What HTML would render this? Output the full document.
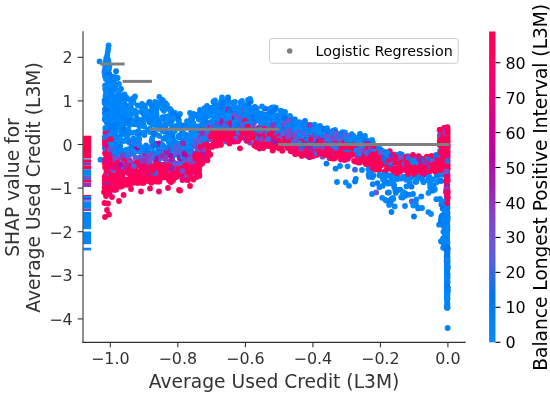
<!DOCTYPE html>
<html><head><meta charset="utf-8"><title>SHAP dependence plot</title>
<style>html,body{margin:0;padding:0;background:#fff;overflow:hidden}svg{display:block}</style></head>
<body>
<svg width="550" height="396" viewBox="0 0 550 396">
<defs><linearGradient id="cb" x1="0" y1="1" x2="0" y2="0">
<stop offset="0.00" stop-color="#008bfb"/>
<stop offset="0.05" stop-color="#0084f9"/>
<stop offset="0.10" stop-color="#007cf5"/>
<stop offset="0.15" stop-color="#0075f0"/>
<stop offset="0.20" stop-color="#246cea"/>
<stop offset="0.25" stop-color="#4b63e3"/>
<stop offset="0.30" stop-color="#635adb"/>
<stop offset="0.35" stop-color="#754fd1"/>
<stop offset="0.40" stop-color="#8443c6"/>
<stop offset="0.45" stop-color="#9135ba"/>
<stop offset="0.50" stop-color="#9b23ad"/>
<stop offset="0.55" stop-color="#ac16a7"/>
<stop offset="0.60" stop-color="#bb00a0"/>
<stop offset="0.65" stop-color="#c90098"/>
<stop offset="0.70" stop-color="#d5008f"/>
<stop offset="0.75" stop-color="#e00086"/>
<stop offset="0.80" stop-color="#e9007c"/>
<stop offset="0.85" stop-color="#f20072"/>
<stop offset="0.90" stop-color="#f90067"/>
<stop offset="0.95" stop-color="#fe005c"/>
<stop offset="1.00" stop-color="#ff0051"/>
</linearGradient></defs>
<rect width="550" height="396" fill="#fff"/>
<g id="pts">
<circle cx="139.7" cy="145.9" r="2.9" fill="#9234b9"/>
<circle cx="286.7" cy="125.7" r="2.9" fill="#595edf"/>
<circle cx="446.3" cy="146.4" r="2.9" fill="#ff0057"/>
<circle cx="214.4" cy="142.1" r="2.9" fill="#ff0059"/>
<circle cx="164.7" cy="131.7" r="2.9" fill="#1d6deb"/>
<circle cx="365.7" cy="144.2" r="2.9" fill="#008afb"/>
<circle cx="371.7" cy="159.5" r="2.9" fill="#ef0075"/>
<circle cx="220.8" cy="144.2" r="2.9" fill="#fd005e"/>
<circle cx="271.0" cy="108.2" r="2.9" fill="#0087fa"/>
<circle cx="108.7" cy="144.1" r="2.9" fill="#0085f9"/>
<circle cx="202.7" cy="120.6" r="2.9" fill="#0088fa"/>
<circle cx="447.1" cy="158.3" r="2.9" fill="#ff0056"/>
<circle cx="134.0" cy="98.0" r="2.9" fill="#0086f9"/>
<circle cx="394.8" cy="156.1" r="2.9" fill="#0084f9"/>
<circle cx="445.7" cy="164.6" r="2.9" fill="#ff0059"/>
<circle cx="399.2" cy="170.0" r="2.9" fill="#ff005c"/>
<circle cx="326.5" cy="130.5" r="2.9" fill="#0086f9"/>
<circle cx="144.5" cy="164.7" r="2.9" fill="#fc0060"/>
<circle cx="435.1" cy="170.3" r="2.9" fill="#fc0060"/>
<circle cx="442.8" cy="160.6" r="2.9" fill="#ff005a"/>
<circle cx="446.8" cy="283.3" r="2.9" fill="#0079f4"/>
<circle cx="153.1" cy="177.3" r="2.9" fill="#fe005e"/>
<circle cx="446.5" cy="229.4" r="2.9" fill="#0089fa"/>
<circle cx="314.3" cy="142.6" r="2.9" fill="#fc0060"/>
<circle cx="267.9" cy="143.4" r="2.9" fill="#fe005e"/>
<circle cx="343.7" cy="133.0" r="2.9" fill="#0084f9"/>
<circle cx="370.6" cy="164.3" r="2.9" fill="#ff0053"/>
<circle cx="388.8" cy="155.5" r="2.9" fill="#585edf"/>
<circle cx="159.5" cy="180.6" r="2.9" fill="#ff005a"/>
<circle cx="143.5" cy="182.9" r="2.9" fill="#eb007a"/>
<circle cx="446.9" cy="212.2" r="2.9" fill="#794ccf"/>
<circle cx="446.8" cy="185.7" r="2.9" fill="#fa0064"/>
<circle cx="445.0" cy="207.0" r="2.9" fill="#007af4"/>
<circle cx="205.1" cy="123.0" r="2.9" fill="#0085f9"/>
<circle cx="445.0" cy="169.5" r="2.9" fill="#fd005f"/>
<circle cx="125.1" cy="179.4" r="2.9" fill="#ff005b"/>
<circle cx="208.5" cy="115.8" r="2.9" fill="#0083f8"/>
<circle cx="200.8" cy="119.2" r="2.9" fill="#007ef6"/>
<circle cx="146.5" cy="117.8" r="2.9" fill="#0088fa"/>
<circle cx="319.7" cy="132.8" r="2.9" fill="#0083f8"/>
<circle cx="169.0" cy="142.0" r="2.9" fill="#0088fa"/>
<circle cx="126.8" cy="166.7" r="2.9" fill="#fe005c"/>
<circle cx="222.9" cy="111.9" r="2.9" fill="#585edf"/>
<circle cx="143.1" cy="180.8" r="2.9" fill="#ff005b"/>
<circle cx="204.4" cy="137.5" r="2.9" fill="#6b55d7"/>
<circle cx="229.8" cy="121.7" r="2.9" fill="#007ff7"/>
<circle cx="109.6" cy="113.6" r="2.9" fill="#0078f3"/>
<circle cx="404.5" cy="160.7" r="2.9" fill="#605bdc"/>
<circle cx="419.3" cy="159.3" r="2.9" fill="#f4006f"/>
<circle cx="220.2" cy="129.7" r="2.9" fill="#ff0059"/>
<circle cx="229.4" cy="135.3" r="2.9" fill="#b20ea4"/>
<circle cx="250.1" cy="132.0" r="2.9" fill="#bb00a0"/>
<circle cx="175.6" cy="170.1" r="2.9" fill="#f10073"/>
<circle cx="218.0" cy="108.9" r="2.9" fill="#0089fa"/>
<circle cx="106.0" cy="60.5" r="2.9" fill="#0088fa"/>
<circle cx="303.2" cy="145.7" r="2.9" fill="#ff0054"/>
<circle cx="131.0" cy="189.0" r="2.9" fill="#fd005f"/>
<circle cx="100.5" cy="159.7" r="2.9" fill="#0086fa"/>
<circle cx="279.8" cy="138.0" r="2.9" fill="#ff0052"/>
<circle cx="367.4" cy="152.8" r="2.9" fill="#ff0055"/>
<circle cx="161.9" cy="119.2" r="2.9" fill="#008afb"/>
<circle cx="446.8" cy="132.6" r="2.9" fill="#ff005a"/>
<circle cx="131.7" cy="166.9" r="2.9" fill="#007af4"/>
<circle cx="105.1" cy="109.0" r="2.9" fill="#007ef6"/>
<circle cx="249.6" cy="110.3" r="2.9" fill="#0076f1"/>
<circle cx="190.9" cy="170.9" r="2.9" fill="#ff0053"/>
<circle cx="275.6" cy="144.6" r="2.9" fill="#ee0077"/>
<circle cx="133.1" cy="111.0" r="2.9" fill="#007df6"/>
<circle cx="277.9" cy="147.0" r="2.9" fill="#ff0055"/>
<circle cx="307.5" cy="155.6" r="2.9" fill="#fd005e"/>
<circle cx="223.3" cy="108.0" r="2.9" fill="#3769e8"/>
<circle cx="446.1" cy="156.1" r="2.9" fill="#8b3cc0"/>
<circle cx="131.0" cy="169.8" r="2.9" fill="#8c3bbf"/>
<circle cx="302.0" cy="149.9" r="2.9" fill="#ff005b"/>
<circle cx="196.4" cy="155.9" r="2.9" fill="#fe005c"/>
<circle cx="164.3" cy="105.0" r="2.9" fill="#008afb"/>
<circle cx="151.3" cy="130.3" r="2.9" fill="#3569e8"/>
<circle cx="445.7" cy="133.2" r="2.9" fill="#fd0060"/>
<circle cx="149.2" cy="180.8" r="2.9" fill="#ff005b"/>
<circle cx="446.6" cy="158.9" r="2.9" fill="#ff0057"/>
<circle cx="440.7" cy="145.5" r="2.9" fill="#ff005b"/>
<circle cx="127.3" cy="121.6" r="2.9" fill="#0086f9"/>
<circle cx="446.9" cy="233.5" r="2.9" fill="#0080f7"/>
<circle cx="108.3" cy="48.5" r="2.9" fill="#0088fa"/>
<circle cx="108.4" cy="106.1" r="2.9" fill="#0085f9"/>
<circle cx="261.4" cy="145.9" r="2.9" fill="#ff0054"/>
<circle cx="370.9" cy="170.2" r="2.9" fill="#0077f2"/>
<circle cx="314.6" cy="139.4" r="2.9" fill="#0084f9"/>
<circle cx="155.5" cy="171.4" r="2.9" fill="#ff0057"/>
<circle cx="242.7" cy="129.0" r="2.9" fill="#5161e1"/>
<circle cx="339.9" cy="155.7" r="2.9" fill="#ff005c"/>
<circle cx="243.0" cy="121.2" r="2.9" fill="#3b68e7"/>
<circle cx="218.6" cy="119.6" r="2.9" fill="#0084f9"/>
<circle cx="446.2" cy="242.8" r="2.9" fill="#0083f9"/>
<circle cx="430.9" cy="162.2" r="2.9" fill="#4266e5"/>
<circle cx="447.2" cy="283.7" r="2.9" fill="#008bfb"/>
<circle cx="154.2" cy="124.4" r="2.9" fill="#0086fa"/>
<circle cx="273.7" cy="115.3" r="2.9" fill="#7350d2"/>
<circle cx="131.0" cy="183.8" r="2.9" fill="#ff0054"/>
<circle cx="149.7" cy="163.4" r="2.9" fill="#ab17a7"/>
<circle cx="162.6" cy="176.3" r="2.9" fill="#ff0057"/>
<circle cx="186.5" cy="158.2" r="2.9" fill="#9f21ac"/>
<circle cx="173.2" cy="145.3" r="2.9" fill="#4466e5"/>
<circle cx="443.1" cy="247.8" r="2.9" fill="#0089fa"/>
<circle cx="447.3" cy="179.2" r="2.9" fill="#f00074"/>
<circle cx="447.0" cy="208.3" r="2.9" fill="#0086f9"/>
<circle cx="443.7" cy="225.0" r="2.9" fill="#007ef6"/>
<circle cx="426.2" cy="162.2" r="2.9" fill="#635adb"/>
<circle cx="143.4" cy="164.4" r="2.9" fill="#ff0056"/>
<circle cx="139.2" cy="139.5" r="2.9" fill="#0085f9"/>
<circle cx="130.8" cy="140.4" r="2.9" fill="#0086f9"/>
<circle cx="447.3" cy="174.9" r="2.9" fill="#ea007b"/>
<circle cx="302.0" cy="124.7" r="2.9" fill="#0084f9"/>
<circle cx="220.9" cy="106.5" r="2.9" fill="#0075f1"/>
<circle cx="179.4" cy="123.7" r="2.9" fill="#0085f9"/>
<circle cx="293.7" cy="146.4" r="2.9" fill="#6b56d7"/>
<circle cx="203.5" cy="150.1" r="2.9" fill="#ff0054"/>
<circle cx="107.5" cy="130.1" r="2.9" fill="#0086fa"/>
<circle cx="447.3" cy="162.6" r="2.9" fill="#982ab1"/>
<circle cx="227.5" cy="116.1" r="2.9" fill="#0085f9"/>
<circle cx="120.6" cy="182.8" r="2.9" fill="#ff0059"/>
<circle cx="105.5" cy="132.6" r="2.9" fill="#0082f8"/>
<circle cx="447.2" cy="254.1" r="2.9" fill="#0085f9"/>
<circle cx="417.2" cy="158.5" r="2.9" fill="#0082f8"/>
<circle cx="144.4" cy="115.7" r="2.9" fill="#0084f9"/>
<circle cx="418.2" cy="208.4" r="2.9" fill="#0088fa"/>
<circle cx="191.9" cy="171.7" r="2.9" fill="#ff0059"/>
<circle cx="155.0" cy="102.0" r="2.9" fill="#0087fa"/>
<circle cx="414.3" cy="160.9" r="2.9" fill="#8e39bd"/>
<circle cx="447.2" cy="283.1" r="2.9" fill="#0078f3"/>
<circle cx="289.8" cy="144.0" r="2.9" fill="#ff005a"/>
<circle cx="433.6" cy="185.4" r="2.9" fill="#0077f2"/>
<circle cx="425.9" cy="162.2" r="2.9" fill="#326ae9"/>
<circle cx="198.9" cy="119.6" r="2.9" fill="#0088fa"/>
<circle cx="352.0" cy="142.9" r="2.9" fill="#ff005b"/>
<circle cx="365.9" cy="164.0" r="2.9" fill="#fc0061"/>
<circle cx="424.4" cy="174.7" r="2.9" fill="#ff005b"/>
<circle cx="244.8" cy="118.9" r="2.9" fill="#007cf5"/>
<circle cx="106.5" cy="112.3" r="2.9" fill="#0086fa"/>
<circle cx="203.3" cy="146.0" r="2.9" fill="#ef0075"/>
<circle cx="264.0" cy="128.2" r="2.9" fill="#fe005d"/>
<circle cx="145.5" cy="112.5" r="2.9" fill="#0084f9"/>
<circle cx="176.2" cy="166.0" r="2.9" fill="#ff0057"/>
<circle cx="446.9" cy="168.4" r="2.9" fill="#fd0060"/>
<circle cx="390.9" cy="162.3" r="2.9" fill="#fd0060"/>
<circle cx="274.7" cy="123.4" r="2.9" fill="#0083f8"/>
<circle cx="375.8" cy="155.0" r="2.9" fill="#6658d9"/>
<circle cx="443.2" cy="165.5" r="2.9" fill="#ff0057"/>
<circle cx="424.9" cy="161.5" r="2.9" fill="#ff0053"/>
<circle cx="443.9" cy="152.8" r="2.9" fill="#4665e5"/>
<circle cx="367.4" cy="149.4" r="2.9" fill="#007ef6"/>
<circle cx="148.1" cy="147.4" r="2.9" fill="#0087fa"/>
<circle cx="198.8" cy="166.9" r="2.9" fill="#ff0053"/>
<circle cx="249.7" cy="118.2" r="2.9" fill="#008bfb"/>
<circle cx="134.6" cy="177.6" r="2.9" fill="#f7006a"/>
<circle cx="399.4" cy="171.8" r="2.9" fill="#ff005b"/>
<circle cx="401.7" cy="164.1" r="2.9" fill="#fe005d"/>
<circle cx="437.7" cy="156.3" r="2.9" fill="#8d3abe"/>
<circle cx="109.4" cy="141.6" r="2.9" fill="#0085f9"/>
<circle cx="307.4" cy="133.8" r="2.9" fill="#8b3cc0"/>
<circle cx="352.5" cy="137.4" r="2.9" fill="#007df5"/>
<circle cx="241.4" cy="123.3" r="2.9" fill="#0087fa"/>
<circle cx="164.9" cy="152.9" r="2.9" fill="#276cea"/>
<circle cx="224.6" cy="135.1" r="2.9" fill="#6e54d5"/>
<circle cx="440.0" cy="161.9" r="2.9" fill="#fd005f"/>
<circle cx="150.0" cy="188.5" r="2.9" fill="#fc0061"/>
<circle cx="113.2" cy="108.9" r="2.9" fill="#008afb"/>
<circle cx="128.7" cy="142.0" r="2.9" fill="#2f6ae9"/>
<circle cx="364.8" cy="139.2" r="2.9" fill="#0082f8"/>
<circle cx="227.9" cy="129.3" r="2.9" fill="#883fc2"/>
<circle cx="345.5" cy="145.8" r="2.9" fill="#fe005c"/>
<circle cx="309.0" cy="139.7" r="2.9" fill="#0083f8"/>
<circle cx="447.3" cy="130.4" r="2.9" fill="#fe005d"/>
<circle cx="296.2" cy="143.0" r="2.9" fill="#7151d3"/>
<circle cx="447.0" cy="288.5" r="2.9" fill="#0086f9"/>
<circle cx="112.0" cy="197.0" r="2.9" fill="#ff005a"/>
<circle cx="436.0" cy="155.0" r="2.9" fill="#0088fa"/>
<circle cx="339.7" cy="134.1" r="2.9" fill="#0083f8"/>
<circle cx="410.5" cy="161.1" r="2.9" fill="#2f6ae9"/>
<circle cx="398.0" cy="190.0" r="2.9" fill="#6559da"/>
<circle cx="115.0" cy="99.9" r="2.9" fill="#0088fa"/>
<circle cx="430.0" cy="160.0" r="2.9" fill="#0089fa"/>
<circle cx="156.6" cy="174.0" r="2.9" fill="#ff005a"/>
<circle cx="120.3" cy="124.6" r="2.9" fill="#0082f8"/>
<circle cx="350.0" cy="138.2" r="2.9" fill="#008afb"/>
<circle cx="114.7" cy="119.7" r="2.9" fill="#0075f1"/>
<circle cx="447.0" cy="148.6" r="2.9" fill="#ff0054"/>
<circle cx="105.6" cy="163.8" r="2.9" fill="#fe005d"/>
<circle cx="135.4" cy="164.4" r="2.9" fill="#fd0060"/>
<circle cx="190.0" cy="186.0" r="2.9" fill="#ff0052"/>
<circle cx="323.9" cy="145.2" r="2.9" fill="#ff0055"/>
<circle cx="234.6" cy="136.5" r="2.9" fill="#ff0056"/>
<circle cx="156.1" cy="155.4" r="2.9" fill="#008bfb"/>
<circle cx="112.1" cy="149.3" r="2.9" fill="#0087fa"/>
<circle cx="184.4" cy="134.6" r="2.9" fill="#0084f9"/>
<circle cx="432.9" cy="164.0" r="2.9" fill="#ff0055"/>
<circle cx="123.0" cy="111.6" r="2.9" fill="#0089fa"/>
<circle cx="374.9" cy="152.8" r="2.9" fill="#0083f8"/>
<circle cx="204.9" cy="140.1" r="2.9" fill="#ff0053"/>
<circle cx="324.2" cy="139.3" r="2.9" fill="#ff005a"/>
<circle cx="264.4" cy="138.3" r="2.9" fill="#ff005a"/>
<circle cx="195.6" cy="154.9" r="2.9" fill="#893ec2"/>
<circle cx="360.0" cy="134.0" r="2.9" fill="#0082f8"/>
<circle cx="271.9" cy="107.9" r="2.9" fill="#0085f9"/>
<circle cx="384.8" cy="181.4" r="2.9" fill="#0085f9"/>
<circle cx="229.4" cy="141.0" r="2.9" fill="#eb007b"/>
<circle cx="216.3" cy="127.2" r="2.9" fill="#0079f4"/>
<circle cx="164.3" cy="169.1" r="2.9" fill="#ff0054"/>
<circle cx="212.5" cy="133.1" r="2.9" fill="#8f37bc"/>
<circle cx="177.0" cy="175.7" r="2.9" fill="#fd005f"/>
<circle cx="286.5" cy="143.7" r="2.9" fill="#ff0057"/>
<circle cx="324.0" cy="140.1" r="2.9" fill="#8245c8"/>
<circle cx="130.4" cy="111.6" r="2.9" fill="#0077f2"/>
<circle cx="447.4" cy="297.9" r="2.9" fill="#336ae8"/>
<circle cx="182.3" cy="169.9" r="2.9" fill="#ff0052"/>
<circle cx="389.5" cy="155.6" r="2.9" fill="#794cce"/>
<circle cx="182.3" cy="128.1" r="2.9" fill="#0087fa"/>
<circle cx="257.0" cy="146.9" r="2.9" fill="#ff005a"/>
<circle cx="208.7" cy="136.8" r="2.9" fill="#7b4bcd"/>
<circle cx="340.6" cy="137.6" r="2.9" fill="#008afb"/>
<circle cx="333.3" cy="158.7" r="2.9" fill="#ff0058"/>
<circle cx="226.3" cy="128.0" r="2.9" fill="#0087fa"/>
<circle cx="147.4" cy="170.4" r="2.9" fill="#6f53d4"/>
<circle cx="221.0" cy="101.5" r="2.9" fill="#008afb"/>
<circle cx="292.1" cy="119.5" r="2.9" fill="#0076f2"/>
<circle cx="220.6" cy="123.6" r="2.9" fill="#0072ee"/>
<circle cx="447.4" cy="159.2" r="2.9" fill="#f80068"/>
<circle cx="361.1" cy="143.0" r="2.9" fill="#0084f9"/>
<circle cx="446.1" cy="248.8" r="2.9" fill="#0085f9"/>
<circle cx="293.5" cy="149.4" r="2.9" fill="#ff005a"/>
<circle cx="447.4" cy="152.2" r="2.9" fill="#7450d2"/>
<circle cx="391.6" cy="180.4" r="2.9" fill="#0087fa"/>
<circle cx="201.4" cy="150.1" r="2.9" fill="#6d54d6"/>
<circle cx="415.3" cy="165.6" r="2.9" fill="#784dcf"/>
<circle cx="416.1" cy="170.3" r="2.9" fill="#ff0058"/>
<circle cx="446.7" cy="201.8" r="2.9" fill="#007af4"/>
<circle cx="363.1" cy="157.7" r="2.9" fill="#fe005c"/>
<circle cx="447.2" cy="132.8" r="2.9" fill="#fe005e"/>
<circle cx="162.6" cy="117.2" r="2.9" fill="#0083f8"/>
<circle cx="283.1" cy="130.3" r="2.9" fill="#0088fa"/>
<circle cx="111.0" cy="128.4" r="2.9" fill="#0089fa"/>
<circle cx="191.0" cy="176.8" r="2.9" fill="#ff0057"/>
<circle cx="228.7" cy="123.0" r="2.9" fill="#8047ca"/>
<circle cx="335.3" cy="155.3" r="2.9" fill="#fe005e"/>
<circle cx="292.7" cy="148.5" r="2.9" fill="#ff005a"/>
<circle cx="446.9" cy="196.0" r="2.9" fill="#6e54d5"/>
<circle cx="272.1" cy="117.9" r="2.9" fill="#007af4"/>
<circle cx="176.2" cy="125.8" r="2.9" fill="#0087fa"/>
<circle cx="163.2" cy="165.0" r="2.9" fill="#6757d9"/>
<circle cx="111.1" cy="114.4" r="2.9" fill="#0083f8"/>
<circle cx="341.5" cy="142.3" r="2.9" fill="#625adb"/>
<circle cx="222.8" cy="133.1" r="2.9" fill="#ff0055"/>
<circle cx="283.2" cy="134.5" r="2.9" fill="#ff0058"/>
<circle cx="403.4" cy="165.1" r="2.9" fill="#fb0062"/>
<circle cx="447.3" cy="172.3" r="2.9" fill="#764ed0"/>
<circle cx="333.3" cy="154.1" r="2.9" fill="#6359da"/>
<circle cx="445.7" cy="226.1" r="2.9" fill="#0087fa"/>
<circle cx="169.3" cy="173.3" r="2.9" fill="#fd005f"/>
<circle cx="111.7" cy="104.0" r="2.9" fill="#0083f8"/>
<circle cx="446.3" cy="146.1" r="2.9" fill="#ff0052"/>
<circle cx="358.3" cy="153.4" r="2.9" fill="#ff005b"/>
<circle cx="246.9" cy="120.5" r="2.9" fill="#0087fa"/>
<circle cx="442.4" cy="149.4" r="2.9" fill="#ff005c"/>
<circle cx="444.6" cy="231.8" r="2.9" fill="#0077f2"/>
<circle cx="99.6" cy="61.4" r="2.9" fill="#0086fa"/>
<circle cx="250.4" cy="118.9" r="2.9" fill="#007ff7"/>
<circle cx="352.6" cy="142.7" r="2.9" fill="#ff0055"/>
<circle cx="429.8" cy="163.2" r="2.9" fill="#fe005d"/>
<circle cx="445.7" cy="132.3" r="2.9" fill="#ff0056"/>
<circle cx="211.4" cy="127.0" r="2.9" fill="#0089fa"/>
<circle cx="186.0" cy="134.7" r="2.9" fill="#0086f9"/>
<circle cx="439.6" cy="144.7" r="2.9" fill="#ff0051"/>
<circle cx="230.2" cy="141.5" r="2.9" fill="#ff005a"/>
<circle cx="317.8" cy="126.9" r="2.9" fill="#0083f8"/>
<circle cx="253.2" cy="110.7" r="2.9" fill="#0088fa"/>
<circle cx="384.2" cy="155.0" r="2.9" fill="#fe005e"/>
<circle cx="446.0" cy="213.1" r="2.9" fill="#007af4"/>
<circle cx="309.4" cy="141.9" r="2.9" fill="#ff0051"/>
<circle cx="307.2" cy="148.4" r="2.9" fill="#ff005a"/>
<circle cx="419.2" cy="177.5" r="2.9" fill="#008afb"/>
<circle cx="447.5" cy="154.5" r="2.9" fill="#ff0059"/>
<circle cx="211.6" cy="112.3" r="2.9" fill="#0085f9"/>
<circle cx="244.0" cy="113.6" r="2.9" fill="#0089fa"/>
<circle cx="208.4" cy="136.4" r="2.9" fill="#aa18a8"/>
<circle cx="368.8" cy="147.3" r="2.9" fill="#007cf5"/>
<circle cx="382.2" cy="197.8" r="2.9" fill="#008afb"/>
<circle cx="112.6" cy="95.8" r="2.9" fill="#0084f9"/>
<circle cx="327.7" cy="144.4" r="2.9" fill="#ff0058"/>
<circle cx="301.5" cy="142.9" r="2.9" fill="#ff0055"/>
<circle cx="144.8" cy="154.1" r="2.9" fill="#9d23ad"/>
<circle cx="309.9" cy="128.9" r="2.9" fill="#0088fa"/>
<circle cx="447.3" cy="145.9" r="2.9" fill="#ff0051"/>
<circle cx="447.3" cy="142.9" r="2.9" fill="#ff0054"/>
<circle cx="110.0" cy="99.6" r="2.9" fill="#0087fa"/>
<circle cx="410.7" cy="162.8" r="2.9" fill="#fe005e"/>
<circle cx="322.8" cy="149.8" r="2.9" fill="#ff005a"/>
<circle cx="129.3" cy="160.0" r="2.9" fill="#fd005e"/>
<circle cx="274.5" cy="135.9" r="2.9" fill="#ff0057"/>
<circle cx="375.2" cy="157.6" r="2.9" fill="#ff005b"/>
<circle cx="433.6" cy="157.7" r="2.9" fill="#ff0052"/>
<circle cx="165.4" cy="103.2" r="2.9" fill="#0072ee"/>
<circle cx="372.0" cy="140.0" r="2.9" fill="#008bfb"/>
<circle cx="382.3" cy="159.3" r="2.9" fill="#ff0054"/>
<circle cx="113.2" cy="138.9" r="2.9" fill="#0079f3"/>
<circle cx="172.2" cy="119.9" r="2.9" fill="#0089fa"/>
<circle cx="105.4" cy="114.7" r="2.9" fill="#0088fa"/>
<circle cx="440.0" cy="151.0" r="2.9" fill="#0088fa"/>
<circle cx="387.0" cy="166.0" r="2.9" fill="#ff0052"/>
<circle cx="182.3" cy="148.8" r="2.9" fill="#0085f9"/>
<circle cx="190.4" cy="156.8" r="2.9" fill="#a51daa"/>
<circle cx="363.5" cy="139.4" r="2.9" fill="#0086f9"/>
<circle cx="447.3" cy="248.5" r="2.9" fill="#0085f9"/>
<circle cx="226.1" cy="141.5" r="2.9" fill="#5161e2"/>
<circle cx="309.4" cy="147.4" r="2.9" fill="#ff0056"/>
<circle cx="169.4" cy="131.8" r="2.9" fill="#0083f8"/>
<circle cx="263.8" cy="125.8" r="2.9" fill="#008afb"/>
<circle cx="167.0" cy="154.2" r="2.9" fill="#0087fa"/>
<circle cx="446.8" cy="179.0" r="2.9" fill="#fe005d"/>
<circle cx="229.9" cy="131.1" r="2.9" fill="#ff0052"/>
<circle cx="431.4" cy="155.9" r="2.9" fill="#ff0054"/>
<circle cx="446.3" cy="169.0" r="2.9" fill="#fc0061"/>
<circle cx="127.9" cy="162.5" r="2.9" fill="#ff0052"/>
<circle cx="275.0" cy="107.5" r="2.9" fill="#0085f9"/>
<circle cx="238.4" cy="135.7" r="2.9" fill="#ff0058"/>
<circle cx="379.2" cy="169.5" r="2.9" fill="#ff0055"/>
<circle cx="217.3" cy="126.4" r="2.9" fill="#0089fa"/>
<circle cx="138.6" cy="137.9" r="2.9" fill="#0083f8"/>
<circle cx="445.7" cy="163.9" r="2.9" fill="#fe005d"/>
<circle cx="247.4" cy="120.7" r="2.9" fill="#5560e0"/>
<circle cx="335.2" cy="144.0" r="2.9" fill="#008afb"/>
<circle cx="417.7" cy="158.7" r="2.9" fill="#1c6deb"/>
<circle cx="108.2" cy="87.0" r="2.9" fill="#007bf4"/>
<circle cx="447.3" cy="288.3" r="2.9" fill="#0088fa"/>
<circle cx="322.2" cy="143.3" r="2.9" fill="#007df6"/>
<circle cx="116.1" cy="189.7" r="2.9" fill="#ff0053"/>
<circle cx="125.7" cy="153.2" r="2.9" fill="#0085f9"/>
<circle cx="447.3" cy="172.9" r="2.9" fill="#ff0056"/>
<circle cx="414.1" cy="159.8" r="2.9" fill="#6957d8"/>
<circle cx="447.0" cy="258.2" r="2.9" fill="#0085f9"/>
<circle cx="314.6" cy="150.3" r="2.9" fill="#fe005d"/>
<circle cx="290.0" cy="116.0" r="2.9" fill="#008afb"/>
<circle cx="334.4" cy="144.1" r="2.9" fill="#0089fa"/>
<circle cx="108.5" cy="132.8" r="2.9" fill="#007af4"/>
<circle cx="106.8" cy="88.2" r="2.9" fill="#007ef6"/>
<circle cx="312.2" cy="145.5" r="2.9" fill="#b606a2"/>
<circle cx="433.5" cy="160.1" r="2.9" fill="#4b63e3"/>
<circle cx="446.3" cy="210.4" r="2.9" fill="#0087fa"/>
<circle cx="191.0" cy="137.7" r="2.9" fill="#0087fa"/>
<circle cx="110.5" cy="76.0" r="2.9" fill="#0085f9"/>
<circle cx="429.6" cy="169.8" r="2.9" fill="#fe005e"/>
<circle cx="163.6" cy="177.3" r="2.9" fill="#fe005d"/>
<circle cx="278.9" cy="132.6" r="2.9" fill="#a120ab"/>
<circle cx="259.7" cy="142.8" r="2.9" fill="#f4006f"/>
<circle cx="200.2" cy="152.5" r="2.9" fill="#972cb3"/>
<circle cx="283.5" cy="144.7" r="2.9" fill="#ff0058"/>
<circle cx="116.7" cy="130.2" r="2.9" fill="#0081f7"/>
<circle cx="111.2" cy="148.2" r="2.9" fill="#007ef6"/>
<circle cx="355.9" cy="154.4" r="2.9" fill="#8c3bbf"/>
<circle cx="105.5" cy="159.5" r="2.9" fill="#fe005d"/>
<circle cx="422.7" cy="161.7" r="2.9" fill="#0086f9"/>
<circle cx="349.4" cy="139.6" r="2.9" fill="#0082f8"/>
<circle cx="441.1" cy="131.1" r="2.9" fill="#fd0060"/>
<circle cx="234.8" cy="107.8" r="2.9" fill="#0087fa"/>
<circle cx="192.6" cy="117.8" r="2.9" fill="#0085f9"/>
<circle cx="232.1" cy="129.9" r="2.9" fill="#fe005e"/>
<circle cx="416.8" cy="179.2" r="2.9" fill="#0086fa"/>
<circle cx="327.5" cy="140.5" r="2.9" fill="#0085f9"/>
<circle cx="445.7" cy="151.3" r="2.9" fill="#fd0060"/>
<circle cx="107.4" cy="140.0" r="2.9" fill="#008bfb"/>
<circle cx="403.2" cy="176.7" r="2.9" fill="#0088fa"/>
<circle cx="447.4" cy="216.8" r="2.9" fill="#007cf5"/>
<circle cx="134.8" cy="173.3" r="2.9" fill="#fd005e"/>
<circle cx="207.0" cy="106.0" r="2.9" fill="#0085f9"/>
<circle cx="111.9" cy="96.5" r="2.9" fill="#0086fa"/>
<circle cx="447.3" cy="133.6" r="2.9" fill="#f5006d"/>
<circle cx="380.4" cy="157.3" r="2.9" fill="#f5006e"/>
<circle cx="447.3" cy="251.1" r="2.9" fill="#0089fa"/>
<circle cx="430.0" cy="160.2" r="2.9" fill="#0087fa"/>
<circle cx="366.1" cy="141.4" r="2.9" fill="#0087fa"/>
<circle cx="147.5" cy="173.6" r="2.9" fill="#fc0060"/>
<circle cx="446.5" cy="169.5" r="2.9" fill="#ff0054"/>
<circle cx="288.1" cy="143.1" r="2.9" fill="#ff0052"/>
<circle cx="150.5" cy="171.6" r="2.9" fill="#ff0052"/>
<circle cx="403.2" cy="165.1" r="2.9" fill="#4166e6"/>
<circle cx="446.7" cy="190.9" r="2.9" fill="#ff0053"/>
<circle cx="110.4" cy="182.0" r="2.9" fill="#fd005f"/>
<circle cx="246.5" cy="140.8" r="2.9" fill="#ff0055"/>
<circle cx="305.2" cy="131.1" r="2.9" fill="#0087fa"/>
<circle cx="444.9" cy="150.0" r="2.9" fill="#fd005f"/>
<circle cx="420.6" cy="161.7" r="2.9" fill="#fe005e"/>
<circle cx="197.2" cy="144.7" r="2.9" fill="#008afb"/>
<circle cx="357.4" cy="158.6" r="2.9" fill="#ee0076"/>
<circle cx="446.3" cy="128.0" r="2.9" fill="#ff0058"/>
<circle cx="301.8" cy="143.7" r="2.9" fill="#ff005b"/>
<circle cx="338.8" cy="139.8" r="2.9" fill="#7c4acd"/>
<circle cx="317.7" cy="139.5" r="2.9" fill="#774dd0"/>
<circle cx="141.5" cy="168.9" r="2.9" fill="#8d3abe"/>
<circle cx="188.6" cy="159.9" r="2.9" fill="#8c3cc0"/>
<circle cx="108.0" cy="83.0" r="2.9" fill="#0086f9"/>
<circle cx="379.5" cy="187.2" r="2.9" fill="#0087fa"/>
<circle cx="267.2" cy="125.4" r="2.9" fill="#0083f8"/>
<circle cx="125.1" cy="169.5" r="2.9" fill="#f7006a"/>
<circle cx="343.3" cy="135.1" r="2.9" fill="#8b3dc0"/>
<circle cx="446.0" cy="133.7" r="2.9" fill="#ff0059"/>
<circle cx="173.4" cy="149.5" r="2.9" fill="#0085f9"/>
<circle cx="178.7" cy="119.9" r="2.9" fill="#0087fa"/>
<circle cx="188.2" cy="124.5" r="2.9" fill="#0083f8"/>
<circle cx="172.5" cy="135.7" r="2.9" fill="#008afb"/>
<circle cx="218.4" cy="138.5" r="2.9" fill="#fe005d"/>
<circle cx="106.2" cy="120.2" r="2.9" fill="#0088fa"/>
<circle cx="372.7" cy="161.3" r="2.9" fill="#8f37bc"/>
<circle cx="442.8" cy="174.8" r="2.9" fill="#008afb"/>
<circle cx="235.9" cy="128.7" r="2.9" fill="#ff0053"/>
<circle cx="105.4" cy="143.8" r="2.9" fill="#0083f8"/>
<circle cx="445.8" cy="160.4" r="2.9" fill="#fd005f"/>
<circle cx="285.0" cy="112.0" r="2.9" fill="#0084f9"/>
<circle cx="367.6" cy="154.8" r="2.9" fill="#ff0055"/>
<circle cx="439.1" cy="224.7" r="2.9" fill="#0086f9"/>
<circle cx="128.0" cy="134.5" r="2.9" fill="#008afb"/>
<circle cx="439.7" cy="155.0" r="2.9" fill="#4f62e2"/>
<circle cx="187.6" cy="162.0" r="2.9" fill="#6a56d7"/>
<circle cx="239.1" cy="139.3" r="2.9" fill="#ff005b"/>
<circle cx="355.0" cy="169.7" r="2.9" fill="#3868e7"/>
<circle cx="349.0" cy="135.8" r="2.9" fill="#008afb"/>
<circle cx="446.4" cy="167.4" r="2.9" fill="#ea007c"/>
<circle cx="394.3" cy="172.4" r="2.9" fill="#ff0054"/>
<circle cx="188.2" cy="151.0" r="2.9" fill="#5a5dde"/>
<circle cx="370.5" cy="150.0" r="2.9" fill="#ff0059"/>
<circle cx="200.0" cy="136.7" r="2.9" fill="#3968e7"/>
<circle cx="165.3" cy="104.8" r="2.9" fill="#0087fa"/>
<circle cx="178.5" cy="145.7" r="2.9" fill="#008afb"/>
<circle cx="105.8" cy="114.4" r="2.9" fill="#0088fa"/>
<circle cx="334.4" cy="141.2" r="2.9" fill="#0088fa"/>
<circle cx="276.0" cy="141.5" r="2.9" fill="#ff005a"/>
<circle cx="111.8" cy="137.2" r="2.9" fill="#0084f9"/>
<circle cx="262.5" cy="122.5" r="2.9" fill="#3769e8"/>
<circle cx="372.7" cy="143.2" r="2.9" fill="#0088fa"/>
<circle cx="306.5" cy="147.5" r="2.9" fill="#ff0058"/>
<circle cx="362.1" cy="149.6" r="2.9" fill="#0077f2"/>
<circle cx="331.0" cy="142.7" r="2.9" fill="#0083f8"/>
<circle cx="210.4" cy="134.9" r="2.9" fill="#fe005d"/>
<circle cx="399.4" cy="155.2" r="2.9" fill="#008afb"/>
<circle cx="446.9" cy="148.2" r="2.9" fill="#ff0058"/>
<circle cx="352.7" cy="154.6" r="2.9" fill="#b704a2"/>
<circle cx="234.4" cy="125.5" r="2.9" fill="#ff0052"/>
<circle cx="106.7" cy="163.5" r="2.9" fill="#ff0053"/>
<circle cx="202.0" cy="149.3" r="2.9" fill="#635adb"/>
<circle cx="295.1" cy="151.7" r="2.9" fill="#ff0055"/>
<circle cx="445.1" cy="232.1" r="2.9" fill="#0080f7"/>
<circle cx="304.9" cy="150.3" r="2.9" fill="#ab16a7"/>
<circle cx="322.0" cy="148.2" r="2.9" fill="#ff005a"/>
<circle cx="446.1" cy="238.7" r="2.9" fill="#0089fa"/>
<circle cx="446.2" cy="133.9" r="2.9" fill="#fe005d"/>
<circle cx="112.0" cy="79.0" r="2.9" fill="#0076f2"/>
<circle cx="357.6" cy="143.1" r="2.9" fill="#0085f9"/>
<circle cx="240.8" cy="102.2" r="2.9" fill="#0083f8"/>
<circle cx="178.4" cy="173.8" r="2.9" fill="#5261e1"/>
<circle cx="266.6" cy="119.5" r="2.9" fill="#7251d3"/>
<circle cx="406.7" cy="170.6" r="2.9" fill="#ff0056"/>
<circle cx="272.8" cy="138.5" r="2.9" fill="#4166e6"/>
<circle cx="351.1" cy="145.1" r="2.9" fill="#ec0079"/>
<circle cx="124.8" cy="132.5" r="2.9" fill="#0084f9"/>
<circle cx="183.6" cy="141.7" r="2.9" fill="#0080f7"/>
<circle cx="186.3" cy="169.7" r="2.9" fill="#fd0060"/>
<circle cx="395.9" cy="160.9" r="2.9" fill="#fe005d"/>
<circle cx="155.5" cy="169.3" r="2.9" fill="#fd005f"/>
<circle cx="162.0" cy="175.5" r="2.9" fill="#fd0060"/>
<circle cx="441.5" cy="140.7" r="2.9" fill="#ff0057"/>
<circle cx="115.2" cy="158.1" r="2.9" fill="#ff005a"/>
<circle cx="365.7" cy="145.0" r="2.9" fill="#0079f3"/>
<circle cx="244.9" cy="105.5" r="2.9" fill="#0087fa"/>
<circle cx="106.0" cy="135.1" r="2.9" fill="#0089fa"/>
<circle cx="432.5" cy="162.5" r="2.9" fill="#fd005f"/>
<circle cx="109.6" cy="175.7" r="2.9" fill="#ff0053"/>
<circle cx="421.2" cy="158.6" r="2.9" fill="#007df6"/>
<circle cx="389.0" cy="192.5" r="2.9" fill="#008afa"/>
<circle cx="345.3" cy="145.7" r="2.9" fill="#ff0058"/>
<circle cx="108.4" cy="87.7" r="2.9" fill="#0085f9"/>
<circle cx="176.1" cy="142.9" r="2.9" fill="#008afb"/>
<circle cx="106.9" cy="153.9" r="2.9" fill="#0086f9"/>
<circle cx="206.7" cy="140.2" r="2.9" fill="#8146c9"/>
<circle cx="128.3" cy="173.0" r="2.9" fill="#fc0061"/>
<circle cx="113.6" cy="188.9" r="2.9" fill="#fd005f"/>
<circle cx="110.8" cy="150.0" r="2.9" fill="#0086f9"/>
<circle cx="447.3" cy="181.2" r="2.9" fill="#ae14a6"/>
<circle cx="447.2" cy="232.8" r="2.9" fill="#0089fa"/>
<circle cx="110.8" cy="95.6" r="2.9" fill="#008afb"/>
<circle cx="402.8" cy="166.4" r="2.9" fill="#3869e8"/>
<circle cx="439.2" cy="157.9" r="2.9" fill="#5a5ede"/>
<circle cx="286.0" cy="138.1" r="2.9" fill="#fd0060"/>
<circle cx="447.4" cy="289.8" r="2.9" fill="#0089fa"/>
<circle cx="423.5" cy="166.2" r="2.9" fill="#ff0059"/>
<circle cx="237.0" cy="113.8" r="2.9" fill="#008afb"/>
<circle cx="447.2" cy="265.1" r="2.9" fill="#0088fa"/>
<circle cx="108.9" cy="128.4" r="2.9" fill="#0084f9"/>
<circle cx="106.7" cy="148.3" r="2.9" fill="#0085f9"/>
<circle cx="447.0" cy="282.3" r="2.9" fill="#008afb"/>
<circle cx="219.9" cy="131.7" r="2.9" fill="#ff0053"/>
<circle cx="439.6" cy="129.9" r="2.9" fill="#ff0057"/>
<circle cx="286.5" cy="124.5" r="2.9" fill="#0086f9"/>
<circle cx="215.0" cy="141.3" r="2.9" fill="#972bb3"/>
<circle cx="331.3" cy="151.3" r="2.9" fill="#ff005b"/>
<circle cx="190.6" cy="159.7" r="2.9" fill="#a020ac"/>
<circle cx="161.5" cy="174.7" r="2.9" fill="#8f37bc"/>
<circle cx="231.0" cy="113.0" r="2.9" fill="#8047ca"/>
<circle cx="111.2" cy="174.6" r="2.9" fill="#0077f2"/>
<circle cx="415.7" cy="161.4" r="2.9" fill="#9829b1"/>
<circle cx="447.6" cy="328.0" r="2.9" fill="#0086fa"/>
<circle cx="358.5" cy="151.2" r="2.9" fill="#ff0053"/>
<circle cx="406.8" cy="158.4" r="2.9" fill="#5a5ede"/>
<circle cx="447.4" cy="193.4" r="2.9" fill="#ff0051"/>
<circle cx="372.4" cy="158.7" r="2.9" fill="#ff0056"/>
<circle cx="398.5" cy="177.3" r="2.9" fill="#0087fa"/>
<circle cx="306.9" cy="129.9" r="2.9" fill="#0086fa"/>
<circle cx="281.6" cy="142.8" r="2.9" fill="#fa0065"/>
<circle cx="202.4" cy="142.6" r="2.9" fill="#9f21ac"/>
<circle cx="125.4" cy="181.1" r="2.9" fill="#f30071"/>
<circle cx="322.6" cy="156.7" r="2.9" fill="#6d54d6"/>
<circle cx="162.2" cy="156.9" r="2.9" fill="#5261e1"/>
<circle cx="447.4" cy="158.1" r="2.9" fill="#f5006e"/>
<circle cx="200.4" cy="165.0" r="2.9" fill="#ff005c"/>
<circle cx="108.1" cy="70.7" r="2.9" fill="#0085f9"/>
<circle cx="109.8" cy="146.9" r="2.9" fill="#7251d3"/>
<circle cx="385.6" cy="157.8" r="2.9" fill="#0088fa"/>
<circle cx="445.5" cy="158.7" r="2.9" fill="#fd005e"/>
<circle cx="321.1" cy="146.0" r="2.9" fill="#008afb"/>
<circle cx="341.6" cy="137.9" r="2.9" fill="#1f6deb"/>
<circle cx="318.1" cy="127.5" r="2.9" fill="#0077f2"/>
<circle cx="316.1" cy="152.8" r="2.9" fill="#ff0053"/>
<circle cx="172.5" cy="169.2" r="2.9" fill="#f10072"/>
<circle cx="445.1" cy="141.8" r="2.9" fill="#ff0055"/>
<circle cx="171.3" cy="171.2" r="2.9" fill="#7c4acc"/>
<circle cx="388.6" cy="158.8" r="2.9" fill="#0087fa"/>
<circle cx="395.5" cy="155.5" r="2.9" fill="#008afb"/>
<circle cx="104.6" cy="101.6" r="2.9" fill="#0086f9"/>
<circle cx="445.1" cy="160.0" r="2.9" fill="#ff005b"/>
<circle cx="232.3" cy="129.6" r="2.9" fill="#ff0058"/>
<circle cx="113.8" cy="138.3" r="2.9" fill="#0085f9"/>
<circle cx="201.5" cy="154.9" r="2.9" fill="#ff0054"/>
<circle cx="111.0" cy="78.9" r="2.9" fill="#0080f7"/>
<circle cx="188.5" cy="161.3" r="2.9" fill="#6658d9"/>
<circle cx="242.1" cy="128.8" r="2.9" fill="#0085f9"/>
<circle cx="332.4" cy="140.1" r="2.9" fill="#0088fa"/>
<circle cx="445.7" cy="130.1" r="2.9" fill="#ff005a"/>
<circle cx="206.1" cy="147.6" r="2.9" fill="#ff0053"/>
<circle cx="266.6" cy="132.0" r="2.9" fill="#6359da"/>
<circle cx="296.0" cy="142.0" r="2.9" fill="#0075f1"/>
<circle cx="351.1" cy="154.0" r="2.9" fill="#ff0052"/>
<circle cx="369.8" cy="142.7" r="2.9" fill="#7351d2"/>
<circle cx="308.8" cy="141.7" r="2.9" fill="#ef0075"/>
<circle cx="108.4" cy="114.8" r="2.9" fill="#0086fa"/>
<circle cx="195.2" cy="140.0" r="2.9" fill="#0086fa"/>
<circle cx="218.6" cy="106.9" r="2.9" fill="#0077f2"/>
<circle cx="305.1" cy="153.7" r="2.9" fill="#a021ac"/>
<circle cx="298.3" cy="142.1" r="2.9" fill="#fd005e"/>
<circle cx="316.7" cy="145.3" r="2.9" fill="#fd0060"/>
<circle cx="226.4" cy="105.9" r="2.9" fill="#0089fa"/>
<circle cx="122.6" cy="166.8" r="2.9" fill="#ff0053"/>
<circle cx="427.6" cy="164.6" r="2.9" fill="#f30070"/>
<circle cx="206.9" cy="134.5" r="2.9" fill="#0087fa"/>
<circle cx="268.7" cy="119.3" r="2.9" fill="#0086f9"/>
<circle cx="163.7" cy="164.9" r="2.9" fill="#9a25ae"/>
<circle cx="440.8" cy="170.0" r="2.9" fill="#ff0056"/>
<circle cx="414.6" cy="158.3" r="2.9" fill="#0081f7"/>
<circle cx="447.0" cy="159.8" r="2.9" fill="#ff0059"/>
<circle cx="389.1" cy="152.6" r="2.9" fill="#ff0053"/>
<circle cx="188.6" cy="164.2" r="2.9" fill="#ff005a"/>
<circle cx="250.0" cy="99.0" r="2.9" fill="#0089fa"/>
<circle cx="177.6" cy="152.0" r="2.9" fill="#4166e6"/>
<circle cx="169.8" cy="174.9" r="2.9" fill="#fe005c"/>
<circle cx="427.2" cy="172.8" r="2.9" fill="#ff005a"/>
<circle cx="129.8" cy="112.4" r="2.9" fill="#0083f8"/>
<circle cx="376.3" cy="152.9" r="2.9" fill="#ec0079"/>
<circle cx="158.4" cy="165.1" r="2.9" fill="#fd005f"/>
<circle cx="293.6" cy="142.1" r="2.9" fill="#0087fa"/>
<circle cx="379.2" cy="152.4" r="2.9" fill="#0089fa"/>
<circle cx="447.0" cy="266.7" r="2.9" fill="#007ff7"/>
<circle cx="345.2" cy="138.1" r="2.9" fill="#0081f8"/>
<circle cx="192.8" cy="139.7" r="2.9" fill="#0087fa"/>
<circle cx="130.8" cy="108.0" r="2.9" fill="#0086f9"/>
<circle cx="130.6" cy="105.7" r="2.9" fill="#0079f3"/>
<circle cx="326.8" cy="144.4" r="2.9" fill="#9135ba"/>
<circle cx="407.8" cy="156.2" r="2.9" fill="#0082f8"/>
<circle cx="306.1" cy="129.6" r="2.9" fill="#008afb"/>
<circle cx="355.0" cy="181.5" r="2.9" fill="#007af4"/>
<circle cx="157.8" cy="174.0" r="2.9" fill="#ea007b"/>
<circle cx="214.4" cy="121.7" r="2.9" fill="#0086fa"/>
<circle cx="361.9" cy="151.8" r="2.9" fill="#fd0060"/>
<circle cx="370.2" cy="153.2" r="2.9" fill="#ff0052"/>
<circle cx="444.6" cy="142.1" r="2.9" fill="#fc0060"/>
<circle cx="357.4" cy="141.8" r="2.9" fill="#ff0051"/>
<circle cx="447.1" cy="140.8" r="2.9" fill="#fe005e"/>
<circle cx="165.4" cy="176.7" r="2.9" fill="#8344c7"/>
<circle cx="255.5" cy="118.9" r="2.9" fill="#0084f9"/>
<circle cx="123.0" cy="171.3" r="2.9" fill="#fc0060"/>
<circle cx="439.2" cy="154.5" r="2.9" fill="#0083f8"/>
<circle cx="169.0" cy="153.6" r="2.9" fill="#7a4bce"/>
<circle cx="435.7" cy="169.4" r="2.9" fill="#ff0052"/>
<circle cx="414.2" cy="159.8" r="2.9" fill="#a21fab"/>
<circle cx="306.7" cy="153.4" r="2.9" fill="#fe005d"/>
<circle cx="205.8" cy="117.9" r="2.9" fill="#0080f7"/>
<circle cx="447.1" cy="287.6" r="2.9" fill="#0087fa"/>
<circle cx="176.2" cy="154.8" r="2.9" fill="#0088fa"/>
<circle cx="447.4" cy="267.2" r="2.9" fill="#0084f9"/>
<circle cx="288.2" cy="136.9" r="2.9" fill="#ac15a7"/>
<circle cx="296.0" cy="125.8" r="2.9" fill="#0088fa"/>
<circle cx="282.3" cy="150.8" r="2.9" fill="#ff0059"/>
<circle cx="171.7" cy="135.2" r="2.9" fill="#0083f8"/>
<circle cx="442.8" cy="202.1" r="2.9" fill="#0076f2"/>
<circle cx="443.0" cy="158.3" r="2.9" fill="#565fe0"/>
<circle cx="350.6" cy="151.0" r="2.9" fill="#fd0060"/>
<circle cx="430.3" cy="184.2" r="2.9" fill="#0085f9"/>
<circle cx="109.9" cy="177.2" r="2.9" fill="#fc0061"/>
<circle cx="164.2" cy="109.6" r="2.9" fill="#0084f9"/>
<circle cx="224.6" cy="119.9" r="2.9" fill="#595edf"/>
<circle cx="165.6" cy="126.6" r="2.9" fill="#0076f2"/>
<circle cx="182.6" cy="153.0" r="2.9" fill="#0089fa"/>
<circle cx="155.4" cy="161.3" r="2.9" fill="#9431b7"/>
<circle cx="447.4" cy="298.0" r="2.9" fill="#0076f2"/>
<circle cx="185.3" cy="178.5" r="2.9" fill="#ff0057"/>
<circle cx="295.7" cy="136.4" r="2.9" fill="#0087fa"/>
<circle cx="133.3" cy="138.6" r="2.9" fill="#0086f9"/>
<circle cx="328.4" cy="147.7" r="2.9" fill="#ff005a"/>
<circle cx="447.3" cy="307.8" r="2.9" fill="#0085f9"/>
<circle cx="229.3" cy="131.3" r="2.9" fill="#fe005c"/>
<circle cx="296.9" cy="142.1" r="2.9" fill="#575fdf"/>
<circle cx="122.9" cy="134.3" r="2.9" fill="#0085f9"/>
<circle cx="331.6" cy="135.9" r="2.9" fill="#0082f8"/>
<circle cx="445.9" cy="148.7" r="2.9" fill="#ff0051"/>
<circle cx="264.2" cy="120.3" r="2.9" fill="#0079f3"/>
<circle cx="373.3" cy="150.1" r="2.9" fill="#9d22ac"/>
<circle cx="390.9" cy="165.0" r="2.9" fill="#0070ed"/>
<circle cx="122.2" cy="116.3" r="2.9" fill="#0086fa"/>
<circle cx="413.9" cy="160.4" r="2.9" fill="#ff0054"/>
<circle cx="447.1" cy="179.2" r="2.9" fill="#ff0053"/>
<circle cx="372.3" cy="177.3" r="2.9" fill="#0086f9"/>
<circle cx="233.5" cy="102.7" r="2.9" fill="#007df5"/>
<circle cx="383.3" cy="157.9" r="2.9" fill="#fd005e"/>
<circle cx="345.6" cy="146.3" r="2.9" fill="#0076f2"/>
<circle cx="279.3" cy="115.1" r="2.9" fill="#276cea"/>
<circle cx="108.4" cy="138.4" r="2.9" fill="#0084f9"/>
<circle cx="447.4" cy="139.5" r="2.9" fill="#ff0058"/>
<circle cx="439.3" cy="166.4" r="2.9" fill="#fd005f"/>
<circle cx="134.7" cy="163.9" r="2.9" fill="#b110a5"/>
<circle cx="121.5" cy="99.1" r="2.9" fill="#007bf4"/>
<circle cx="447.2" cy="167.3" r="2.9" fill="#ff0054"/>
<circle cx="187.0" cy="121.1" r="2.9" fill="#0083f8"/>
<circle cx="158.5" cy="144.0" r="2.9" fill="#0086fa"/>
<circle cx="384.5" cy="172.0" r="2.9" fill="#ff0055"/>
<circle cx="179.3" cy="169.3" r="2.9" fill="#ff0052"/>
<circle cx="346.0" cy="146.3" r="2.9" fill="#fe005e"/>
<circle cx="165.6" cy="116.7" r="2.9" fill="#0089fa"/>
<circle cx="125.0" cy="132.9" r="2.9" fill="#0084f9"/>
<circle cx="445.4" cy="141.6" r="2.9" fill="#ff0056"/>
<circle cx="304.0" cy="154.8" r="2.9" fill="#ff005b"/>
<circle cx="267.4" cy="127.7" r="2.9" fill="#008afb"/>
<circle cx="445.3" cy="128.4" r="2.9" fill="#ff0052"/>
<circle cx="110.7" cy="96.0" r="2.9" fill="#007ef6"/>
<circle cx="169.7" cy="147.4" r="2.9" fill="#0085f9"/>
<circle cx="443.4" cy="218.9" r="2.9" fill="#0086fa"/>
<circle cx="280.3" cy="111.0" r="2.9" fill="#0088fa"/>
<circle cx="368.9" cy="153.2" r="2.9" fill="#ff005a"/>
<circle cx="355.1" cy="146.0" r="2.9" fill="#fc0060"/>
<circle cx="142.1" cy="112.1" r="2.9" fill="#008afa"/>
<circle cx="430.8" cy="167.9" r="2.9" fill="#8c3bbf"/>
<circle cx="134.4" cy="124.2" r="2.9" fill="#0076f1"/>
<circle cx="446.6" cy="188.2" r="2.9" fill="#fd005f"/>
<circle cx="127.0" cy="184.1" r="2.9" fill="#ff005a"/>
<circle cx="306.8" cy="151.9" r="2.9" fill="#fd005f"/>
<circle cx="161.1" cy="164.7" r="2.9" fill="#fd005e"/>
<circle cx="178.6" cy="165.7" r="2.9" fill="#ff0057"/>
<circle cx="359.3" cy="142.8" r="2.9" fill="#007cf5"/>
<circle cx="190.0" cy="113.0" r="2.9" fill="#0089fa"/>
<circle cx="362.3" cy="157.2" r="2.9" fill="#6f53d5"/>
<circle cx="133.4" cy="102.4" r="2.9" fill="#0089fa"/>
<circle cx="445.6" cy="133.3" r="2.9" fill="#ff0058"/>
<circle cx="216.9" cy="134.7" r="2.9" fill="#fe005d"/>
<circle cx="139.4" cy="159.2" r="2.9" fill="#0077f2"/>
<circle cx="216.9" cy="115.4" r="2.9" fill="#0085f9"/>
<circle cx="374.8" cy="161.8" r="2.9" fill="#007bf4"/>
<circle cx="237.1" cy="114.5" r="2.9" fill="#0087fa"/>
<circle cx="447.0" cy="291.2" r="2.9" fill="#0089fa"/>
<circle cx="286.8" cy="132.9" r="2.9" fill="#ff0053"/>
<circle cx="115.1" cy="107.8" r="2.9" fill="#0086f9"/>
<circle cx="447.2" cy="192.8" r="2.9" fill="#fe005d"/>
<circle cx="122.4" cy="186.0" r="2.9" fill="#ff0054"/>
<circle cx="336.3" cy="133.3" r="2.9" fill="#4e62e2"/>
<circle cx="447.2" cy="145.1" r="2.9" fill="#ff005b"/>
<circle cx="159.2" cy="135.8" r="2.9" fill="#0086f9"/>
<circle cx="110.4" cy="155.6" r="2.9" fill="#fd005e"/>
<circle cx="447.1" cy="164.2" r="2.9" fill="#fe005c"/>
<circle cx="159.7" cy="166.1" r="2.9" fill="#ff0055"/>
<circle cx="126.8" cy="110.2" r="2.9" fill="#007ff7"/>
<circle cx="208.2" cy="122.9" r="2.9" fill="#0076f1"/>
<circle cx="439.1" cy="174.9" r="2.9" fill="#0089fa"/>
<circle cx="268.1" cy="122.1" r="2.9" fill="#007ff6"/>
<circle cx="289.1" cy="125.8" r="2.9" fill="#0086f9"/>
<circle cx="150.1" cy="128.7" r="2.9" fill="#0083f8"/>
<circle cx="307.2" cy="151.6" r="2.9" fill="#ff0059"/>
<circle cx="447.1" cy="137.8" r="2.9" fill="#fe005c"/>
<circle cx="374.0" cy="149.6" r="2.9" fill="#0084f9"/>
<circle cx="134.8" cy="132.3" r="2.9" fill="#008afb"/>
<circle cx="268.6" cy="123.4" r="2.9" fill="#0077f2"/>
<circle cx="111.9" cy="171.7" r="2.9" fill="#fd0060"/>
<circle cx="105.1" cy="76.5" r="2.9" fill="#0089fa"/>
<circle cx="193.6" cy="133.5" r="2.9" fill="#0089fa"/>
<circle cx="356.2" cy="149.8" r="2.9" fill="#ff0054"/>
<circle cx="291.9" cy="136.8" r="2.9" fill="#0085f9"/>
<circle cx="136.0" cy="114.1" r="2.9" fill="#0084f9"/>
<circle cx="109.4" cy="182.0" r="2.9" fill="#ff005a"/>
<circle cx="446.9" cy="154.3" r="2.9" fill="#fe005d"/>
<circle cx="374.9" cy="146.3" r="2.9" fill="#bc00a0"/>
<circle cx="105.6" cy="130.2" r="2.9" fill="#0088fa"/>
<circle cx="165.8" cy="138.4" r="2.9" fill="#0083f8"/>
<circle cx="225.9" cy="139.9" r="2.9" fill="#9036bb"/>
<circle cx="446.3" cy="153.1" r="2.9" fill="#7251d3"/>
<circle cx="288.5" cy="139.9" r="2.9" fill="#fb0062"/>
<circle cx="191.6" cy="147.0" r="2.9" fill="#0089fa"/>
<circle cx="241.2" cy="137.8" r="2.9" fill="#fc0060"/>
<circle cx="306.4" cy="155.5" r="2.9" fill="#893fc2"/>
<circle cx="162.4" cy="175.5" r="2.9" fill="#ff0056"/>
<circle cx="241.8" cy="121.2" r="2.9" fill="#0089fa"/>
<circle cx="401.6" cy="154.6" r="2.9" fill="#0089fa"/>
<circle cx="154.2" cy="165.7" r="2.9" fill="#ff0055"/>
<circle cx="410.8" cy="161.3" r="2.9" fill="#0077f2"/>
<circle cx="376.5" cy="153.1" r="2.9" fill="#0086f9"/>
<circle cx="446.3" cy="242.1" r="2.9" fill="#008afb"/>
<circle cx="110.8" cy="162.3" r="2.9" fill="#ff005b"/>
<circle cx="313.7" cy="145.7" r="2.9" fill="#754fd1"/>
<circle cx="336.7" cy="142.8" r="2.9" fill="#008afb"/>
<circle cx="440.9" cy="219.5" r="2.9" fill="#0087fa"/>
<circle cx="266.2" cy="125.7" r="2.9" fill="#6b55d7"/>
<circle cx="348.5" cy="144.7" r="2.9" fill="#0084f9"/>
<circle cx="447.0" cy="269.1" r="2.9" fill="#0085f9"/>
<circle cx="319.7" cy="141.4" r="2.9" fill="#0087fa"/>
<circle cx="345.6" cy="155.1" r="2.9" fill="#fd0060"/>
<circle cx="154.2" cy="171.3" r="2.9" fill="#ff0052"/>
<circle cx="157.9" cy="167.6" r="2.9" fill="#fd005f"/>
<circle cx="441.8" cy="157.1" r="2.9" fill="#ff0054"/>
<circle cx="117.5" cy="177.7" r="2.9" fill="#ff0051"/>
<circle cx="268.9" cy="124.3" r="2.9" fill="#0075f0"/>
<circle cx="169.0" cy="180.2" r="2.9" fill="#ec0079"/>
<circle cx="173.7" cy="163.0" r="2.9" fill="#3968e7"/>
<circle cx="105.7" cy="104.3" r="2.9" fill="#0086f9"/>
<circle cx="447.2" cy="130.6" r="2.9" fill="#ff005a"/>
<circle cx="117.5" cy="171.3" r="2.9" fill="#5c5ddd"/>
<circle cx="291.0" cy="144.6" r="2.9" fill="#9a26af"/>
<circle cx="122.4" cy="183.1" r="2.9" fill="#ff0053"/>
<circle cx="445.2" cy="147.0" r="2.9" fill="#ff0054"/>
<circle cx="108.8" cy="109.1" r="2.9" fill="#0086f9"/>
<circle cx="446.3" cy="168.2" r="2.9" fill="#fa0064"/>
<circle cx="378.4" cy="150.9" r="2.9" fill="#0074f0"/>
<circle cx="300.9" cy="133.3" r="2.9" fill="#9a27b0"/>
<circle cx="315.1" cy="130.1" r="2.9" fill="#008afb"/>
<circle cx="105.2" cy="186.9" r="2.9" fill="#ec0079"/>
<circle cx="276.8" cy="126.0" r="2.9" fill="#6f53d5"/>
<circle cx="107.9" cy="59.2" r="2.9" fill="#0088fa"/>
<circle cx="329.8" cy="132.2" r="2.9" fill="#0085f9"/>
<circle cx="443.7" cy="222.6" r="2.9" fill="#007ef6"/>
<circle cx="246.3" cy="117.6" r="2.9" fill="#0087fa"/>
<circle cx="225.2" cy="138.6" r="2.9" fill="#ff0058"/>
<circle cx="212.2" cy="146.9" r="2.9" fill="#fe005e"/>
<circle cx="300.9" cy="145.4" r="2.9" fill="#a41daa"/>
<circle cx="232.6" cy="131.7" r="2.9" fill="#ff0052"/>
<circle cx="430.3" cy="163.3" r="2.9" fill="#fe005c"/>
<circle cx="353.5" cy="148.5" r="2.9" fill="#ff0056"/>
<circle cx="445.5" cy="135.8" r="2.9" fill="#ff0052"/>
<circle cx="132.4" cy="181.4" r="2.9" fill="#ff0057"/>
<circle cx="418.5" cy="156.2" r="2.9" fill="#ff0059"/>
<circle cx="111.5" cy="117.7" r="2.9" fill="#0086f9"/>
<circle cx="182.7" cy="170.0" r="2.9" fill="#ff0052"/>
<circle cx="174.6" cy="153.0" r="2.9" fill="#0084f9"/>
<circle cx="115.4" cy="121.7" r="2.9" fill="#0089fa"/>
<circle cx="120.1" cy="103.1" r="2.9" fill="#0083f8"/>
<circle cx="125.3" cy="166.8" r="2.9" fill="#ee0077"/>
<circle cx="106.0" cy="110.0" r="2.9" fill="#008afb"/>
<circle cx="446.8" cy="152.1" r="2.9" fill="#ff0057"/>
<circle cx="430.2" cy="187.4" r="2.9" fill="#0088fa"/>
<circle cx="296.3" cy="124.1" r="2.9" fill="#0083f8"/>
<circle cx="128.0" cy="132.1" r="2.9" fill="#0088fa"/>
<circle cx="370.5" cy="172.8" r="2.9" fill="#0087fa"/>
<circle cx="257.7" cy="112.7" r="2.9" fill="#007ef6"/>
<circle cx="176.0" cy="145.8" r="2.9" fill="#5161e1"/>
<circle cx="294.9" cy="133.4" r="2.9" fill="#0084f9"/>
<circle cx="445.4" cy="231.7" r="2.9" fill="#0089fa"/>
<circle cx="131.0" cy="180.4" r="2.9" fill="#ff0057"/>
<circle cx="252.9" cy="129.4" r="2.9" fill="#972bb2"/>
<circle cx="447.0" cy="262.8" r="2.9" fill="#236ceb"/>
<circle cx="400.6" cy="160.5" r="2.9" fill="#ff005c"/>
<circle cx="427.8" cy="180.2" r="2.9" fill="#0087fa"/>
<circle cx="159.2" cy="128.9" r="2.9" fill="#0085f9"/>
<circle cx="447.5" cy="181.1" r="2.9" fill="#ff0056"/>
<circle cx="446.0" cy="214.0" r="2.9" fill="#0086f9"/>
<circle cx="345.9" cy="152.5" r="2.9" fill="#fd005f"/>
<circle cx="165.9" cy="169.7" r="2.9" fill="#0077f2"/>
<circle cx="256.8" cy="108.3" r="2.9" fill="#3869e8"/>
<circle cx="115.2" cy="85.0" r="2.9" fill="#0089fa"/>
<circle cx="296.5" cy="150.8" r="2.9" fill="#ff0059"/>
<circle cx="170.4" cy="135.6" r="2.9" fill="#008afb"/>
<circle cx="293.2" cy="120.2" r="2.9" fill="#0078f2"/>
<circle cx="288.4" cy="121.3" r="2.9" fill="#0088fa"/>
<circle cx="387.8" cy="183.6" r="2.9" fill="#0077f2"/>
<circle cx="413.4" cy="157.9" r="2.9" fill="#fd005f"/>
<circle cx="406.1" cy="179.7" r="2.9" fill="#0087fa"/>
<circle cx="430.3" cy="184.0" r="2.9" fill="#008afb"/>
<circle cx="365.2" cy="141.1" r="2.9" fill="#9f21ac"/>
<circle cx="104.6" cy="187.5" r="2.9" fill="#ff0059"/>
<circle cx="305.4" cy="153.9" r="2.9" fill="#fd005f"/>
<circle cx="444.7" cy="151.7" r="2.9" fill="#ff0051"/>
<circle cx="208.5" cy="146.8" r="2.9" fill="#784dcf"/>
<circle cx="357.6" cy="160.3" r="2.9" fill="#ff005a"/>
<circle cx="105.9" cy="132.2" r="2.9" fill="#0084f9"/>
<circle cx="232.8" cy="108.8" r="2.9" fill="#0087fa"/>
<circle cx="128.2" cy="116.0" r="2.9" fill="#0088fa"/>
<circle cx="444.8" cy="205.6" r="2.9" fill="#0086f9"/>
<circle cx="234.9" cy="122.0" r="2.9" fill="#0087fa"/>
<circle cx="336.7" cy="151.6" r="2.9" fill="#ff005b"/>
<circle cx="377.5" cy="160.0" r="2.9" fill="#ff005b"/>
<circle cx="415.8" cy="173.0" r="2.9" fill="#ff0052"/>
<circle cx="165.8" cy="173.6" r="2.9" fill="#a71ba9"/>
<circle cx="443.8" cy="144.8" r="2.9" fill="#ff0056"/>
<circle cx="106.0" cy="132.3" r="2.9" fill="#0085f9"/>
<circle cx="345.0" cy="132.5" r="2.9" fill="#008afb"/>
<circle cx="445.2" cy="167.9" r="2.9" fill="#fd005f"/>
<circle cx="447.1" cy="177.0" r="2.9" fill="#ff0058"/>
<circle cx="183.4" cy="167.1" r="2.9" fill="#ff0059"/>
<circle cx="154.2" cy="154.2" r="2.9" fill="#0082f8"/>
<circle cx="347.6" cy="166.3" r="2.9" fill="#0086fa"/>
<circle cx="444.6" cy="129.6" r="2.9" fill="#f80068"/>
<circle cx="109.6" cy="120.5" r="2.9" fill="#008afb"/>
<circle cx="177.0" cy="173.2" r="2.9" fill="#ff005a"/>
<circle cx="341.8" cy="151.5" r="2.9" fill="#ff0057"/>
<circle cx="152.6" cy="142.2" r="2.9" fill="#0085f9"/>
<circle cx="297.9" cy="152.1" r="2.9" fill="#3968e7"/>
<circle cx="257.6" cy="120.0" r="2.9" fill="#0089fa"/>
<circle cx="331.4" cy="149.9" r="2.9" fill="#9234b9"/>
<circle cx="377.1" cy="155.4" r="2.9" fill="#7251d3"/>
<circle cx="110.0" cy="93.1" r="2.9" fill="#0084f9"/>
<circle cx="322.3" cy="149.1" r="2.9" fill="#fe005d"/>
<circle cx="303.0" cy="152.0" r="2.9" fill="#a31eaa"/>
<circle cx="445.1" cy="168.8" r="2.9" fill="#ff0054"/>
<circle cx="299.4" cy="149.6" r="2.9" fill="#4c63e3"/>
<circle cx="396.3" cy="173.7" r="2.9" fill="#fe005c"/>
<circle cx="241.2" cy="125.6" r="2.9" fill="#625adb"/>
<circle cx="420.0" cy="158.0" r="2.9" fill="#0083f8"/>
<circle cx="257.6" cy="135.7" r="2.9" fill="#316ae9"/>
<circle cx="172.3" cy="157.1" r="2.9" fill="#0084f9"/>
<circle cx="110.7" cy="117.9" r="2.9" fill="#0089fa"/>
<circle cx="264.4" cy="114.8" r="2.9" fill="#0088fa"/>
<circle cx="442.5" cy="151.8" r="2.9" fill="#ff0052"/>
<circle cx="377.4" cy="183.1" r="2.9" fill="#007ef6"/>
<circle cx="446.4" cy="140.7" r="2.9" fill="#f10073"/>
<circle cx="198.7" cy="129.9" r="2.9" fill="#008afb"/>
<circle cx="335.0" cy="145.0" r="2.9" fill="#007df5"/>
<circle cx="311.8" cy="145.3" r="2.9" fill="#7b4bcd"/>
<circle cx="394.1" cy="154.4" r="2.9" fill="#0086f9"/>
<circle cx="372.6" cy="151.5" r="2.9" fill="#8741c4"/>
<circle cx="249.7" cy="109.3" r="2.9" fill="#0081f8"/>
<circle cx="195.5" cy="155.4" r="2.9" fill="#ff0058"/>
<circle cx="182.4" cy="144.3" r="2.9" fill="#0085f9"/>
<circle cx="390.6" cy="202.4" r="2.9" fill="#0079f3"/>
<circle cx="445.5" cy="227.3" r="2.9" fill="#0082f8"/>
<circle cx="404.5" cy="157.9" r="2.9" fill="#7251d3"/>
<circle cx="312.8" cy="138.0" r="2.9" fill="#0087fa"/>
<circle cx="415.9" cy="163.0" r="2.9" fill="#ff0058"/>
<circle cx="187.0" cy="167.8" r="2.9" fill="#ff005b"/>
<circle cx="399.4" cy="155.0" r="2.9" fill="#fd005f"/>
<circle cx="245.9" cy="113.8" r="2.9" fill="#0086f9"/>
<circle cx="332.7" cy="150.1" r="2.9" fill="#ff0057"/>
<circle cx="312.6" cy="137.1" r="2.9" fill="#0083f8"/>
<circle cx="268.3" cy="131.5" r="2.9" fill="#fe005c"/>
<circle cx="447.3" cy="286.9" r="2.9" fill="#0086fa"/>
<circle cx="165.4" cy="124.4" r="2.9" fill="#0087fa"/>
<circle cx="447.4" cy="147.6" r="2.9" fill="#fd0060"/>
<circle cx="118.0" cy="171.4" r="2.9" fill="#ff0053"/>
<circle cx="240.4" cy="125.2" r="2.9" fill="#7a4cce"/>
<circle cx="115.5" cy="84.6" r="2.9" fill="#0084f9"/>
<circle cx="447.4" cy="214.2" r="2.9" fill="#9037bb"/>
<circle cx="298.5" cy="140.2" r="2.9" fill="#fe005c"/>
<circle cx="428.5" cy="170.7" r="2.9" fill="#fe005d"/>
<circle cx="108.3" cy="108.1" r="2.9" fill="#0088fa"/>
<circle cx="391.4" cy="198.9" r="2.9" fill="#0088fa"/>
<circle cx="417.5" cy="164.5" r="2.9" fill="#ff0059"/>
<circle cx="447.0" cy="142.0" r="2.9" fill="#ff0057"/>
<circle cx="227.9" cy="139.7" r="2.9" fill="#fe005d"/>
<circle cx="279.3" cy="148.4" r="2.9" fill="#fe005d"/>
<circle cx="106.3" cy="64.8" r="2.9" fill="#0087fa"/>
<circle cx="177.1" cy="165.4" r="2.9" fill="#a61ca9"/>
<circle cx="430.9" cy="163.7" r="2.9" fill="#f20071"/>
<circle cx="134.6" cy="163.3" r="2.9" fill="#ff0051"/>
<circle cx="129.4" cy="179.9" r="2.9" fill="#ff005b"/>
<circle cx="163.7" cy="157.6" r="2.9" fill="#7a4cce"/>
<circle cx="439.4" cy="162.4" r="2.9" fill="#ff0058"/>
<circle cx="446.5" cy="140.0" r="2.9" fill="#ee0076"/>
<circle cx="119.3" cy="114.4" r="2.9" fill="#0084f9"/>
<circle cx="172.5" cy="169.0" r="2.9" fill="#9036bb"/>
<circle cx="146.8" cy="150.5" r="2.9" fill="#0086f9"/>
<circle cx="378.0" cy="153.2" r="2.9" fill="#0084f9"/>
<circle cx="305.8" cy="142.5" r="2.9" fill="#008afb"/>
<circle cx="147.8" cy="157.1" r="2.9" fill="#8b3cc0"/>
<circle cx="285.2" cy="140.6" r="2.9" fill="#ed0078"/>
<circle cx="203.0" cy="138.5" r="2.9" fill="#0086fa"/>
<circle cx="447.3" cy="156.2" r="2.9" fill="#ff005a"/>
<circle cx="422.5" cy="171.0" r="2.9" fill="#774ed0"/>
<circle cx="286.7" cy="136.3" r="2.9" fill="#ff005a"/>
<circle cx="340.0" cy="134.1" r="2.9" fill="#0079f4"/>
<circle cx="228.1" cy="100.3" r="2.9" fill="#0083f8"/>
<circle cx="319.0" cy="136.0" r="2.9" fill="#8a3dc1"/>
<circle cx="263.8" cy="132.9" r="2.9" fill="#fe005c"/>
<circle cx="194.7" cy="145.4" r="2.9" fill="#962eb5"/>
<circle cx="281.4" cy="138.8" r="2.9" fill="#007af4"/>
<circle cx="447.5" cy="219.7" r="2.9" fill="#0088fa"/>
<circle cx="213.5" cy="101.7" r="2.9" fill="#0079f3"/>
<circle cx="266.3" cy="129.4" r="2.9" fill="#ff005a"/>
<circle cx="109.6" cy="81.4" r="2.9" fill="#0088fa"/>
<circle cx="423.5" cy="182.2" r="2.9" fill="#0089fa"/>
<circle cx="252.6" cy="130.8" r="2.9" fill="#7251d3"/>
<circle cx="184.3" cy="165.4" r="2.9" fill="#fd0060"/>
<circle cx="123.3" cy="165.8" r="2.9" fill="#9037bb"/>
<circle cx="447.1" cy="271.9" r="2.9" fill="#0085f9"/>
<circle cx="446.2" cy="159.6" r="2.9" fill="#ff005a"/>
<circle cx="445.6" cy="155.8" r="2.9" fill="#ff0055"/>
<circle cx="113.8" cy="125.3" r="2.9" fill="#186eec"/>
<circle cx="287.6" cy="123.5" r="2.9" fill="#0086f9"/>
<circle cx="443.2" cy="159.6" r="2.9" fill="#ff005c"/>
<circle cx="421.7" cy="160.2" r="2.9" fill="#ff0051"/>
<circle cx="364.5" cy="154.1" r="2.9" fill="#fe005e"/>
<circle cx="203.5" cy="152.7" r="2.9" fill="#ff0054"/>
<circle cx="446.8" cy="288.0" r="2.9" fill="#008afb"/>
<circle cx="179.7" cy="168.5" r="2.9" fill="#fa0064"/>
<circle cx="447.3" cy="294.8" r="2.9" fill="#0084f9"/>
<circle cx="121.5" cy="153.9" r="2.9" fill="#8245c8"/>
<circle cx="162.6" cy="170.6" r="2.9" fill="#8245c8"/>
<circle cx="446.8" cy="140.9" r="2.9" fill="#5e5cdd"/>
<circle cx="447.1" cy="132.1" r="2.9" fill="#8e38bd"/>
<circle cx="324.0" cy="154.5" r="2.9" fill="#ff0052"/>
<circle cx="133.6" cy="168.8" r="2.9" fill="#ac16a7"/>
<circle cx="418.3" cy="168.3" r="2.9" fill="#972cb3"/>
<circle cx="213.8" cy="127.7" r="2.9" fill="#0078f2"/>
<circle cx="364.9" cy="157.0" r="2.9" fill="#ff0057"/>
<circle cx="401.4" cy="169.4" r="2.9" fill="#fd005f"/>
<circle cx="408.8" cy="178.6" r="2.9" fill="#0085f9"/>
<circle cx="239.0" cy="136.2" r="2.9" fill="#fe005e"/>
<circle cx="446.3" cy="131.8" r="2.9" fill="#fd005f"/>
<circle cx="447.4" cy="167.3" r="2.9" fill="#fe005e"/>
<circle cx="112.7" cy="109.4" r="2.9" fill="#0088fa"/>
<circle cx="446.6" cy="147.1" r="2.9" fill="#972bb2"/>
<circle cx="121.4" cy="170.2" r="2.9" fill="#ff0054"/>
<circle cx="154.6" cy="180.7" r="2.9" fill="#ff0052"/>
<circle cx="370.9" cy="149.1" r="2.9" fill="#ff0051"/>
<circle cx="125.8" cy="158.1" r="2.9" fill="#5560e0"/>
<circle cx="446.9" cy="298.1" r="2.9" fill="#0080f7"/>
<circle cx="106.1" cy="79.1" r="2.9" fill="#0088fa"/>
<circle cx="302.0" cy="143.1" r="2.9" fill="#008afb"/>
<circle cx="119.0" cy="97.4" r="2.9" fill="#0088fa"/>
<circle cx="112.8" cy="90.4" r="2.9" fill="#0087fa"/>
<circle cx="446.3" cy="163.4" r="2.9" fill="#f80068"/>
<circle cx="221.1" cy="113.8" r="2.9" fill="#008afb"/>
<circle cx="280.5" cy="134.5" r="2.9" fill="#9928b0"/>
<circle cx="446.9" cy="153.4" r="2.9" fill="#635adb"/>
<circle cx="447.4" cy="142.4" r="2.9" fill="#ff005b"/>
<circle cx="116.8" cy="161.2" r="2.9" fill="#8245c8"/>
<circle cx="303.4" cy="123.3" r="2.9" fill="#007bf5"/>
<circle cx="296.5" cy="151.2" r="2.9" fill="#ff0053"/>
<circle cx="447.4" cy="176.9" r="2.9" fill="#fe005d"/>
<circle cx="232.1" cy="131.8" r="2.9" fill="#fd0060"/>
<circle cx="341.1" cy="149.0" r="2.9" fill="#fc0060"/>
<circle cx="173.5" cy="164.9" r="2.9" fill="#6c55d6"/>
<circle cx="409.4" cy="177.9" r="2.9" fill="#0084f9"/>
<circle cx="158.2" cy="160.9" r="2.9" fill="#0087fa"/>
<circle cx="135.4" cy="170.9" r="2.9" fill="#f20072"/>
<circle cx="259.6" cy="148.6" r="2.9" fill="#ff0052"/>
<circle cx="329.7" cy="158.2" r="2.9" fill="#ff0052"/>
<circle cx="241.5" cy="122.9" r="2.9" fill="#0089fa"/>
<circle cx="372.8" cy="184.2" r="2.9" fill="#0082f8"/>
<circle cx="218.6" cy="122.1" r="2.9" fill="#007df6"/>
<circle cx="113.5" cy="120.5" r="2.9" fill="#007bf5"/>
<circle cx="149.9" cy="164.6" r="2.9" fill="#7152d4"/>
<circle cx="443.4" cy="148.8" r="2.9" fill="#fe005d"/>
<circle cx="156.7" cy="172.2" r="2.9" fill="#ff005b"/>
<circle cx="327.7" cy="134.4" r="2.9" fill="#7a4cce"/>
<circle cx="169.5" cy="142.9" r="2.9" fill="#0082f8"/>
<circle cx="170.7" cy="182.1" r="2.9" fill="#ff0057"/>
<circle cx="137.6" cy="105.3" r="2.9" fill="#0083f8"/>
<circle cx="447.4" cy="147.8" r="2.9" fill="#ff0058"/>
<circle cx="364.5" cy="152.4" r="2.9" fill="#ff005a"/>
<circle cx="115.7" cy="89.5" r="2.9" fill="#0086f9"/>
<circle cx="128.4" cy="110.2" r="2.9" fill="#0084f9"/>
<circle cx="111.6" cy="163.7" r="2.9" fill="#fe005c"/>
<circle cx="446.8" cy="135.0" r="2.9" fill="#a31eaa"/>
<circle cx="334.2" cy="151.5" r="2.9" fill="#fd005f"/>
<circle cx="217.9" cy="132.6" r="2.9" fill="#0084f9"/>
<circle cx="222.5" cy="130.7" r="2.9" fill="#ff0055"/>
<circle cx="177.2" cy="153.4" r="2.9" fill="#8a3dc1"/>
<circle cx="113.4" cy="98.3" r="2.9" fill="#0088fa"/>
<circle cx="359.8" cy="161.2" r="2.9" fill="#fc0061"/>
<circle cx="138.6" cy="137.4" r="2.9" fill="#008afb"/>
<circle cx="299.3" cy="122.2" r="2.9" fill="#0084f9"/>
<circle cx="335.8" cy="140.1" r="2.9" fill="#0085f9"/>
<circle cx="112.2" cy="88.4" r="2.9" fill="#007cf5"/>
<circle cx="298.5" cy="141.3" r="2.9" fill="#ff0057"/>
<circle cx="416.9" cy="178.5" r="2.9" fill="#007ef6"/>
<circle cx="315.8" cy="139.9" r="2.9" fill="#008afb"/>
<circle cx="406.3" cy="163.0" r="2.9" fill="#ff0058"/>
<circle cx="370.6" cy="146.4" r="2.9" fill="#7c4acd"/>
<circle cx="341.6" cy="149.5" r="2.9" fill="#fd0060"/>
<circle cx="186.1" cy="179.6" r="2.9" fill="#fe005e"/>
<circle cx="446.6" cy="241.7" r="2.9" fill="#007bf5"/>
<circle cx="275.2" cy="128.9" r="2.9" fill="#6d54d6"/>
<circle cx="173.3" cy="173.9" r="2.9" fill="#ff0053"/>
<circle cx="272.6" cy="137.2" r="2.9" fill="#fe005d"/>
<circle cx="164.9" cy="104.7" r="2.9" fill="#0089fa"/>
<circle cx="141.4" cy="111.6" r="2.9" fill="#0084f9"/>
<circle cx="323.5" cy="148.9" r="2.9" fill="#6b55d7"/>
<circle cx="447.2" cy="156.4" r="2.9" fill="#ff005a"/>
<circle cx="231.4" cy="136.9" r="2.9" fill="#fd005e"/>
<circle cx="119.0" cy="84.0" r="2.9" fill="#008afb"/>
<circle cx="226.9" cy="116.7" r="2.9" fill="#008afb"/>
<circle cx="252.0" cy="123.0" r="2.9" fill="#fd005f"/>
<circle cx="129.6" cy="163.5" r="2.9" fill="#fe005d"/>
<circle cx="442.3" cy="158.2" r="2.9" fill="#ff005a"/>
<circle cx="414.1" cy="165.5" r="2.9" fill="#9332b7"/>
<circle cx="180.7" cy="169.6" r="2.9" fill="#8c3cc0"/>
<circle cx="233.2" cy="127.8" r="2.9" fill="#0085f9"/>
<circle cx="162.2" cy="149.0" r="2.9" fill="#4565e5"/>
<circle cx="111.4" cy="97.1" r="2.9" fill="#0079f4"/>
<circle cx="108.6" cy="75.4" r="2.9" fill="#0086f9"/>
<circle cx="112.3" cy="121.8" r="2.9" fill="#007ff7"/>
<circle cx="446.6" cy="136.4" r="2.9" fill="#ff0055"/>
<circle cx="395.0" cy="168.1" r="2.9" fill="#ff0059"/>
<circle cx="414.1" cy="157.4" r="2.9" fill="#ff0057"/>
<circle cx="154.7" cy="143.4" r="2.9" fill="#0083f8"/>
<circle cx="202.6" cy="134.1" r="2.9" fill="#0086f9"/>
<circle cx="442.4" cy="163.6" r="2.9" fill="#ff005a"/>
<circle cx="108.3" cy="127.1" r="2.9" fill="#0083f8"/>
<circle cx="371.4" cy="170.7" r="2.9" fill="#0082f8"/>
<circle cx="125.8" cy="123.7" r="2.9" fill="#0083f8"/>
<circle cx="420.7" cy="160.9" r="2.9" fill="#fd005f"/>
<circle cx="128.3" cy="121.2" r="2.9" fill="#008bfb"/>
<circle cx="197.4" cy="161.0" r="2.9" fill="#fd005e"/>
<circle cx="443.2" cy="144.8" r="2.9" fill="#fe005e"/>
<circle cx="418.9" cy="160.7" r="2.9" fill="#ff0055"/>
<circle cx="128.9" cy="106.0" r="2.9" fill="#0087fa"/>
<circle cx="446.4" cy="137.0" r="2.9" fill="#794cce"/>
<circle cx="159.6" cy="123.7" r="2.9" fill="#0076f2"/>
<circle cx="200.3" cy="149.0" r="2.9" fill="#fe005c"/>
<circle cx="149.5" cy="102.0" r="2.9" fill="#0088fa"/>
<circle cx="445.2" cy="145.1" r="2.9" fill="#ff0054"/>
<circle cx="241.2" cy="108.7" r="2.9" fill="#774ed0"/>
<circle cx="385.8" cy="163.8" r="2.9" fill="#ff0055"/>
<circle cx="136.4" cy="164.8" r="2.9" fill="#ff0058"/>
<circle cx="258.6" cy="130.8" r="2.9" fill="#0088fa"/>
<circle cx="314.9" cy="141.0" r="2.9" fill="#008afb"/>
<circle cx="316.4" cy="142.4" r="2.9" fill="#0085f9"/>
<circle cx="152.8" cy="170.3" r="2.9" fill="#ff0057"/>
<circle cx="301.5" cy="145.2" r="2.9" fill="#fc0060"/>
<circle cx="246.3" cy="134.4" r="2.9" fill="#3769e8"/>
<circle cx="373.6" cy="175.4" r="2.9" fill="#0085f9"/>
<circle cx="447.4" cy="169.3" r="2.9" fill="#fc0060"/>
<circle cx="196.7" cy="131.8" r="2.9" fill="#0089fa"/>
<circle cx="217.0" cy="105.0" r="2.9" fill="#0084f9"/>
<circle cx="444.1" cy="145.9" r="2.9" fill="#ff0057"/>
<circle cx="440.0" cy="170.2" r="2.9" fill="#ff0057"/>
<circle cx="228.8" cy="125.6" r="2.9" fill="#0085f9"/>
<circle cx="112.4" cy="102.8" r="2.9" fill="#0083f9"/>
<circle cx="434.4" cy="159.6" r="2.9" fill="#ff0056"/>
<circle cx="167.2" cy="164.8" r="2.9" fill="#fd005e"/>
<circle cx="446.2" cy="175.1" r="2.9" fill="#ff0059"/>
<circle cx="238.8" cy="130.6" r="2.9" fill="#ed0078"/>
<circle cx="197.2" cy="146.8" r="2.9" fill="#9036bb"/>
<circle cx="447.5" cy="248.9" r="2.9" fill="#0080f7"/>
<circle cx="144.4" cy="135.0" r="2.9" fill="#0083f9"/>
<circle cx="301.2" cy="135.0" r="2.9" fill="#0082f8"/>
<circle cx="313.8" cy="134.9" r="2.9" fill="#0086fa"/>
<circle cx="379.6" cy="149.8" r="2.9" fill="#0085f9"/>
<circle cx="403.4" cy="161.1" r="2.9" fill="#0083f8"/>
<circle cx="375.0" cy="162.4" r="2.9" fill="#fd005f"/>
<circle cx="151.2" cy="181.9" r="2.9" fill="#ed0078"/>
<circle cx="262.5" cy="139.0" r="2.9" fill="#ff005b"/>
<circle cx="157.9" cy="174.6" r="2.9" fill="#6956d8"/>
<circle cx="270.2" cy="125.2" r="2.9" fill="#0086fa"/>
<circle cx="332.2" cy="149.4" r="2.9" fill="#ff0051"/>
<circle cx="190.4" cy="165.3" r="2.9" fill="#ff0059"/>
<circle cx="159.3" cy="97.0" r="2.9" fill="#0088fa"/>
<circle cx="240.3" cy="114.2" r="2.9" fill="#9c23ad"/>
<circle cx="161.0" cy="155.4" r="2.9" fill="#c0009d"/>
<circle cx="121.2" cy="153.4" r="2.9" fill="#3d67e7"/>
<circle cx="447.3" cy="181.1" r="2.9" fill="#952fb5"/>
<circle cx="441.8" cy="132.5" r="2.9" fill="#a81aa9"/>
<circle cx="442.1" cy="140.5" r="2.9" fill="#ff0052"/>
<circle cx="387.1" cy="169.0" r="2.9" fill="#ff005b"/>
<circle cx="110.4" cy="129.0" r="2.9" fill="#008afb"/>
<circle cx="130.4" cy="110.4" r="2.9" fill="#0089fa"/>
<circle cx="181.0" cy="174.5" r="2.9" fill="#ff0059"/>
<circle cx="238.0" cy="141.3" r="2.9" fill="#fd005e"/>
<circle cx="296.0" cy="147.9" r="2.9" fill="#fd005f"/>
<circle cx="288.1" cy="147.2" r="2.9" fill="#ff0055"/>
<circle cx="111.7" cy="113.0" r="2.9" fill="#0088fa"/>
<circle cx="373.7" cy="147.0" r="2.9" fill="#575fdf"/>
<circle cx="447.4" cy="155.6" r="2.9" fill="#ff005a"/>
<circle cx="118.3" cy="119.2" r="2.9" fill="#0087fa"/>
<circle cx="128.5" cy="129.5" r="2.9" fill="#008afb"/>
<circle cx="446.9" cy="143.8" r="2.9" fill="#fe005e"/>
<circle cx="405.1" cy="165.4" r="2.9" fill="#fd005f"/>
<circle cx="119.6" cy="172.1" r="2.9" fill="#fa0065"/>
<circle cx="421.2" cy="158.9" r="2.9" fill="#0088fa"/>
<circle cx="184.7" cy="176.8" r="2.9" fill="#ff0052"/>
<circle cx="412.1" cy="159.7" r="2.9" fill="#ff005a"/>
<circle cx="222.0" cy="124.8" r="2.9" fill="#0070ee"/>
<circle cx="385.0" cy="152.0" r="2.9" fill="#0085f9"/>
<circle cx="366.1" cy="152.5" r="2.9" fill="#ff0051"/>
<circle cx="333.0" cy="139.1" r="2.9" fill="#0081f7"/>
<circle cx="153.1" cy="166.8" r="2.9" fill="#6956d8"/>
<circle cx="436.8" cy="159.6" r="2.9" fill="#ff005a"/>
<circle cx="290.7" cy="149.3" r="2.9" fill="#ff005b"/>
<circle cx="300.0" cy="126.2" r="2.9" fill="#2a6bea"/>
<circle cx="143.1" cy="121.2" r="2.9" fill="#0087fa"/>
<circle cx="184.3" cy="151.2" r="2.9" fill="#8840c3"/>
<circle cx="447.2" cy="147.9" r="2.9" fill="#7d49cc"/>
<circle cx="134.8" cy="173.5" r="2.9" fill="#ff0057"/>
<circle cx="443.0" cy="225.1" r="2.9" fill="#0082f8"/>
<circle cx="376.7" cy="148.4" r="2.9" fill="#0089fa"/>
<circle cx="442.5" cy="215.4" r="2.9" fill="#007cf5"/>
<circle cx="432.5" cy="163.7" r="2.9" fill="#9929b1"/>
<circle cx="311.8" cy="129.3" r="2.9" fill="#0089fa"/>
<circle cx="393.9" cy="156.2" r="2.9" fill="#a819a8"/>
<circle cx="262.7" cy="134.7" r="2.9" fill="#ff0057"/>
<circle cx="377.6" cy="149.3" r="2.9" fill="#6f53d5"/>
<circle cx="108.5" cy="133.0" r="2.9" fill="#0087fa"/>
<circle cx="107.1" cy="106.4" r="2.9" fill="#008afb"/>
<circle cx="359.0" cy="143.7" r="2.9" fill="#0084f9"/>
<circle cx="159.5" cy="174.1" r="2.9" fill="#ff0054"/>
<circle cx="110.4" cy="131.3" r="2.9" fill="#0083f8"/>
<circle cx="108.9" cy="124.2" r="2.9" fill="#007ff6"/>
<circle cx="429.6" cy="177.2" r="2.9" fill="#0083f8"/>
<circle cx="412.1" cy="160.6" r="2.9" fill="#0078f2"/>
<circle cx="199.2" cy="138.9" r="2.9" fill="#008bfb"/>
<circle cx="447.0" cy="290.6" r="2.9" fill="#0088fa"/>
<circle cx="301.9" cy="143.5" r="2.9" fill="#fa0066"/>
<circle cx="196.5" cy="146.5" r="2.9" fill="#794cce"/>
<circle cx="155.3" cy="112.3" r="2.9" fill="#007ff7"/>
<circle cx="446.4" cy="131.0" r="2.9" fill="#ff0059"/>
<circle cx="182.3" cy="132.1" r="2.9" fill="#0085f9"/>
<circle cx="218.9" cy="135.0" r="2.9" fill="#fe005d"/>
<circle cx="281.3" cy="146.7" r="2.9" fill="#ff005a"/>
<circle cx="297.9" cy="147.8" r="2.9" fill="#ff0058"/>
<circle cx="156.0" cy="134.5" r="2.9" fill="#0086f9"/>
<circle cx="274.7" cy="109.4" r="2.9" fill="#007cf5"/>
<circle cx="115.7" cy="135.4" r="2.9" fill="#007ff7"/>
<circle cx="369.2" cy="168.2" r="2.9" fill="#0088fa"/>
<circle cx="107.4" cy="69.8" r="2.9" fill="#0086fa"/>
<circle cx="340.8" cy="134.4" r="2.9" fill="#4465e5"/>
<circle cx="234.5" cy="107.8" r="2.9" fill="#007ff6"/>
<circle cx="190.7" cy="149.0" r="2.9" fill="#0085f9"/>
<circle cx="104.4" cy="72.0" r="2.9" fill="#0088fa"/>
<circle cx="447.0" cy="248.1" r="2.9" fill="#0078f3"/>
<circle cx="305.7" cy="143.6" r="2.9" fill="#ff0057"/>
<circle cx="209.3" cy="135.6" r="2.9" fill="#ad15a7"/>
<circle cx="245.6" cy="112.1" r="2.9" fill="#0082f8"/>
<circle cx="131.7" cy="114.0" r="2.9" fill="#0089fa"/>
<circle cx="276.3" cy="124.6" r="2.9" fill="#0087fa"/>
<circle cx="413.8" cy="164.2" r="2.9" fill="#ff0053"/>
<circle cx="197.9" cy="165.7" r="2.9" fill="#fe005d"/>
<circle cx="211.6" cy="135.3" r="2.9" fill="#ff0052"/>
<circle cx="308.6" cy="139.6" r="2.9" fill="#4665e4"/>
<circle cx="316.7" cy="136.8" r="2.9" fill="#4b63e3"/>
<circle cx="111.4" cy="186.9" r="2.9" fill="#ff0057"/>
<circle cx="168.0" cy="166.6" r="2.9" fill="#5062e2"/>
<circle cx="276.8" cy="131.3" r="2.9" fill="#ef0076"/>
<circle cx="447.2" cy="144.5" r="2.9" fill="#ff0054"/>
<circle cx="224.2" cy="113.1" r="2.9" fill="#0089fa"/>
<circle cx="166.0" cy="151.4" r="2.9" fill="#0086f9"/>
<circle cx="205.6" cy="110.7" r="2.9" fill="#0085f9"/>
<circle cx="282.2" cy="114.1" r="2.9" fill="#0088fa"/>
<circle cx="107.8" cy="188.0" r="2.9" fill="#fe005d"/>
<circle cx="119.5" cy="100.8" r="2.9" fill="#0075f1"/>
<circle cx="108.6" cy="75.6" r="2.9" fill="#0085f9"/>
<circle cx="153.2" cy="123.0" r="2.9" fill="#0084f9"/>
<circle cx="389.7" cy="183.2" r="2.9" fill="#0087fa"/>
<circle cx="106.3" cy="90.1" r="2.9" fill="#176eec"/>
<circle cx="218.0" cy="124.0" r="2.9" fill="#4565e5"/>
<circle cx="113.0" cy="173.8" r="2.9" fill="#ff0052"/>
<circle cx="207.8" cy="136.8" r="2.9" fill="#ff0051"/>
<circle cx="121.2" cy="127.6" r="2.9" fill="#0085f9"/>
<circle cx="293.9" cy="138.9" r="2.9" fill="#0077f2"/>
<circle cx="144.3" cy="114.2" r="2.9" fill="#0089fa"/>
<circle cx="447.4" cy="189.1" r="2.9" fill="#fc0060"/>
<circle cx="298.4" cy="138.4" r="2.9" fill="#0089fa"/>
<circle cx="117.6" cy="78.0" r="2.9" fill="#0076f1"/>
<circle cx="181.7" cy="169.4" r="2.9" fill="#ff0056"/>
<circle cx="415.9" cy="204.4" r="2.9" fill="#0083f8"/>
<circle cx="440.7" cy="167.9" r="2.9" fill="#fd005f"/>
<circle cx="116.1" cy="71.2" r="2.9" fill="#0077f2"/>
<circle cx="422.1" cy="178.8" r="2.9" fill="#0088fa"/>
<circle cx="155.6" cy="179.3" r="2.9" fill="#ff0058"/>
<circle cx="324.2" cy="137.4" r="2.9" fill="#296bea"/>
<circle cx="120.3" cy="186.7" r="2.9" fill="#ff005b"/>
<circle cx="167.5" cy="151.6" r="2.9" fill="#b508a3"/>
<circle cx="447.3" cy="280.1" r="2.9" fill="#0085f9"/>
<circle cx="106.0" cy="132.3" r="2.9" fill="#0081f7"/>
<circle cx="420.3" cy="163.2" r="2.9" fill="#fd005f"/>
<circle cx="256.0" cy="140.6" r="2.9" fill="#ff0058"/>
<circle cx="124.5" cy="105.5" r="2.9" fill="#0087fa"/>
<circle cx="446.9" cy="152.6" r="2.9" fill="#ff0059"/>
<circle cx="411.5" cy="186.7" r="2.9" fill="#007bf4"/>
<circle cx="354.4" cy="139.4" r="2.9" fill="#a71ba9"/>
<circle cx="362.0" cy="170.0" r="2.9" fill="#0086f9"/>
<circle cx="259.1" cy="138.2" r="2.9" fill="#ff0054"/>
<circle cx="118.8" cy="98.9" r="2.9" fill="#007ef6"/>
<circle cx="271.1" cy="114.9" r="2.9" fill="#784dcf"/>
<circle cx="411.8" cy="201.5" r="2.9" fill="#5261e1"/>
<circle cx="317.6" cy="130.8" r="2.9" fill="#276cea"/>
<circle cx="165.5" cy="173.8" r="2.9" fill="#ff005c"/>
<circle cx="351.8" cy="134.2" r="2.9" fill="#0083f8"/>
<circle cx="288.5" cy="135.5" r="2.9" fill="#f4006e"/>
<circle cx="372.0" cy="155.6" r="2.9" fill="#ff0056"/>
<circle cx="185.9" cy="166.3" r="2.9" fill="#fe005d"/>
<circle cx="445.4" cy="163.9" r="2.9" fill="#ff0056"/>
<circle cx="437.0" cy="156.6" r="2.9" fill="#0080f7"/>
<circle cx="390.1" cy="156.8" r="2.9" fill="#7a4bce"/>
<circle cx="187.3" cy="173.3" r="2.9" fill="#fe005c"/>
<circle cx="202.6" cy="138.0" r="2.9" fill="#007df6"/>
<circle cx="446.6" cy="256.7" r="2.9" fill="#0084f9"/>
<circle cx="380.4" cy="162.8" r="2.9" fill="#ff0055"/>
<circle cx="124.0" cy="169.8" r="2.9" fill="#ff0057"/>
<circle cx="447.3" cy="212.5" r="2.9" fill="#0084f9"/>
<circle cx="432.7" cy="169.5" r="2.9" fill="#f00075"/>
<circle cx="372.3" cy="161.2" r="2.9" fill="#ff005b"/>
<circle cx="447.0" cy="195.3" r="2.9" fill="#fe005d"/>
<circle cx="298.2" cy="153.5" r="2.9" fill="#ee0076"/>
<circle cx="444.2" cy="157.0" r="2.9" fill="#ff005b"/>
<circle cx="291.8" cy="143.6" r="2.9" fill="#ff0057"/>
<circle cx="299.0" cy="138.7" r="2.9" fill="#0085f9"/>
<circle cx="104.8" cy="113.0" r="2.9" fill="#0084f9"/>
<circle cx="180.1" cy="159.0" r="2.9" fill="#565fe0"/>
<circle cx="447.2" cy="166.5" r="2.9" fill="#ff0053"/>
<circle cx="447.3" cy="165.1" r="2.9" fill="#ed0078"/>
<circle cx="447.3" cy="145.5" r="2.9" fill="#fd005f"/>
<circle cx="325.3" cy="147.1" r="2.9" fill="#f10073"/>
<circle cx="113.8" cy="126.0" r="2.9" fill="#0083f8"/>
<circle cx="411.1" cy="177.4" r="2.9" fill="#0088fa"/>
<circle cx="446.8" cy="247.6" r="2.9" fill="#0082f8"/>
<circle cx="316.8" cy="140.7" r="2.9" fill="#ff0056"/>
<circle cx="254.1" cy="145.2" r="2.9" fill="#ff0055"/>
<circle cx="242.7" cy="131.8" r="2.9" fill="#7152d4"/>
<circle cx="162.3" cy="169.7" r="2.9" fill="#ff0059"/>
<circle cx="227.0" cy="107.9" r="2.9" fill="#0087fa"/>
<circle cx="316.2" cy="127.5" r="2.9" fill="#0085f9"/>
<circle cx="353.9" cy="149.6" r="2.9" fill="#f4006f"/>
<circle cx="428.2" cy="169.8" r="2.9" fill="#ff0053"/>
<circle cx="328.7" cy="154.1" r="2.9" fill="#ff0059"/>
<circle cx="317.0" cy="128.3" r="2.9" fill="#0089fa"/>
<circle cx="268.3" cy="146.0" r="2.9" fill="#ff0059"/>
<circle cx="447.4" cy="145.7" r="2.9" fill="#fe005d"/>
<circle cx="164.8" cy="166.1" r="2.9" fill="#7151d3"/>
<circle cx="366.8" cy="155.4" r="2.9" fill="#0070ed"/>
<circle cx="191.5" cy="170.0" r="2.9" fill="#ff0052"/>
<circle cx="383.6" cy="155.8" r="2.9" fill="#3769e8"/>
<circle cx="301.5" cy="142.3" r="2.9" fill="#296bea"/>
<circle cx="395.8" cy="156.4" r="2.9" fill="#5460e1"/>
<circle cx="447.4" cy="291.2" r="2.9" fill="#0086fa"/>
<circle cx="142.9" cy="165.6" r="2.9" fill="#f20072"/>
<circle cx="170.3" cy="179.6" r="2.9" fill="#ff005b"/>
<circle cx="174.7" cy="168.7" r="2.9" fill="#fe005c"/>
<circle cx="447.2" cy="269.5" r="2.9" fill="#0088fa"/>
<circle cx="209.2" cy="113.5" r="2.9" fill="#0084f9"/>
<circle cx="447.0" cy="205.0" r="2.9" fill="#0082f8"/>
<circle cx="107.8" cy="174.5" r="2.9" fill="#ff0053"/>
<circle cx="447.2" cy="224.1" r="2.9" fill="#0088fa"/>
<circle cx="271.7" cy="146.5" r="2.9" fill="#ff0058"/>
<circle cx="207.4" cy="160.4" r="2.9" fill="#fd005e"/>
<circle cx="196.0" cy="144.7" r="2.9" fill="#4565e5"/>
<circle cx="446.9" cy="190.3" r="2.9" fill="#ff0057"/>
<circle cx="444.5" cy="131.5" r="2.9" fill="#ff0051"/>
<circle cx="303.3" cy="141.2" r="2.9" fill="#ff005c"/>
<circle cx="200.0" cy="110.0" r="2.9" fill="#0087fa"/>
<circle cx="330.7" cy="150.9" r="2.9" fill="#fe005d"/>
<circle cx="419.9" cy="162.0" r="2.9" fill="#0086f9"/>
<circle cx="378.1" cy="156.1" r="2.9" fill="#0083f8"/>
<circle cx="178.6" cy="176.1" r="2.9" fill="#883fc3"/>
<circle cx="156.7" cy="116.3" r="2.9" fill="#0085f9"/>
<circle cx="291.7" cy="140.2" r="2.9" fill="#7052d4"/>
<circle cx="411.5" cy="160.2" r="2.9" fill="#fa0065"/>
<circle cx="106.4" cy="149.3" r="2.9" fill="#a919a8"/>
<circle cx="289.8" cy="136.6" r="2.9" fill="#fd005e"/>
<circle cx="340.0" cy="166.0" r="2.9" fill="#0088fa"/>
<circle cx="139.1" cy="172.0" r="2.9" fill="#b509a3"/>
<circle cx="400.6" cy="169.8" r="2.9" fill="#fe005c"/>
<circle cx="266.1" cy="134.1" r="2.9" fill="#565fe0"/>
<circle cx="216.0" cy="138.7" r="2.9" fill="#ff0054"/>
<circle cx="105.6" cy="159.2" r="2.9" fill="#f20071"/>
<circle cx="295.6" cy="140.8" r="2.9" fill="#ff005b"/>
<circle cx="108.3" cy="75.2" r="2.9" fill="#0087fa"/>
<circle cx="338.4" cy="150.4" r="2.9" fill="#fc0060"/>
<circle cx="244.1" cy="130.9" r="2.9" fill="#fd005f"/>
<circle cx="188.2" cy="172.5" r="2.9" fill="#fd005f"/>
<circle cx="446.1" cy="165.4" r="2.9" fill="#ff0051"/>
<circle cx="429.9" cy="162.0" r="2.9" fill="#fd005f"/>
<circle cx="189.8" cy="177.4" r="2.9" fill="#ff0052"/>
<circle cx="445.9" cy="192.1" r="2.9" fill="#ff005b"/>
<circle cx="109.9" cy="86.1" r="2.9" fill="#0088fa"/>
<circle cx="345.9" cy="142.3" r="2.9" fill="#0088fa"/>
<circle cx="286.3" cy="138.7" r="2.9" fill="#fe005d"/>
<circle cx="172.1" cy="160.5" r="2.9" fill="#aa17a8"/>
<circle cx="416.4" cy="199.4" r="2.9" fill="#0086f9"/>
<circle cx="443.3" cy="144.4" r="2.9" fill="#ff0058"/>
<circle cx="238.5" cy="127.2" r="2.9" fill="#ff0059"/>
<circle cx="291.4" cy="132.8" r="2.9" fill="#0084f9"/>
<circle cx="180.9" cy="134.6" r="2.9" fill="#0089fa"/>
<circle cx="255.9" cy="109.6" r="2.9" fill="#0086fa"/>
<circle cx="427.5" cy="163.0" r="2.9" fill="#0089fa"/>
<circle cx="131.6" cy="99.1" r="2.9" fill="#0087fa"/>
<circle cx="126.8" cy="140.1" r="2.9" fill="#0082f8"/>
<circle cx="404.5" cy="159.8" r="2.9" fill="#0087fa"/>
<circle cx="316.4" cy="148.3" r="2.9" fill="#5360e1"/>
<circle cx="163.3" cy="173.8" r="2.9" fill="#ff0055"/>
<circle cx="345.0" cy="147.8" r="2.9" fill="#fe005d"/>
<circle cx="281.0" cy="126.1" r="2.9" fill="#007bf5"/>
<circle cx="306.8" cy="138.0" r="2.9" fill="#a71ba9"/>
<circle cx="179.7" cy="167.5" r="2.9" fill="#784dcf"/>
<circle cx="217.0" cy="131.8" r="2.9" fill="#ff0051"/>
<circle cx="335.0" cy="130.0" r="2.9" fill="#008afb"/>
<circle cx="403.5" cy="168.0" r="2.9" fill="#f6006c"/>
<circle cx="249.4" cy="125.3" r="2.9" fill="#0083f8"/>
<circle cx="343.7" cy="146.1" r="2.9" fill="#0085f9"/>
<circle cx="337.9" cy="154.1" r="2.9" fill="#fe005c"/>
<circle cx="107.9" cy="155.0" r="2.9" fill="#6558da"/>
<circle cx="182.5" cy="140.2" r="2.9" fill="#0085f9"/>
<circle cx="110.1" cy="155.9" r="2.9" fill="#fc0061"/>
<circle cx="446.2" cy="137.5" r="2.9" fill="#ff005b"/>
<circle cx="178.4" cy="151.5" r="2.9" fill="#784dcf"/>
<circle cx="107.7" cy="110.8" r="2.9" fill="#0089fa"/>
<circle cx="107.9" cy="108.3" r="2.9" fill="#0080f7"/>
<circle cx="443.0" cy="153.5" r="2.9" fill="#ff005a"/>
<circle cx="156.3" cy="118.1" r="2.9" fill="#0088fa"/>
<circle cx="444.6" cy="219.9" r="2.9" fill="#008bfb"/>
<circle cx="141.2" cy="182.8" r="2.9" fill="#ff0052"/>
<circle cx="124.3" cy="167.1" r="2.9" fill="#b011a5"/>
<circle cx="429.5" cy="168.7" r="2.9" fill="#fe005d"/>
<circle cx="422.5" cy="179.5" r="2.9" fill="#0088fa"/>
<circle cx="446.6" cy="152.7" r="2.9" fill="#ff0059"/>
<circle cx="107.4" cy="118.6" r="2.9" fill="#007bf5"/>
<circle cx="226.5" cy="102.7" r="2.9" fill="#0085f9"/>
<circle cx="416.4" cy="181.8" r="2.9" fill="#0089fa"/>
<circle cx="248.0" cy="100.0" r="2.9" fill="#0087fa"/>
<circle cx="148.5" cy="150.6" r="2.9" fill="#0086f9"/>
<circle cx="447.1" cy="156.9" r="2.9" fill="#ff0056"/>
<circle cx="105.2" cy="147.8" r="2.9" fill="#7251d3"/>
<circle cx="108.9" cy="151.4" r="2.9" fill="#0085f9"/>
<circle cx="141.6" cy="165.9" r="2.9" fill="#8245c8"/>
<circle cx="138.7" cy="133.0" r="2.9" fill="#007ff6"/>
<circle cx="267.4" cy="138.2" r="2.9" fill="#ff0057"/>
<circle cx="436.8" cy="175.9" r="2.9" fill="#0080f7"/>
<circle cx="138.8" cy="172.7" r="2.9" fill="#ff005a"/>
<circle cx="393.3" cy="169.2" r="2.9" fill="#ff0055"/>
<circle cx="340.9" cy="133.7" r="2.9" fill="#0071ee"/>
<circle cx="180.1" cy="168.8" r="2.9" fill="#ec0079"/>
<circle cx="257.4" cy="116.3" r="2.9" fill="#5d5cdd"/>
<circle cx="283.0" cy="142.3" r="2.9" fill="#8d3abe"/>
<circle cx="283.9" cy="126.0" r="2.9" fill="#0086f9"/>
<circle cx="292.2" cy="124.6" r="2.9" fill="#6e54d5"/>
<circle cx="414.1" cy="157.1" r="2.9" fill="#0085f9"/>
<circle cx="181.6" cy="163.2" r="2.9" fill="#fd005f"/>
<circle cx="321.0" cy="135.9" r="2.9" fill="#0085f9"/>
<circle cx="447.2" cy="182.0" r="2.9" fill="#ff0055"/>
<circle cx="144.0" cy="107.5" r="2.9" fill="#008bfb"/>
<circle cx="226.5" cy="127.0" r="2.9" fill="#007ef6"/>
<circle cx="439.9" cy="164.9" r="2.9" fill="#3669e8"/>
<circle cx="152.2" cy="146.8" r="2.9" fill="#008afb"/>
<circle cx="169.5" cy="149.1" r="2.9" fill="#8f38bc"/>
<circle cx="446.9" cy="233.0" r="2.9" fill="#0087fa"/>
<circle cx="108.8" cy="119.5" r="2.9" fill="#0087fa"/>
<circle cx="366.4" cy="153.1" r="2.9" fill="#615adb"/>
<circle cx="263.3" cy="138.8" r="2.9" fill="#fe005e"/>
<circle cx="212.2" cy="130.3" r="2.9" fill="#0088fa"/>
<circle cx="132.6" cy="153.4" r="2.9" fill="#a71ba9"/>
<circle cx="446.7" cy="189.8" r="2.9" fill="#fd0060"/>
<circle cx="361.9" cy="149.0" r="2.9" fill="#0085f9"/>
<circle cx="125.6" cy="183.2" r="2.9" fill="#ff0059"/>
<circle cx="413.0" cy="194.0" r="2.9" fill="#0084f9"/>
<circle cx="444.4" cy="154.2" r="2.9" fill="#ff0056"/>
<circle cx="447.0" cy="300.7" r="2.9" fill="#0083f8"/>
<circle cx="212.0" cy="109.5" r="2.9" fill="#0073f0"/>
<circle cx="385.5" cy="156.9" r="2.9" fill="#ff0056"/>
<circle cx="423.5" cy="165.7" r="2.9" fill="#f6006b"/>
<circle cx="446.0" cy="128.4" r="2.9" fill="#ff0054"/>
<circle cx="383.8" cy="155.3" r="2.9" fill="#ff0055"/>
<circle cx="146.7" cy="177.9" r="2.9" fill="#ff0051"/>
<circle cx="368.6" cy="158.3" r="2.9" fill="#ff0056"/>
<circle cx="253.7" cy="131.2" r="2.9" fill="#008bfb"/>
<circle cx="153.1" cy="168.0" r="2.9" fill="#ff0057"/>
<circle cx="426.8" cy="156.6" r="2.9" fill="#fd005f"/>
<circle cx="242.8" cy="123.8" r="2.9" fill="#0086f9"/>
<circle cx="227.8" cy="126.1" r="2.9" fill="#6957d8"/>
<circle cx="136.3" cy="165.2" r="2.9" fill="#ff0053"/>
<circle cx="445.1" cy="243.6" r="2.9" fill="#008bfb"/>
<circle cx="444.9" cy="131.7" r="2.9" fill="#ff0056"/>
<circle cx="275.5" cy="130.0" r="2.9" fill="#615adb"/>
<circle cx="337.6" cy="141.6" r="2.9" fill="#ff0058"/>
<circle cx="436.6" cy="159.0" r="2.9" fill="#0083f8"/>
<circle cx="317.2" cy="133.8" r="2.9" fill="#0084f9"/>
<circle cx="158.4" cy="176.6" r="2.9" fill="#fd005f"/>
<circle cx="119.8" cy="178.7" r="2.9" fill="#ff0056"/>
<circle cx="214.9" cy="104.8" r="2.9" fill="#0083f8"/>
<circle cx="282.3" cy="143.1" r="2.9" fill="#ff0056"/>
<circle cx="389.9" cy="157.9" r="2.9" fill="#0075f1"/>
<circle cx="117.4" cy="142.6" r="2.9" fill="#0088fa"/>
<circle cx="325.4" cy="154.3" r="2.9" fill="#fd0060"/>
<circle cx="341.7" cy="152.6" r="2.9" fill="#ff0056"/>
<circle cx="334.2" cy="144.6" r="2.9" fill="#fd005e"/>
<circle cx="446.8" cy="194.7" r="2.9" fill="#fc0061"/>
<circle cx="447.4" cy="204.6" r="2.9" fill="#5c5dde"/>
<circle cx="374.0" cy="150.6" r="2.9" fill="#fc0060"/>
<circle cx="118.1" cy="158.5" r="2.9" fill="#fd0060"/>
<circle cx="155.2" cy="168.6" r="2.9" fill="#ff0052"/>
<circle cx="412.8" cy="165.6" r="2.9" fill="#fe005d"/>
<circle cx="111.0" cy="163.4" r="2.9" fill="#4466e5"/>
<circle cx="161.2" cy="169.6" r="2.9" fill="#ff0054"/>
<circle cx="389.8" cy="151.2" r="2.9" fill="#ff0056"/>
<circle cx="446.8" cy="161.7" r="2.9" fill="#ff0055"/>
<circle cx="119.7" cy="182.4" r="2.9" fill="#ff0054"/>
<circle cx="447.4" cy="307.6" r="2.9" fill="#0086fa"/>
<circle cx="445.6" cy="231.3" r="2.9" fill="#296cea"/>
<circle cx="172.8" cy="140.6" r="2.9" fill="#0074f0"/>
<circle cx="262.8" cy="145.1" r="2.9" fill="#ff005c"/>
<circle cx="168.4" cy="176.8" r="2.9" fill="#ff0055"/>
<circle cx="443.9" cy="141.1" r="2.9" fill="#fd0060"/>
<circle cx="350.3" cy="155.8" r="2.9" fill="#ff0054"/>
<circle cx="441.3" cy="241.6" r="2.9" fill="#007bf5"/>
<circle cx="106.7" cy="101.5" r="2.9" fill="#0083f8"/>
<circle cx="352.0" cy="138.7" r="2.9" fill="#0086fa"/>
<circle cx="132.7" cy="100.0" r="2.9" fill="#0084f9"/>
<circle cx="360.0" cy="162.5" r="2.9" fill="#ff0056"/>
<circle cx="379.7" cy="153.1" r="2.9" fill="#8047c9"/>
<circle cx="341.4" cy="144.0" r="2.9" fill="#ff0057"/>
<circle cx="216.8" cy="128.4" r="2.9" fill="#0089fa"/>
<circle cx="187.4" cy="139.1" r="2.9" fill="#0085f9"/>
<circle cx="151.8" cy="123.7" r="2.9" fill="#0087fa"/>
<circle cx="149.8" cy="119.7" r="2.9" fill="#0083f9"/>
<circle cx="368.4" cy="153.9" r="2.9" fill="#ff0059"/>
<circle cx="447.2" cy="128.1" r="2.9" fill="#4166e6"/>
<circle cx="239.0" cy="114.5" r="2.9" fill="#0083f8"/>
<circle cx="222.7" cy="116.6" r="2.9" fill="#0089fa"/>
<circle cx="203.9" cy="148.2" r="2.9" fill="#fc0061"/>
<circle cx="387.4" cy="153.1" r="2.9" fill="#fd005f"/>
<circle cx="123.2" cy="131.4" r="2.9" fill="#0082f8"/>
<circle cx="434.2" cy="168.7" r="2.9" fill="#ff0059"/>
<circle cx="381.2" cy="155.0" r="2.9" fill="#ff0055"/>
<circle cx="184.5" cy="146.2" r="2.9" fill="#007bf4"/>
<circle cx="291.5" cy="151.3" r="2.9" fill="#fe005d"/>
<circle cx="405.2" cy="195.7" r="2.9" fill="#0075f1"/>
<circle cx="304.9" cy="130.2" r="2.9" fill="#007ef6"/>
<circle cx="447.1" cy="176.8" r="2.9" fill="#ff005b"/>
<circle cx="172.0" cy="127.0" r="2.9" fill="#0085f9"/>
<circle cx="447.1" cy="157.3" r="2.9" fill="#ff0053"/>
<circle cx="224.6" cy="125.5" r="2.9" fill="#8047ca"/>
<circle cx="447.5" cy="136.9" r="2.9" fill="#774ed0"/>
<circle cx="447.0" cy="274.2" r="2.9" fill="#0088fa"/>
<circle cx="117.1" cy="150.5" r="2.9" fill="#3b68e7"/>
<circle cx="446.9" cy="171.9" r="2.9" fill="#5d5cdd"/>
<circle cx="264.5" cy="136.3" r="2.9" fill="#ff005b"/>
<circle cx="109.0" cy="68.7" r="2.9" fill="#0083f8"/>
<circle cx="293.8" cy="130.3" r="2.9" fill="#0088fa"/>
<circle cx="116.7" cy="127.4" r="2.9" fill="#0087fa"/>
<circle cx="336.9" cy="146.9" r="2.9" fill="#fd005f"/>
<circle cx="163.5" cy="171.7" r="2.9" fill="#fb0063"/>
<circle cx="131.9" cy="151.5" r="2.9" fill="#7450d2"/>
<circle cx="176.3" cy="149.7" r="2.9" fill="#007ef6"/>
<circle cx="109.8" cy="115.3" r="2.9" fill="#0087fa"/>
<circle cx="446.3" cy="151.4" r="2.9" fill="#ff005a"/>
<circle cx="447.5" cy="137.3" r="2.9" fill="#fd005e"/>
<circle cx="298.6" cy="150.6" r="2.9" fill="#893ec2"/>
<circle cx="134.5" cy="182.5" r="2.9" fill="#ff005a"/>
<circle cx="209.1" cy="134.6" r="2.9" fill="#fe005e"/>
<circle cx="429.6" cy="166.7" r="2.9" fill="#ff005b"/>
<circle cx="306.6" cy="143.0" r="2.9" fill="#6857d8"/>
<circle cx="400.9" cy="156.4" r="2.9" fill="#ff0056"/>
<circle cx="410.0" cy="164.5" r="2.9" fill="#ff005a"/>
<circle cx="321.6" cy="149.9" r="2.9" fill="#ff0054"/>
<circle cx="325.2" cy="146.6" r="2.9" fill="#0071ee"/>
<circle cx="407.3" cy="158.2" r="2.9" fill="#ff0054"/>
<circle cx="440.0" cy="180.6" r="2.9" fill="#0089fa"/>
<circle cx="163.4" cy="146.4" r="2.9" fill="#0085f9"/>
<circle cx="444.2" cy="201.8" r="2.9" fill="#246ceb"/>
<circle cx="106.3" cy="102.6" r="2.9" fill="#008afb"/>
<circle cx="113.1" cy="97.3" r="2.9" fill="#0089fa"/>
<circle cx="250.4" cy="114.1" r="2.9" fill="#0086f9"/>
<circle cx="125.2" cy="105.1" r="2.9" fill="#0076f2"/>
<circle cx="447.2" cy="141.0" r="2.9" fill="#fd0060"/>
<circle cx="198.0" cy="169.9" r="2.9" fill="#ff0053"/>
<circle cx="176.3" cy="168.5" r="2.9" fill="#f7006b"/>
<circle cx="232.3" cy="124.5" r="2.9" fill="#0087fa"/>
<circle cx="409.3" cy="194.7" r="2.9" fill="#008afb"/>
<circle cx="146.2" cy="173.4" r="2.9" fill="#ff0055"/>
<circle cx="254.6" cy="130.9" r="2.9" fill="#fd005f"/>
<circle cx="391.3" cy="183.4" r="2.9" fill="#0084f9"/>
<circle cx="375.3" cy="166.5" r="2.9" fill="#ef0075"/>
<circle cx="293.3" cy="140.4" r="2.9" fill="#ff0052"/>
<circle cx="295.1" cy="154.2" r="2.9" fill="#fd0060"/>
<circle cx="153.4" cy="132.7" r="2.9" fill="#0089fa"/>
<circle cx="363.2" cy="148.7" r="2.9" fill="#ff0058"/>
<circle cx="330.0" cy="146.7" r="2.9" fill="#8f38bd"/>
<circle cx="320.1" cy="137.2" r="2.9" fill="#b20ea4"/>
<circle cx="180.0" cy="190.5" r="2.9" fill="#fc0061"/>
<circle cx="256.7" cy="142.5" r="2.9" fill="#fe005e"/>
<circle cx="443.6" cy="162.6" r="2.9" fill="#ff005a"/>
<circle cx="105.9" cy="159.0" r="2.9" fill="#ff005b"/>
<circle cx="321.3" cy="144.1" r="2.9" fill="#ff0057"/>
<circle cx="346.8" cy="144.2" r="2.9" fill="#0088fa"/>
<circle cx="446.8" cy="165.8" r="2.9" fill="#ff0052"/>
<circle cx="124.0" cy="110.4" r="2.9" fill="#007af4"/>
<circle cx="447.0" cy="185.4" r="2.9" fill="#ff0057"/>
<circle cx="369.0" cy="176.8" r="2.9" fill="#0085f9"/>
<circle cx="196.9" cy="139.9" r="2.9" fill="#6957d8"/>
<circle cx="343.9" cy="145.7" r="2.9" fill="#008afb"/>
<circle cx="447.2" cy="191.8" r="2.9" fill="#fe005c"/>
<circle cx="223.7" cy="124.8" r="2.9" fill="#0076f1"/>
<circle cx="182.7" cy="151.1" r="2.9" fill="#0087fa"/>
<circle cx="317.2" cy="143.2" r="2.9" fill="#8641c5"/>
<circle cx="105.9" cy="110.1" r="2.9" fill="#0079f3"/>
<circle cx="393.9" cy="169.9" r="2.9" fill="#fe005c"/>
<circle cx="290.5" cy="150.9" r="2.9" fill="#ff0057"/>
<circle cx="349.0" cy="185.8" r="2.9" fill="#0083f9"/>
<circle cx="171.3" cy="180.4" r="2.9" fill="#fd005f"/>
<circle cx="294.7" cy="134.5" r="2.9" fill="#007df6"/>
<circle cx="439.7" cy="141.5" r="2.9" fill="#ff0056"/>
<circle cx="244.9" cy="121.9" r="2.9" fill="#4067e6"/>
<circle cx="178.5" cy="120.2" r="2.9" fill="#0082f8"/>
<circle cx="169.9" cy="172.1" r="2.9" fill="#ff0053"/>
<circle cx="444.1" cy="143.8" r="2.9" fill="#fe005c"/>
<circle cx="188.0" cy="163.4" r="2.9" fill="#a21fab"/>
<circle cx="110.2" cy="165.0" r="2.9" fill="#007cf5"/>
<circle cx="137.4" cy="134.0" r="2.9" fill="#0084f9"/>
<circle cx="113.0" cy="83.1" r="2.9" fill="#0087fa"/>
<circle cx="324.2" cy="142.1" r="2.9" fill="#ff0056"/>
<circle cx="326.9" cy="142.4" r="2.9" fill="#9234b9"/>
<circle cx="173.0" cy="180.5" r="2.9" fill="#ff0054"/>
<circle cx="111.3" cy="144.1" r="2.9" fill="#0083f8"/>
<circle cx="186.6" cy="167.8" r="2.9" fill="#ea007b"/>
<circle cx="152.1" cy="170.0" r="2.9" fill="#fe005d"/>
<circle cx="295.6" cy="140.4" r="2.9" fill="#6d54d5"/>
<circle cx="134.6" cy="145.5" r="2.9" fill="#6757d9"/>
<circle cx="447.3" cy="174.3" r="2.9" fill="#ff0059"/>
<circle cx="212.6" cy="136.3" r="2.9" fill="#3c68e7"/>
<circle cx="366.9" cy="159.4" r="2.9" fill="#ff005a"/>
<circle cx="353.7" cy="145.4" r="2.9" fill="#ff005b"/>
<circle cx="291.7" cy="122.9" r="2.9" fill="#007bf5"/>
<circle cx="353.5" cy="136.0" r="2.9" fill="#0087fa"/>
<circle cx="366.9" cy="147.3" r="2.9" fill="#ff005b"/>
<circle cx="116.8" cy="95.9" r="2.9" fill="#0082f8"/>
<circle cx="400.2" cy="158.7" r="2.9" fill="#9135ba"/>
<circle cx="382.0" cy="152.1" r="2.9" fill="#007bf4"/>
<circle cx="280.5" cy="134.6" r="2.9" fill="#595edf"/>
<circle cx="447.2" cy="289.4" r="2.9" fill="#4764e4"/>
<circle cx="311.0" cy="153.1" r="2.9" fill="#fd005f"/>
<circle cx="428.6" cy="158.8" r="2.9" fill="#ff0051"/>
<circle cx="108.4" cy="104.8" r="2.9" fill="#0083f8"/>
<circle cx="250.0" cy="119.6" r="2.9" fill="#0083f8"/>
<circle cx="204.9" cy="129.4" r="2.9" fill="#8344c7"/>
<circle cx="345.4" cy="142.7" r="2.9" fill="#0082f8"/>
<circle cx="447.1" cy="294.9" r="2.9" fill="#0083f8"/>
<circle cx="317.5" cy="143.7" r="2.9" fill="#0088fa"/>
<circle cx="445.6" cy="163.0" r="2.9" fill="#fd005e"/>
<circle cx="237.7" cy="131.0" r="2.9" fill="#ed0077"/>
<circle cx="441.3" cy="216.6" r="2.9" fill="#0084f9"/>
<circle cx="347.2" cy="138.6" r="2.9" fill="#0089fa"/>
<circle cx="189.2" cy="166.5" r="2.9" fill="#fe005e"/>
<circle cx="447.1" cy="255.5" r="2.9" fill="#007cf5"/>
<circle cx="446.6" cy="148.6" r="2.9" fill="#fc0060"/>
<circle cx="444.0" cy="127.9" r="2.9" fill="#ff0057"/>
<circle cx="171.1" cy="122.7" r="2.9" fill="#0083f8"/>
<circle cx="237.0" cy="127.2" r="2.9" fill="#008afb"/>
<circle cx="315.2" cy="141.6" r="2.9" fill="#008afb"/>
<circle cx="444.7" cy="128.8" r="2.9" fill="#ff0059"/>
<circle cx="350.4" cy="143.6" r="2.9" fill="#007df6"/>
<circle cx="335.3" cy="145.8" r="2.9" fill="#0086fa"/>
<circle cx="359.0" cy="148.7" r="2.9" fill="#ff0053"/>
<circle cx="109.4" cy="193.6" r="2.9" fill="#ef0075"/>
<circle cx="132.7" cy="149.1" r="2.9" fill="#008bfb"/>
<circle cx="263.1" cy="114.4" r="2.9" fill="#8344c7"/>
<circle cx="447.4" cy="275.8" r="2.9" fill="#0076f2"/>
<circle cx="418.5" cy="158.2" r="2.9" fill="#fc0060"/>
<circle cx="301.7" cy="155.9" r="2.9" fill="#fe005c"/>
<circle cx="401.1" cy="166.9" r="2.9" fill="#ea007c"/>
<circle cx="446.2" cy="130.3" r="2.9" fill="#fd005e"/>
<circle cx="342.1" cy="139.0" r="2.9" fill="#0086f9"/>
<circle cx="447.4" cy="129.3" r="2.9" fill="#ff005b"/>
<circle cx="239.3" cy="108.4" r="2.9" fill="#0086fa"/>
<circle cx="446.9" cy="230.4" r="2.9" fill="#0089fa"/>
<circle cx="112.7" cy="157.2" r="2.9" fill="#0084f9"/>
<circle cx="369.7" cy="147.3" r="2.9" fill="#0083f8"/>
<circle cx="278.6" cy="133.2" r="2.9" fill="#0086f9"/>
<circle cx="388.5" cy="156.4" r="2.9" fill="#fd005f"/>
<circle cx="141.0" cy="125.8" r="2.9" fill="#0088fa"/>
<circle cx="374.1" cy="156.9" r="2.9" fill="#0089fa"/>
<circle cx="447.4" cy="169.0" r="2.9" fill="#fd005e"/>
<circle cx="394.7" cy="206.4" r="2.9" fill="#0089fa"/>
<circle cx="297.4" cy="137.5" r="2.9" fill="#9e22ac"/>
<circle cx="447.0" cy="171.0" r="2.9" fill="#ff0058"/>
<circle cx="110.9" cy="79.2" r="2.9" fill="#0084f9"/>
<circle cx="222.0" cy="97.5" r="2.9" fill="#0089fa"/>
<circle cx="439.8" cy="164.6" r="2.9" fill="#0083f8"/>
<circle cx="227.0" cy="128.1" r="2.9" fill="#0089fa"/>
<circle cx="201.1" cy="131.0" r="2.9" fill="#9431b7"/>
<circle cx="127.0" cy="98.3" r="2.9" fill="#0083f8"/>
<circle cx="262.1" cy="145.3" r="2.9" fill="#fd005e"/>
<circle cx="420.8" cy="159.5" r="2.9" fill="#0088fa"/>
<circle cx="254.9" cy="120.1" r="2.9" fill="#0088fa"/>
<circle cx="200.1" cy="137.7" r="2.9" fill="#9135ba"/>
<circle cx="379.1" cy="169.8" r="2.9" fill="#ff0056"/>
<circle cx="309.5" cy="157.2" r="2.9" fill="#ea007c"/>
<circle cx="446.7" cy="186.3" r="2.9" fill="#3e67e6"/>
<circle cx="159.6" cy="143.4" r="2.9" fill="#b902a1"/>
<circle cx="316.7" cy="143.5" r="2.9" fill="#952fb5"/>
<circle cx="247.2" cy="131.5" r="2.9" fill="#3f67e6"/>
<circle cx="267.2" cy="130.5" r="2.9" fill="#0083f9"/>
<circle cx="136.1" cy="111.4" r="2.9" fill="#0089fa"/>
<circle cx="385.5" cy="153.9" r="2.9" fill="#fe005d"/>
<circle cx="273.4" cy="137.5" r="2.9" fill="#fe005c"/>
<circle cx="401.0" cy="178.5" r="2.9" fill="#0086f9"/>
<circle cx="110.2" cy="160.2" r="2.9" fill="#ff0052"/>
<circle cx="439.2" cy="158.5" r="2.9" fill="#fd005f"/>
<circle cx="352.7" cy="150.2" r="2.9" fill="#ff0055"/>
<circle cx="180.8" cy="137.3" r="2.9" fill="#008afb"/>
<circle cx="212.7" cy="130.8" r="2.9" fill="#6957d8"/>
<circle cx="123.4" cy="141.1" r="2.9" fill="#0088fa"/>
<circle cx="266.6" cy="130.0" r="2.9" fill="#0083f8"/>
<circle cx="289.7" cy="148.5" r="2.9" fill="#ff0055"/>
<circle cx="143.5" cy="175.2" r="2.9" fill="#fe005e"/>
<circle cx="382.6" cy="153.5" r="2.9" fill="#9036bb"/>
<circle cx="360.5" cy="152.0" r="2.9" fill="#fe005e"/>
<circle cx="424.7" cy="173.1" r="2.9" fill="#ff0059"/>
<circle cx="104.5" cy="203.0" r="2.9" fill="#fd005f"/>
<circle cx="283.0" cy="138.0" r="2.9" fill="#fc0061"/>
<circle cx="106.4" cy="110.1" r="2.9" fill="#0089fa"/>
<circle cx="341.0" cy="159.5" r="2.9" fill="#ff0054"/>
<circle cx="425.8" cy="162.3" r="2.9" fill="#fe005d"/>
<circle cx="250.2" cy="119.9" r="2.9" fill="#9135ba"/>
<circle cx="217.8" cy="132.0" r="2.9" fill="#ff0051"/>
<circle cx="191.0" cy="172.5" r="2.9" fill="#9234b9"/>
<circle cx="245.7" cy="107.0" r="2.9" fill="#0088fa"/>
<circle cx="446.1" cy="243.5" r="2.9" fill="#007bf4"/>
<circle cx="361.4" cy="140.8" r="2.9" fill="#0087fa"/>
<circle cx="108.3" cy="104.4" r="2.9" fill="#0089fa"/>
<circle cx="255.4" cy="139.4" r="2.9" fill="#ff0051"/>
<circle cx="441.9" cy="148.6" r="2.9" fill="#ff0051"/>
<circle cx="164.7" cy="165.4" r="2.9" fill="#f10073"/>
<circle cx="447.4" cy="197.2" r="2.9" fill="#fd0060"/>
<circle cx="222.6" cy="126.6" r="2.9" fill="#0086f9"/>
<circle cx="113.2" cy="139.2" r="2.9" fill="#0085f9"/>
<circle cx="270.3" cy="136.7" r="2.9" fill="#007cf5"/>
<circle cx="313.9" cy="145.9" r="2.9" fill="#ff0057"/>
<circle cx="335.7" cy="139.7" r="2.9" fill="#8b3cc0"/>
<circle cx="446.7" cy="205.0" r="2.9" fill="#008afb"/>
<circle cx="161.0" cy="143.9" r="2.9" fill="#007ef6"/>
<circle cx="176.9" cy="169.7" r="2.9" fill="#fd005f"/>
<circle cx="108.0" cy="203.5" r="2.9" fill="#ff0053"/>
<circle cx="170.1" cy="172.9" r="2.9" fill="#6f53d5"/>
<circle cx="391.5" cy="212.0" r="2.9" fill="#007ff6"/>
<circle cx="198.3" cy="114.1" r="2.9" fill="#0085f9"/>
<circle cx="447.4" cy="196.8" r="2.9" fill="#ff0057"/>
<circle cx="163.0" cy="127.7" r="2.9" fill="#0085f9"/>
<circle cx="370.7" cy="142.4" r="2.9" fill="#0088fa"/>
<circle cx="343.9" cy="153.6" r="2.9" fill="#6b55d7"/>
<circle cx="272.4" cy="108.8" r="2.9" fill="#0089fa"/>
<circle cx="152.2" cy="138.2" r="2.9" fill="#008afb"/>
<circle cx="444.2" cy="154.9" r="2.9" fill="#3a68e7"/>
<circle cx="135.3" cy="177.8" r="2.9" fill="#ff0053"/>
<circle cx="446.7" cy="162.5" r="2.9" fill="#ff0052"/>
<circle cx="337.3" cy="144.4" r="2.9" fill="#fe005c"/>
<circle cx="114.5" cy="77.9" r="2.9" fill="#0076f1"/>
<circle cx="107.6" cy="109.2" r="2.9" fill="#007bf4"/>
<circle cx="180.9" cy="165.3" r="2.9" fill="#fd005e"/>
<circle cx="320.3" cy="150.0" r="2.9" fill="#5062e2"/>
<circle cx="114.4" cy="175.2" r="2.9" fill="#fe005c"/>
<circle cx="443.0" cy="147.1" r="2.9" fill="#ff005c"/>
<circle cx="185.7" cy="157.5" r="2.9" fill="#5f5bdc"/>
<circle cx="277.2" cy="127.1" r="2.9" fill="#8b3dc0"/>
<circle cx="109.7" cy="119.0" r="2.9" fill="#0085f9"/>
<circle cx="273.1" cy="137.5" r="2.9" fill="#fd005f"/>
<circle cx="446.7" cy="173.9" r="2.9" fill="#ff005a"/>
<circle cx="112.2" cy="157.6" r="2.9" fill="#0086f9"/>
<circle cx="144.1" cy="113.2" r="2.9" fill="#0083f8"/>
<circle cx="116.4" cy="77.3" r="2.9" fill="#0088fa"/>
<circle cx="108.6" cy="96.0" r="2.9" fill="#0089fa"/>
<circle cx="370.1" cy="160.3" r="2.9" fill="#ff0052"/>
<circle cx="154.2" cy="133.6" r="2.9" fill="#0089fa"/>
<circle cx="415.4" cy="174.2" r="2.9" fill="#ff0052"/>
<circle cx="106.7" cy="63.8" r="2.9" fill="#0079f3"/>
<circle cx="441.2" cy="132.9" r="2.9" fill="#fd005f"/>
<circle cx="157.1" cy="163.4" r="2.9" fill="#ff0052"/>
<circle cx="307.5" cy="152.3" r="2.9" fill="#ff0057"/>
<circle cx="439.8" cy="159.2" r="2.9" fill="#6c55d6"/>
<circle cx="421.3" cy="196.5" r="2.9" fill="#0083f8"/>
<circle cx="117.6" cy="165.1" r="2.9" fill="#8840c3"/>
<circle cx="144.9" cy="105.6" r="2.9" fill="#0089fa"/>
<circle cx="107.7" cy="154.4" r="2.9" fill="#ff0052"/>
<circle cx="413.9" cy="159.8" r="2.9" fill="#8f38bc"/>
<circle cx="121.0" cy="89.0" r="2.9" fill="#0083f8"/>
<circle cx="154.7" cy="153.5" r="2.9" fill="#0088fa"/>
<circle cx="447.2" cy="169.1" r="2.9" fill="#ff0055"/>
<circle cx="208.2" cy="127.7" r="2.9" fill="#196eec"/>
<circle cx="388.4" cy="155.5" r="2.9" fill="#893fc2"/>
<circle cx="195.7" cy="146.0" r="2.9" fill="#5560e0"/>
<circle cx="447.5" cy="191.3" r="2.9" fill="#ff0052"/>
<circle cx="348.2" cy="143.8" r="2.9" fill="#f90066"/>
<circle cx="447.1" cy="184.4" r="2.9" fill="#ff0054"/>
<circle cx="106.8" cy="90.2" r="2.9" fill="#008afb"/>
<circle cx="447.3" cy="258.0" r="2.9" fill="#8443c6"/>
<circle cx="447.2" cy="154.5" r="2.9" fill="#ff0057"/>
<circle cx="447.4" cy="253.7" r="2.9" fill="#007df6"/>
<circle cx="239.5" cy="106.8" r="2.9" fill="#0083f8"/>
<circle cx="332.1" cy="149.2" r="2.9" fill="#ff0055"/>
<circle cx="122.0" cy="168.7" r="2.9" fill="#fc0060"/>
<circle cx="372.1" cy="143.1" r="2.9" fill="#784dcf"/>
<circle cx="381.1" cy="165.2" r="2.9" fill="#fd005e"/>
<circle cx="409.7" cy="182.4" r="2.9" fill="#0086fa"/>
<circle cx="371.6" cy="152.6" r="2.9" fill="#ff0056"/>
<circle cx="281.6" cy="110.8" r="2.9" fill="#0089fa"/>
<circle cx="169.5" cy="168.8" r="2.9" fill="#3a68e7"/>
<circle cx="151.0" cy="112.7" r="2.9" fill="#007bf4"/>
<circle cx="389.1" cy="204.9" r="2.9" fill="#0086f9"/>
<circle cx="441.4" cy="151.2" r="2.9" fill="#fd005e"/>
<circle cx="114.0" cy="144.3" r="2.9" fill="#0083f8"/>
<circle cx="189.7" cy="160.5" r="2.9" fill="#784dcf"/>
<circle cx="262.0" cy="124.0" r="2.9" fill="#ff0055"/>
<circle cx="216.2" cy="131.1" r="2.9" fill="#0082f8"/>
<circle cx="408.6" cy="162.2" r="2.9" fill="#0081f7"/>
<circle cx="152.7" cy="145.0" r="2.9" fill="#9332b7"/>
<circle cx="446.9" cy="236.7" r="2.9" fill="#0085f9"/>
<circle cx="108.5" cy="141.9" r="2.9" fill="#007ff6"/>
<circle cx="261.3" cy="144.1" r="2.9" fill="#fe005e"/>
<circle cx="161.2" cy="173.4" r="2.9" fill="#fa0064"/>
<circle cx="169.3" cy="151.7" r="2.9" fill="#972bb2"/>
<circle cx="414.4" cy="159.9" r="2.9" fill="#6c55d6"/>
<circle cx="254.7" cy="136.6" r="2.9" fill="#ff0058"/>
<circle cx="352.7" cy="147.4" r="2.9" fill="#6559da"/>
<circle cx="386.6" cy="155.2" r="2.9" fill="#ff0058"/>
<circle cx="222.5" cy="137.2" r="2.9" fill="#ff0058"/>
<circle cx="402.6" cy="197.5" r="2.9" fill="#007ff7"/>
<circle cx="145.8" cy="165.7" r="2.9" fill="#fd005f"/>
<circle cx="447.4" cy="274.0" r="2.9" fill="#0083f8"/>
<circle cx="242.0" cy="101.0" r="2.9" fill="#0088fa"/>
<circle cx="175.5" cy="166.8" r="2.9" fill="#ff0052"/>
<circle cx="106.1" cy="66.4" r="2.9" fill="#0089fa"/>
<circle cx="168.7" cy="123.4" r="2.9" fill="#0086f9"/>
<circle cx="446.5" cy="159.2" r="2.9" fill="#9829b1"/>
<circle cx="191.8" cy="130.3" r="2.9" fill="#0086fa"/>
<circle cx="188.7" cy="173.6" r="2.9" fill="#fc0060"/>
<circle cx="302.8" cy="131.2" r="2.9" fill="#0085f9"/>
<circle cx="349.8" cy="140.0" r="2.9" fill="#fe005d"/>
<circle cx="109.2" cy="73.6" r="2.9" fill="#0075f1"/>
<circle cx="228.6" cy="140.8" r="2.9" fill="#ff0055"/>
<circle cx="126.3" cy="154.2" r="2.9" fill="#7b4bcd"/>
<circle cx="446.8" cy="164.9" r="2.9" fill="#ff0058"/>
<circle cx="447.1" cy="267.1" r="2.9" fill="#0089fa"/>
<circle cx="444.9" cy="202.6" r="2.9" fill="#0083f8"/>
<circle cx="147.4" cy="168.2" r="2.9" fill="#ff0053"/>
<circle cx="112.7" cy="97.3" r="2.9" fill="#4066e6"/>
<circle cx="364.6" cy="145.6" r="2.9" fill="#0084f9"/>
<circle cx="427.2" cy="160.0" r="2.9" fill="#ff0059"/>
<circle cx="185.4" cy="156.3" r="2.9" fill="#4a64e3"/>
<circle cx="119.2" cy="136.8" r="2.9" fill="#0084f9"/>
<circle cx="126.8" cy="184.8" r="2.9" fill="#fe005d"/>
<circle cx="320.5" cy="152.4" r="2.9" fill="#ff0057"/>
<circle cx="445.3" cy="220.0" r="2.9" fill="#0085f9"/>
<circle cx="242.9" cy="131.9" r="2.9" fill="#ff0055"/>
<circle cx="447.5" cy="265.7" r="2.9" fill="#0083f8"/>
<circle cx="446.9" cy="275.2" r="2.9" fill="#0086fa"/>
<circle cx="193.1" cy="169.2" r="2.9" fill="#f4006e"/>
<circle cx="141.4" cy="148.4" r="2.9" fill="#0089fa"/>
<circle cx="363.1" cy="145.9" r="2.9" fill="#008afb"/>
<circle cx="156.6" cy="109.6" r="2.9" fill="#0086fa"/>
<circle cx="154.1" cy="176.9" r="2.9" fill="#ff0054"/>
<circle cx="107.8" cy="51.6" r="2.9" fill="#0088fa"/>
<circle cx="447.3" cy="179.8" r="2.9" fill="#fe005d"/>
<circle cx="106.2" cy="129.2" r="2.9" fill="#0077f2"/>
<circle cx="446.9" cy="128.9" r="2.9" fill="#7251d3"/>
<circle cx="189.8" cy="166.8" r="2.9" fill="#7e48cb"/>
<circle cx="346.2" cy="142.6" r="2.9" fill="#0086f9"/>
<circle cx="321.5" cy="148.0" r="2.9" fill="#fd005e"/>
<circle cx="397.2" cy="161.0" r="2.9" fill="#ef0076"/>
<circle cx="113.2" cy="111.5" r="2.9" fill="#0088fa"/>
<circle cx="124.8" cy="114.9" r="2.9" fill="#0085f9"/>
<circle cx="289.3" cy="141.1" r="2.9" fill="#595edf"/>
<circle cx="109.2" cy="138.1" r="2.9" fill="#8642c5"/>
<circle cx="447.2" cy="241.5" r="2.9" fill="#007ff6"/>
<circle cx="254.0" cy="122.9" r="2.9" fill="#4a64e4"/>
<circle cx="333.2" cy="133.9" r="2.9" fill="#007af4"/>
<circle cx="171.4" cy="176.3" r="2.9" fill="#ff005a"/>
<circle cx="113.7" cy="89.5" r="2.9" fill="#0088fa"/>
<circle cx="111.1" cy="134.0" r="2.9" fill="#007cf5"/>
<circle cx="210.6" cy="132.9" r="2.9" fill="#ff0053"/>
<circle cx="428.4" cy="212.1" r="2.9" fill="#0086f9"/>
<circle cx="138.6" cy="148.5" r="2.9" fill="#008afb"/>
<circle cx="113.6" cy="148.7" r="2.9" fill="#008afb"/>
<circle cx="400.2" cy="157.3" r="2.9" fill="#ff0058"/>
<circle cx="383.3" cy="153.8" r="2.9" fill="#0087fa"/>
<circle cx="354.9" cy="154.3" r="2.9" fill="#f6006c"/>
<circle cx="259.1" cy="127.3" r="2.9" fill="#ff005c"/>
<circle cx="231.1" cy="121.6" r="2.9" fill="#0087fa"/>
<circle cx="129.5" cy="173.8" r="2.9" fill="#ff0056"/>
<circle cx="171.4" cy="181.6" r="2.9" fill="#ff0057"/>
<circle cx="447.2" cy="304.5" r="2.9" fill="#0088fa"/>
<circle cx="437.8" cy="156.2" r="2.9" fill="#8f37bc"/>
<circle cx="326.8" cy="149.5" r="2.9" fill="#fd005e"/>
<circle cx="279.3" cy="144.7" r="2.9" fill="#fe005c"/>
<circle cx="407.7" cy="156.9" r="2.9" fill="#0085f9"/>
<circle cx="447.4" cy="274.6" r="2.9" fill="#007ff6"/>
<circle cx="447.4" cy="253.6" r="2.9" fill="#0088fa"/>
<circle cx="233.0" cy="118.0" r="2.9" fill="#c4009b"/>
<circle cx="385.4" cy="171.1" r="2.9" fill="#ff0058"/>
<circle cx="258.3" cy="128.2" r="2.9" fill="#0083f8"/>
<circle cx="447.5" cy="230.0" r="2.9" fill="#007df5"/>
<circle cx="190.7" cy="142.3" r="2.9" fill="#0086f9"/>
<circle cx="443.6" cy="151.1" r="2.9" fill="#ff0055"/>
<circle cx="402.3" cy="196.4" r="2.9" fill="#008bfb"/>
<circle cx="143.6" cy="162.2" r="2.9" fill="#883fc3"/>
<circle cx="231.4" cy="122.4" r="2.9" fill="#0086f9"/>
<circle cx="446.9" cy="249.2" r="2.9" fill="#0083f8"/>
<circle cx="120.8" cy="150.3" r="2.9" fill="#0082f8"/>
<circle cx="332.7" cy="130.9" r="2.9" fill="#008afb"/>
<circle cx="187.4" cy="170.6" r="2.9" fill="#ff0057"/>
<circle cx="209.7" cy="138.1" r="2.9" fill="#ff0059"/>
<circle cx="106.2" cy="179.0" r="2.9" fill="#fe005c"/>
<circle cx="447.1" cy="148.4" r="2.9" fill="#fd0060"/>
<circle cx="131.3" cy="146.7" r="2.9" fill="#0076f2"/>
<circle cx="244.8" cy="129.1" r="2.9" fill="#9431b7"/>
<circle cx="217.9" cy="124.4" r="2.9" fill="#0088fa"/>
<circle cx="106.0" cy="117.1" r="2.9" fill="#008afb"/>
<circle cx="359.4" cy="144.2" r="2.9" fill="#0084f9"/>
<circle cx="447.3" cy="263.1" r="2.9" fill="#0085f9"/>
<circle cx="298.1" cy="141.3" r="2.9" fill="#0071ee"/>
<circle cx="348.3" cy="144.0" r="2.9" fill="#0089fa"/>
<circle cx="372.8" cy="161.8" r="2.9" fill="#fe005c"/>
<circle cx="195.9" cy="142.9" r="2.9" fill="#6d54d6"/>
<circle cx="109.4" cy="66.0" r="2.9" fill="#0088fa"/>
<circle cx="355.8" cy="151.8" r="2.9" fill="#a71ba9"/>
<circle cx="264.3" cy="131.1" r="2.9" fill="#8f38bc"/>
<circle cx="272.6" cy="107.5" r="2.9" fill="#008afb"/>
<circle cx="109.1" cy="146.0" r="2.9" fill="#0088fa"/>
<circle cx="441.0" cy="222.0" r="2.9" fill="#0077f2"/>
<circle cx="446.9" cy="136.0" r="2.9" fill="#893fc2"/>
<circle cx="306.9" cy="135.0" r="2.9" fill="#7f48ca"/>
<circle cx="446.0" cy="146.8" r="2.9" fill="#ff0054"/>
<circle cx="197.6" cy="148.9" r="2.9" fill="#8641c4"/>
<circle cx="444.0" cy="167.5" r="2.9" fill="#ff0059"/>
<circle cx="166.4" cy="162.6" r="2.9" fill="#bd009f"/>
<circle cx="152.7" cy="167.0" r="2.9" fill="#ff0053"/>
<circle cx="260.9" cy="130.3" r="2.9" fill="#3b68e7"/>
<circle cx="352.8" cy="136.9" r="2.9" fill="#0087fa"/>
<circle cx="200.9" cy="110.6" r="2.9" fill="#0082f8"/>
<circle cx="151.2" cy="182.8" r="2.9" fill="#fc0060"/>
<circle cx="447.3" cy="146.7" r="2.9" fill="#ff0059"/>
<circle cx="445.0" cy="161.7" r="2.9" fill="#fe005c"/>
<circle cx="295.9" cy="134.1" r="2.9" fill="#7350d2"/>
<circle cx="298.1" cy="123.9" r="2.9" fill="#0085f9"/>
<circle cx="366.4" cy="144.4" r="2.9" fill="#0085f9"/>
<circle cx="339.1" cy="155.4" r="2.9" fill="#ff0054"/>
<circle cx="447.1" cy="181.6" r="2.9" fill="#ff0053"/>
<circle cx="148.7" cy="171.0" r="2.9" fill="#fc0061"/>
<circle cx="166.7" cy="153.8" r="2.9" fill="#306ae9"/>
<circle cx="437.2" cy="182.0" r="2.9" fill="#008afb"/>
<circle cx="317.4" cy="140.8" r="2.9" fill="#0087fa"/>
<circle cx="426.8" cy="159.7" r="2.9" fill="#0086f9"/>
<circle cx="116.7" cy="159.9" r="2.9" fill="#ff0058"/>
<circle cx="348.4" cy="144.2" r="2.9" fill="#008afb"/>
<circle cx="159.1" cy="144.7" r="2.9" fill="#0083f8"/>
<circle cx="346.5" cy="154.7" r="2.9" fill="#ff0057"/>
<circle cx="421.0" cy="177.4" r="2.9" fill="#007df6"/>
<circle cx="446.7" cy="160.2" r="2.9" fill="#ff0059"/>
<circle cx="153.8" cy="170.4" r="2.9" fill="#ff005b"/>
<circle cx="408.4" cy="160.7" r="2.9" fill="#ff0058"/>
<circle cx="135.5" cy="163.0" r="2.9" fill="#ff005a"/>
<circle cx="444.4" cy="135.7" r="2.9" fill="#4565e5"/>
<circle cx="106.3" cy="130.0" r="2.9" fill="#007df5"/>
<circle cx="443.4" cy="158.3" r="2.9" fill="#fe005c"/>
<circle cx="408.0" cy="177.3" r="2.9" fill="#0086f9"/>
<circle cx="446.8" cy="203.8" r="2.9" fill="#0082f8"/>
<circle cx="196.4" cy="159.8" r="2.9" fill="#fa0065"/>
<circle cx="105.4" cy="110.0" r="2.9" fill="#007bf5"/>
<circle cx="109.2" cy="85.3" r="2.9" fill="#0087fa"/>
<circle cx="442.8" cy="143.0" r="2.9" fill="#fd005e"/>
<circle cx="293.7" cy="130.2" r="2.9" fill="#008afb"/>
<circle cx="112.9" cy="163.6" r="2.9" fill="#fd005e"/>
<circle cx="107.0" cy="98.1" r="2.9" fill="#0089fa"/>
<circle cx="376.5" cy="159.7" r="2.9" fill="#fc0060"/>
<circle cx="333.4" cy="148.3" r="2.9" fill="#0087fa"/>
<circle cx="445.7" cy="214.3" r="2.9" fill="#0084f9"/>
<circle cx="133.3" cy="175.9" r="2.9" fill="#ff0054"/>
<circle cx="447.4" cy="294.7" r="2.9" fill="#0089fa"/>
<circle cx="238.0" cy="133.0" r="2.9" fill="#ff0055"/>
<circle cx="447.3" cy="261.5" r="2.9" fill="#0085f9"/>
<circle cx="326.9" cy="152.1" r="2.9" fill="#ff005b"/>
<circle cx="316.8" cy="141.1" r="2.9" fill="#a51daa"/>
<circle cx="386.5" cy="161.1" r="2.9" fill="#fe005d"/>
<circle cx="372.3" cy="163.0" r="2.9" fill="#ff0058"/>
<circle cx="150.6" cy="111.1" r="2.9" fill="#007af4"/>
<circle cx="204.5" cy="108.2" r="2.9" fill="#0083f8"/>
<circle cx="131.8" cy="164.6" r="2.9" fill="#754fd1"/>
<circle cx="394.2" cy="172.7" r="2.9" fill="#fd005f"/>
<circle cx="444.6" cy="132.9" r="2.9" fill="#ff005c"/>
<circle cx="155.7" cy="168.4" r="2.9" fill="#fe005c"/>
<circle cx="154.7" cy="173.8" r="2.9" fill="#fe005d"/>
<circle cx="304.2" cy="144.9" r="2.9" fill="#ff0057"/>
<circle cx="447.4" cy="191.0" r="2.9" fill="#ff0053"/>
<circle cx="209.9" cy="124.3" r="2.9" fill="#5360e1"/>
<circle cx="298.1" cy="149.0" r="2.9" fill="#fe005c"/>
<circle cx="172.7" cy="145.1" r="2.9" fill="#0084f9"/>
<circle cx="180.4" cy="150.5" r="2.9" fill="#007bf4"/>
<circle cx="389.8" cy="154.0" r="2.9" fill="#ff005a"/>
<circle cx="280.9" cy="111.6" r="2.9" fill="#0089fa"/>
<circle cx="210.0" cy="128.1" r="2.9" fill="#af12a6"/>
<circle cx="145.2" cy="161.2" r="2.9" fill="#952fb6"/>
<circle cx="346.1" cy="135.6" r="2.9" fill="#2d6be9"/>
<circle cx="287.4" cy="134.2" r="2.9" fill="#0088fa"/>
<circle cx="232.9" cy="140.9" r="2.9" fill="#ff0058"/>
<circle cx="261.1" cy="113.4" r="2.9" fill="#0085f9"/>
<circle cx="220.7" cy="144.9" r="2.9" fill="#ff0058"/>
<circle cx="440.1" cy="166.2" r="2.9" fill="#fd005f"/>
<circle cx="447.4" cy="289.8" r="2.9" fill="#0088fa"/>
<circle cx="242.7" cy="104.3" r="2.9" fill="#0088fa"/>
<circle cx="135.0" cy="168.8" r="2.9" fill="#ff005a"/>
<circle cx="407.9" cy="157.1" r="2.9" fill="#0084f9"/>
<circle cx="307.3" cy="134.1" r="2.9" fill="#0088fa"/>
<circle cx="447.2" cy="127.7" r="2.9" fill="#fe005d"/>
<circle cx="447.2" cy="287.6" r="2.9" fill="#0076f1"/>
<circle cx="107.6" cy="152.7" r="2.9" fill="#008afb"/>
<circle cx="114.0" cy="77.0" r="2.9" fill="#0086f9"/>
<circle cx="317.5" cy="147.2" r="2.9" fill="#fe005e"/>
<circle cx="125.0" cy="165.7" r="2.9" fill="#fd0060"/>
<circle cx="418.6" cy="166.5" r="2.9" fill="#fe005c"/>
<circle cx="104.0" cy="192.0" r="2.9" fill="#ff0057"/>
<circle cx="447.0" cy="232.8" r="2.9" fill="#0084f9"/>
<circle cx="281.0" cy="137.4" r="2.9" fill="#774ed0"/>
<circle cx="183.0" cy="175.7" r="2.9" fill="#5361e1"/>
<circle cx="295.1" cy="140.1" r="2.9" fill="#008afb"/>
<circle cx="117.9" cy="142.3" r="2.9" fill="#6459da"/>
<circle cx="219.8" cy="137.0" r="2.9" fill="#ff0053"/>
<circle cx="321.4" cy="145.4" r="2.9" fill="#7d49cb"/>
<circle cx="442.9" cy="158.0" r="2.9" fill="#ff005a"/>
<circle cx="115.0" cy="89.7" r="2.9" fill="#0088fa"/>
<circle cx="283.5" cy="128.5" r="2.9" fill="#a41daa"/>
<circle cx="286.3" cy="133.6" r="2.9" fill="#0075f1"/>
<circle cx="217.3" cy="131.0" r="2.9" fill="#ff0053"/>
<circle cx="118.8" cy="143.1" r="2.9" fill="#0084f9"/>
<circle cx="186.6" cy="138.1" r="2.9" fill="#0086f9"/>
<circle cx="215.0" cy="100.5" r="2.9" fill="#0088fa"/>
<circle cx="208.8" cy="155.6" r="2.9" fill="#ff0056"/>
<circle cx="372.1" cy="174.6" r="2.9" fill="#007cf5"/>
<circle cx="412.0" cy="165.0" r="2.9" fill="#ff005a"/>
<circle cx="447.2" cy="192.5" r="2.9" fill="#784dcf"/>
<circle cx="286.4" cy="138.2" r="2.9" fill="#0086f9"/>
<circle cx="378.3" cy="154.2" r="2.9" fill="#007ef6"/>
<circle cx="212.0" cy="135.7" r="2.9" fill="#ff0059"/>
<circle cx="109.1" cy="126.7" r="2.9" fill="#0082f8"/>
<circle cx="251.7" cy="128.6" r="2.9" fill="#a51daa"/>
<circle cx="433.9" cy="188.9" r="2.9" fill="#0083f8"/>
<circle cx="136.8" cy="118.3" r="2.9" fill="#0084f9"/>
<circle cx="159.0" cy="191.5" r="2.9" fill="#ee0076"/>
<circle cx="447.1" cy="185.6" r="2.9" fill="#a71aa9"/>
<circle cx="117.1" cy="160.6" r="2.9" fill="#ff0055"/>
<circle cx="310.0" cy="151.0" r="2.9" fill="#fd0060"/>
<circle cx="317.4" cy="140.7" r="2.9" fill="#fd005e"/>
<circle cx="365.0" cy="162.0" r="2.9" fill="#fd005e"/>
<circle cx="224.4" cy="115.2" r="2.9" fill="#008afb"/>
<circle cx="182.4" cy="146.6" r="2.9" fill="#0089fa"/>
<circle cx="294.3" cy="137.1" r="2.9" fill="#ff005c"/>
<circle cx="275.1" cy="115.4" r="2.9" fill="#0084f9"/>
<circle cx="108.9" cy="143.5" r="2.9" fill="#0089fa"/>
<circle cx="371.5" cy="154.4" r="2.9" fill="#fd0060"/>
<circle cx="445.0" cy="151.6" r="2.9" fill="#fd0060"/>
<circle cx="157.8" cy="106.2" r="2.9" fill="#0089fa"/>
<circle cx="144.5" cy="169.8" r="2.9" fill="#7e49cb"/>
<circle cx="390.6" cy="159.0" r="2.9" fill="#ff0054"/>
<circle cx="447.5" cy="178.0" r="2.9" fill="#ff005a"/>
<circle cx="316.8" cy="138.9" r="2.9" fill="#8146c9"/>
<circle cx="159.9" cy="168.6" r="2.9" fill="#fc0061"/>
<circle cx="447.5" cy="287.0" r="2.9" fill="#0081f7"/>
<circle cx="299.1" cy="137.8" r="2.9" fill="#ff0058"/>
<circle cx="185.7" cy="178.0" r="2.9" fill="#fe005c"/>
<circle cx="368.5" cy="148.2" r="2.9" fill="#ff005b"/>
<circle cx="446.3" cy="132.4" r="2.9" fill="#fd0060"/>
<circle cx="109.2" cy="108.9" r="2.9" fill="#0076f1"/>
<circle cx="107.8" cy="159.3" r="2.9" fill="#ff0058"/>
<circle cx="301.3" cy="131.4" r="2.9" fill="#b802a1"/>
<circle cx="342.6" cy="132.2" r="2.9" fill="#0088fa"/>
<circle cx="159.3" cy="180.3" r="2.9" fill="#ff005b"/>
<circle cx="191.5" cy="172.4" r="2.9" fill="#4e62e2"/>
<circle cx="361.0" cy="145.7" r="2.9" fill="#ff0051"/>
<circle cx="397.9" cy="178.8" r="2.9" fill="#0088fa"/>
<circle cx="229.5" cy="143.4" r="2.9" fill="#ff005b"/>
<circle cx="446.8" cy="211.3" r="2.9" fill="#0089fa"/>
<circle cx="447.3" cy="288.1" r="2.9" fill="#0087fa"/>
<circle cx="286.8" cy="119.9" r="2.9" fill="#0089fa"/>
<circle cx="149.1" cy="102.9" r="2.9" fill="#007ef6"/>
<circle cx="107.3" cy="107.7" r="2.9" fill="#007ff7"/>
<circle cx="165.4" cy="155.7" r="2.9" fill="#0086f9"/>
<circle cx="444.1" cy="160.2" r="2.9" fill="#ff0056"/>
<circle cx="345.4" cy="155.3" r="2.9" fill="#fc0060"/>
<circle cx="422.0" cy="159.2" r="2.9" fill="#fd0060"/>
<circle cx="145.8" cy="170.2" r="2.9" fill="#ff005b"/>
<circle cx="179.0" cy="190.0" r="2.9" fill="#ff0055"/>
<circle cx="428.8" cy="163.5" r="2.9" fill="#0075f0"/>
<circle cx="328.7" cy="138.2" r="2.9" fill="#a919a8"/>
<circle cx="447.0" cy="162.0" r="2.9" fill="#ff005a"/>
<circle cx="223.0" cy="117.0" r="2.9" fill="#286cea"/>
<circle cx="186.9" cy="165.3" r="2.9" fill="#ff005a"/>
<circle cx="445.6" cy="152.9" r="2.9" fill="#fe005e"/>
<circle cx="204.6" cy="147.8" r="2.9" fill="#ff0055"/>
<circle cx="149.9" cy="131.9" r="2.9" fill="#008afb"/>
<circle cx="110.7" cy="137.3" r="2.9" fill="#0075f1"/>
<circle cx="209.0" cy="130.8" r="2.9" fill="#8741c4"/>
<circle cx="141.8" cy="163.6" r="2.9" fill="#fe005e"/>
<circle cx="107.9" cy="117.9" r="2.9" fill="#0076f1"/>
<circle cx="387.8" cy="192.6" r="2.9" fill="#007ef6"/>
<circle cx="356.2" cy="148.2" r="2.9" fill="#0084f9"/>
<circle cx="446.8" cy="221.1" r="2.9" fill="#0084f9"/>
<circle cx="313.8" cy="136.4" r="2.9" fill="#8740c4"/>
<circle cx="333.3" cy="139.7" r="2.9" fill="#0088fa"/>
<circle cx="446.7" cy="163.9" r="2.9" fill="#ff005a"/>
<circle cx="129.8" cy="170.6" r="2.9" fill="#6459da"/>
<circle cx="447.3" cy="257.3" r="2.9" fill="#0089fa"/>
<circle cx="446.9" cy="140.5" r="2.9" fill="#ff0053"/>
<circle cx="129.7" cy="162.5" r="2.9" fill="#ff0055"/>
<circle cx="446.4" cy="189.7" r="2.9" fill="#f90067"/>
<circle cx="111.0" cy="77.5" r="2.9" fill="#007ff7"/>
<circle cx="445.7" cy="236.9" r="2.9" fill="#0085f9"/>
<circle cx="414.0" cy="216.5" r="2.9" fill="#007bf4"/>
<circle cx="327.9" cy="143.6" r="2.9" fill="#5360e1"/>
<circle cx="359.1" cy="152.5" r="2.9" fill="#ff0053"/>
<circle cx="353.4" cy="138.1" r="2.9" fill="#0087fa"/>
<circle cx="171.8" cy="135.5" r="2.9" fill="#0075f1"/>
<circle cx="170.4" cy="171.3" r="2.9" fill="#fd005f"/>
<circle cx="446.7" cy="136.6" r="2.9" fill="#ff0058"/>
<circle cx="382.7" cy="185.8" r="2.9" fill="#0082f8"/>
<circle cx="445.3" cy="154.5" r="2.9" fill="#f6006c"/>
<circle cx="246.2" cy="134.4" r="2.9" fill="#ff005a"/>
<circle cx="373.4" cy="153.3" r="2.9" fill="#ff0055"/>
<circle cx="199.5" cy="144.8" r="2.9" fill="#0088fa"/>
<circle cx="333.1" cy="132.5" r="2.9" fill="#9e22ac"/>
<circle cx="352.1" cy="144.7" r="2.9" fill="#fe005d"/>
<circle cx="446.9" cy="152.5" r="2.9" fill="#fb0063"/>
<circle cx="447.0" cy="214.0" r="2.9" fill="#0088fa"/>
<circle cx="447.2" cy="202.9" r="2.9" fill="#0087fa"/>
<circle cx="446.9" cy="277.3" r="2.9" fill="#0077f2"/>
<circle cx="327.0" cy="145.1" r="2.9" fill="#fd005f"/>
<circle cx="409.0" cy="157.6" r="2.9" fill="#ff005a"/>
<circle cx="196.4" cy="153.0" r="2.9" fill="#2e6be9"/>
<circle cx="365.0" cy="146.2" r="2.9" fill="#f10073"/>
<circle cx="190.5" cy="152.3" r="2.9" fill="#0076f1"/>
<circle cx="186.1" cy="144.8" r="2.9" fill="#0088fa"/>
<circle cx="111.6" cy="101.5" r="2.9" fill="#0089fa"/>
<circle cx="447.3" cy="260.0" r="2.9" fill="#9135ba"/>
<circle cx="380.0" cy="152.9" r="2.9" fill="#336ae8"/>
<circle cx="178.0" cy="169.3" r="2.9" fill="#ff005b"/>
<circle cx="447.3" cy="256.3" r="2.9" fill="#0084f9"/>
<circle cx="229.2" cy="114.6" r="2.9" fill="#0072ef"/>
<circle cx="186.9" cy="166.0" r="2.9" fill="#ff0055"/>
<circle cx="217.8" cy="139.3" r="2.9" fill="#ff0056"/>
<circle cx="441.0" cy="134.5" r="2.9" fill="#ff0052"/>
<circle cx="395.8" cy="192.9" r="2.9" fill="#0086f9"/>
<circle cx="296.9" cy="148.8" r="2.9" fill="#ff0056"/>
<circle cx="442.8" cy="218.8" r="2.9" fill="#0083f8"/>
<circle cx="127.0" cy="116.3" r="2.9" fill="#008afb"/>
<circle cx="381.8" cy="154.1" r="2.9" fill="#0088fa"/>
<circle cx="111.0" cy="153.9" r="2.9" fill="#0085f9"/>
<circle cx="307.7" cy="128.7" r="2.9" fill="#0084f9"/>
<circle cx="408.8" cy="160.6" r="2.9" fill="#962eb4"/>
<circle cx="307.1" cy="143.1" r="2.9" fill="#a41daa"/>
<circle cx="194.7" cy="115.5" r="2.9" fill="#0079f3"/>
<circle cx="171.6" cy="110.9" r="2.9" fill="#008afb"/>
<circle cx="272.6" cy="149.9" r="2.9" fill="#ff0059"/>
<circle cx="240.0" cy="117.7" r="2.9" fill="#0087fa"/>
<circle cx="120.5" cy="98.9" r="2.9" fill="#0085f9"/>
<circle cx="139.8" cy="150.2" r="2.9" fill="#0079f3"/>
<circle cx="342.3" cy="146.9" r="2.9" fill="#5b5dde"/>
<circle cx="446.2" cy="220.3" r="2.9" fill="#0085f9"/>
<circle cx="447.5" cy="130.7" r="2.9" fill="#ff0053"/>
<circle cx="289.8" cy="126.9" r="2.9" fill="#0082f8"/>
<circle cx="158.3" cy="102.9" r="2.9" fill="#0086f9"/>
<circle cx="447.4" cy="218.1" r="2.9" fill="#0076f1"/>
<circle cx="158.7" cy="149.2" r="2.9" fill="#0085f9"/>
<circle cx="445.0" cy="141.6" r="2.9" fill="#ff0057"/>
<circle cx="116.5" cy="117.9" r="2.9" fill="#0088fa"/>
<circle cx="133.7" cy="168.8" r="2.9" fill="#ff005a"/>
<circle cx="436.4" cy="199.2" r="2.9" fill="#0086fa"/>
<circle cx="447.1" cy="254.4" r="2.9" fill="#008afa"/>
<circle cx="447.0" cy="177.8" r="2.9" fill="#fd005e"/>
<circle cx="216.9" cy="141.7" r="2.9" fill="#ff005a"/>
<circle cx="363.5" cy="146.0" r="2.9" fill="#ff0057"/>
<circle cx="445.3" cy="155.3" r="2.9" fill="#fc0060"/>
<circle cx="213.4" cy="126.6" r="2.9" fill="#0089fa"/>
<circle cx="447.4" cy="139.2" r="2.9" fill="#ff0052"/>
<circle cx="342.4" cy="155.2" r="2.9" fill="#fe005d"/>
<circle cx="165.6" cy="107.8" r="2.9" fill="#2e6be9"/>
<circle cx="446.8" cy="214.8" r="2.9" fill="#0087fa"/>
<circle cx="398.7" cy="167.8" r="2.9" fill="#eb007b"/>
<circle cx="363.8" cy="149.7" r="2.9" fill="#0075f0"/>
<circle cx="447.3" cy="163.9" r="2.9" fill="#b50aa3"/>
<circle cx="445.8" cy="154.7" r="2.9" fill="#ff0054"/>
<circle cx="327.0" cy="139.8" r="2.9" fill="#ff0051"/>
<circle cx="143.7" cy="169.5" r="2.9" fill="#ff0056"/>
<circle cx="126.2" cy="165.8" r="2.9" fill="#fe005c"/>
<circle cx="165.4" cy="137.5" r="2.9" fill="#0087fa"/>
<circle cx="439.1" cy="161.4" r="2.9" fill="#ff0052"/>
<circle cx="444.1" cy="139.4" r="2.9" fill="#ff0059"/>
<circle cx="418.5" cy="161.5" r="2.9" fill="#0083f8"/>
<circle cx="231.8" cy="123.8" r="2.9" fill="#0087fa"/>
<circle cx="105.5" cy="138.4" r="2.9" fill="#008afb"/>
<circle cx="146.8" cy="112.4" r="2.9" fill="#008afb"/>
<circle cx="118.5" cy="156.2" r="2.9" fill="#0088fa"/>
<circle cx="270.0" cy="126.0" r="2.9" fill="#ff005b"/>
<circle cx="107.7" cy="127.7" r="2.9" fill="#0088fa"/>
<circle cx="204.4" cy="137.2" r="2.9" fill="#0086f9"/>
<circle cx="446.7" cy="238.3" r="2.9" fill="#008afb"/>
<circle cx="390.1" cy="175.7" r="2.9" fill="#0087fa"/>
<circle cx="170.1" cy="110.2" r="2.9" fill="#008afb"/>
<circle cx="383.3" cy="176.6" r="2.9" fill="#0084f9"/>
<circle cx="346.0" cy="159.0" r="2.9" fill="#fe005c"/>
<circle cx="174.6" cy="167.8" r="2.9" fill="#ff0056"/>
<circle cx="201.5" cy="147.7" r="2.9" fill="#4565e5"/>
<circle cx="126.9" cy="172.1" r="2.9" fill="#f20072"/>
<circle cx="447.2" cy="152.4" r="2.9" fill="#ff0055"/>
<circle cx="251.5" cy="125.8" r="2.9" fill="#0085f9"/>
<circle cx="318.5" cy="148.0" r="2.9" fill="#f00075"/>
<circle cx="278.9" cy="137.6" r="2.9" fill="#ff0056"/>
<circle cx="322.7" cy="129.7" r="2.9" fill="#008afb"/>
<circle cx="209.5" cy="132.0" r="2.9" fill="#8740c4"/>
<circle cx="129.6" cy="153.6" r="2.9" fill="#0084f9"/>
<circle cx="114.0" cy="103.6" r="2.9" fill="#0080f7"/>
<circle cx="108.1" cy="84.3" r="2.9" fill="#007bf4"/>
<circle cx="444.2" cy="144.0" r="2.9" fill="#fe005d"/>
<circle cx="294.6" cy="120.8" r="2.9" fill="#0077f2"/>
<circle cx="230.4" cy="136.9" r="2.9" fill="#f80068"/>
<circle cx="365.8" cy="162.7" r="2.9" fill="#ff0051"/>
<circle cx="151.0" cy="173.7" r="2.9" fill="#ea007b"/>
<circle cx="399.3" cy="158.3" r="2.9" fill="#ff0052"/>
<circle cx="426.2" cy="166.0" r="2.9" fill="#fe005c"/>
<circle cx="187.9" cy="162.9" r="2.9" fill="#9929b1"/>
<circle cx="447.4" cy="155.2" r="2.9" fill="#a71aa9"/>
<circle cx="194.5" cy="161.8" r="2.9" fill="#ff005b"/>
<circle cx="446.8" cy="144.2" r="2.9" fill="#ff0055"/>
<circle cx="446.1" cy="180.8" r="2.9" fill="#8840c3"/>
<circle cx="429.4" cy="164.4" r="2.9" fill="#ff0059"/>
<circle cx="292.8" cy="126.6" r="2.9" fill="#007bf5"/>
<circle cx="193.3" cy="155.5" r="2.9" fill="#4964e4"/>
<circle cx="234.0" cy="111.2" r="2.9" fill="#0084f9"/>
<circle cx="121.5" cy="130.2" r="2.9" fill="#008afb"/>
<circle cx="127.4" cy="116.9" r="2.9" fill="#0085f9"/>
<circle cx="120.9" cy="173.8" r="2.9" fill="#ff0059"/>
<circle cx="331.1" cy="152.1" r="2.9" fill="#ff0055"/>
<circle cx="422.1" cy="159.8" r="2.9" fill="#ff0057"/>
<circle cx="130.0" cy="160.9" r="2.9" fill="#7a4cce"/>
<circle cx="359.6" cy="137.0" r="2.9" fill="#8c3bbf"/>
<circle cx="386.8" cy="182.3" r="2.9" fill="#0085f9"/>
<circle cx="147.9" cy="129.8" r="2.9" fill="#008afb"/>
<circle cx="123.0" cy="101.3" r="2.9" fill="#0088fa"/>
<circle cx="447.3" cy="261.5" r="2.9" fill="#0087fa"/>
<circle cx="380.4" cy="160.3" r="2.9" fill="#ff0059"/>
<circle cx="152.1" cy="179.8" r="2.9" fill="#fe005c"/>
<circle cx="368.8" cy="147.2" r="2.9" fill="#fe005c"/>
<circle cx="292.0" cy="124.3" r="2.9" fill="#0089fa"/>
<circle cx="238.9" cy="121.7" r="2.9" fill="#0084f9"/>
<circle cx="414.3" cy="174.0" r="2.9" fill="#ff0058"/>
<circle cx="141.5" cy="165.7" r="2.9" fill="#ff0055"/>
<circle cx="447.1" cy="194.3" r="2.9" fill="#ff0051"/>
<circle cx="447.1" cy="299.2" r="2.9" fill="#0088fa"/>
<circle cx="158.9" cy="121.2" r="2.9" fill="#0088fa"/>
<circle cx="363.0" cy="140.5" r="2.9" fill="#0085f9"/>
<circle cx="255.9" cy="146.2" r="2.9" fill="#ff0058"/>
<circle cx="176.6" cy="143.4" r="2.9" fill="#0085f9"/>
<circle cx="190.1" cy="175.4" r="2.9" fill="#ff005b"/>
<circle cx="335.5" cy="132.1" r="2.9" fill="#0070ed"/>
<circle cx="160.9" cy="145.3" r="2.9" fill="#0082f8"/>
<circle cx="447.4" cy="259.6" r="2.9" fill="#0085f9"/>
<circle cx="140.5" cy="181.4" r="2.9" fill="#ff0059"/>
<circle cx="302.2" cy="139.7" r="2.9" fill="#007ef6"/>
<circle cx="447.4" cy="144.2" r="2.9" fill="#fe005d"/>
<circle cx="385.7" cy="157.3" r="2.9" fill="#296bea"/>
<circle cx="107.9" cy="93.9" r="2.9" fill="#0082f8"/>
<circle cx="309.9" cy="144.5" r="2.9" fill="#7f48ca"/>
<circle cx="257.6" cy="129.6" r="2.9" fill="#615adb"/>
<circle cx="429.7" cy="167.0" r="2.9" fill="#ff0059"/>
<circle cx="329.4" cy="157.3" r="2.9" fill="#8146c9"/>
<circle cx="355.1" cy="152.8" r="2.9" fill="#fb0063"/>
<circle cx="403.4" cy="157.7" r="2.9" fill="#ae13a6"/>
<circle cx="118.9" cy="116.5" r="2.9" fill="#0084f9"/>
<circle cx="235.5" cy="127.5" r="2.9" fill="#0083f8"/>
<circle cx="152.8" cy="108.3" r="2.9" fill="#0084f9"/>
<circle cx="445.8" cy="156.4" r="2.9" fill="#ff0059"/>
<circle cx="312.5" cy="142.0" r="2.9" fill="#fe005c"/>
<circle cx="440.1" cy="153.9" r="2.9" fill="#fd005f"/>
<circle cx="444.5" cy="134.4" r="2.9" fill="#f80069"/>
<circle cx="424.0" cy="167.9" r="2.9" fill="#fe005d"/>
<circle cx="123.5" cy="150.9" r="2.9" fill="#0082f8"/>
<circle cx="127.2" cy="111.1" r="2.9" fill="#008afb"/>
<circle cx="263.7" cy="124.1" r="2.9" fill="#0084f9"/>
<circle cx="310.3" cy="137.3" r="2.9" fill="#9037bb"/>
<circle cx="153.8" cy="116.7" r="2.9" fill="#0073f0"/>
<circle cx="271.9" cy="117.0" r="2.9" fill="#008afb"/>
<circle cx="447.4" cy="221.0" r="2.9" fill="#007ff6"/>
<circle cx="115.9" cy="147.7" r="2.9" fill="#0085f9"/>
<circle cx="418.6" cy="164.4" r="2.9" fill="#0088fa"/>
<circle cx="337.5" cy="149.0" r="2.9" fill="#ff005a"/>
<circle cx="322.5" cy="153.6" r="2.9" fill="#fe005c"/>
<circle cx="222.3" cy="116.5" r="2.9" fill="#0082f8"/>
<circle cx="178.7" cy="127.7" r="2.9" fill="#0083f8"/>
<circle cx="156.1" cy="164.8" r="2.9" fill="#7a4cce"/>
<circle cx="187.5" cy="178.3" r="2.9" fill="#ff0052"/>
<circle cx="232.2" cy="128.0" r="2.9" fill="#b40ba3"/>
<circle cx="256.9" cy="129.0" r="2.9" fill="#ff0053"/>
<circle cx="180.4" cy="168.1" r="2.9" fill="#ff0055"/>
<circle cx="289.4" cy="138.1" r="2.9" fill="#0089fa"/>
<circle cx="444.6" cy="208.3" r="2.9" fill="#0084f9"/>
<circle cx="270.8" cy="134.1" r="2.9" fill="#0089fa"/>
<circle cx="229.5" cy="115.3" r="2.9" fill="#0083f8"/>
<circle cx="445.1" cy="217.0" r="2.9" fill="#0077f2"/>
<circle cx="159.7" cy="126.4" r="2.9" fill="#0083f8"/>
<circle cx="159.3" cy="181.6" r="2.9" fill="#fe005e"/>
<circle cx="133.3" cy="120.5" r="2.9" fill="#008afb"/>
<circle cx="128.8" cy="182.7" r="2.9" fill="#fd005f"/>
<circle cx="129.3" cy="164.4" r="2.9" fill="#ff005b"/>
<circle cx="114.9" cy="114.2" r="2.9" fill="#0088fa"/>
<circle cx="162.7" cy="118.0" r="2.9" fill="#0088fa"/>
<circle cx="415.8" cy="160.2" r="2.9" fill="#3f67e6"/>
<circle cx="126.5" cy="134.8" r="2.9" fill="#007ff7"/>
<circle cx="123.9" cy="101.9" r="2.9" fill="#007df6"/>
<circle cx="269.5" cy="132.0" r="2.9" fill="#ff0059"/>
<circle cx="167.4" cy="167.4" r="2.9" fill="#9f21ac"/>
<circle cx="361.1" cy="148.4" r="2.9" fill="#ea007b"/>
<circle cx="114.7" cy="179.0" r="2.9" fill="#ff0059"/>
<circle cx="267.8" cy="133.8" r="2.9" fill="#fe005e"/>
<circle cx="109.4" cy="108.6" r="2.9" fill="#0085f9"/>
<circle cx="446.6" cy="162.1" r="2.9" fill="#ff0057"/>
<circle cx="435.0" cy="171.5" r="2.9" fill="#ff0058"/>
<circle cx="123.7" cy="108.7" r="2.9" fill="#0079f3"/>
<circle cx="272.7" cy="150.6" r="2.9" fill="#ff0056"/>
<circle cx="130.4" cy="162.1" r="2.9" fill="#fe005c"/>
<circle cx="334.2" cy="140.1" r="2.9" fill="#ff0054"/>
<circle cx="201.4" cy="125.1" r="2.9" fill="#0085f9"/>
<circle cx="344.4" cy="148.2" r="2.9" fill="#ff0058"/>
<circle cx="385.2" cy="180.5" r="2.9" fill="#0084f9"/>
<circle cx="366.8" cy="154.6" r="2.9" fill="#0083f8"/>
<circle cx="369.8" cy="165.6" r="2.9" fill="#fd005e"/>
<circle cx="279.1" cy="139.3" r="2.9" fill="#fe005d"/>
<circle cx="208.4" cy="137.5" r="2.9" fill="#fe005e"/>
<circle cx="216.5" cy="132.9" r="2.9" fill="#754fd1"/>
<circle cx="255.2" cy="115.0" r="2.9" fill="#0083f8"/>
<circle cx="137.3" cy="139.7" r="2.9" fill="#008afb"/>
<circle cx="209.1" cy="136.3" r="2.9" fill="#007af4"/>
<circle cx="272.8" cy="132.4" r="2.9" fill="#0070ed"/>
<circle cx="278.4" cy="132.3" r="2.9" fill="#6857d8"/>
<circle cx="117.0" cy="157.5" r="2.9" fill="#883fc3"/>
<circle cx="123.2" cy="118.2" r="2.9" fill="#0088fa"/>
<circle cx="337.8" cy="150.0" r="2.9" fill="#ff0054"/>
<circle cx="276.7" cy="116.3" r="2.9" fill="#8840c3"/>
<circle cx="169.4" cy="154.5" r="2.9" fill="#0086fa"/>
<circle cx="436.7" cy="162.8" r="2.9" fill="#ff0058"/>
<circle cx="447.2" cy="256.3" r="2.9" fill="#0078f2"/>
<circle cx="121.0" cy="164.9" r="2.9" fill="#5f5bdc"/>
<circle cx="447.3" cy="164.2" r="2.9" fill="#ff0056"/>
<circle cx="446.9" cy="278.8" r="2.9" fill="#008afb"/>
<circle cx="443.6" cy="129.1" r="2.9" fill="#a21fab"/>
<circle cx="316.3" cy="148.2" r="2.9" fill="#146eec"/>
<circle cx="447.3" cy="197.9" r="2.9" fill="#ff0052"/>
<circle cx="378.7" cy="160.7" r="2.9" fill="#f90067"/>
<circle cx="206.4" cy="157.3" r="2.9" fill="#ff0055"/>
<circle cx="354.3" cy="152.6" r="2.9" fill="#ff0054"/>
<circle cx="215.0" cy="118.6" r="2.9" fill="#0089fa"/>
<circle cx="180.4" cy="165.8" r="2.9" fill="#962db4"/>
<circle cx="447.5" cy="197.3" r="2.9" fill="#764fd1"/>
<circle cx="245.0" cy="130.9" r="2.9" fill="#ed0078"/>
<circle cx="292.8" cy="150.7" r="2.9" fill="#fc0061"/>
<circle cx="442.5" cy="144.6" r="2.9" fill="#bb00a0"/>
<circle cx="285.4" cy="134.9" r="2.9" fill="#4665e4"/>
<circle cx="204.9" cy="109.5" r="2.9" fill="#007df5"/>
<circle cx="446.8" cy="168.7" r="2.9" fill="#8840c3"/>
<circle cx="387.7" cy="154.2" r="2.9" fill="#0074f0"/>
<circle cx="296.1" cy="148.5" r="2.9" fill="#fd005e"/>
<circle cx="445.9" cy="245.4" r="2.9" fill="#007cf5"/>
<circle cx="316.3" cy="129.5" r="2.9" fill="#0084f9"/>
<circle cx="313.3" cy="141.0" r="2.9" fill="#fc0060"/>
<circle cx="330.7" cy="144.0" r="2.9" fill="#ff0058"/>
<circle cx="228.3" cy="107.4" r="2.9" fill="#0087fa"/>
<circle cx="446.7" cy="133.2" r="2.9" fill="#ff005c"/>
<circle cx="431.7" cy="163.3" r="2.9" fill="#ff0059"/>
<circle cx="124.7" cy="108.2" r="2.9" fill="#0088fa"/>
<circle cx="447.4" cy="133.1" r="2.9" fill="#fe005d"/>
<circle cx="444.2" cy="232.0" r="2.9" fill="#007bf4"/>
<circle cx="377.8" cy="164.4" r="2.9" fill="#f80068"/>
<circle cx="297.3" cy="144.9" r="2.9" fill="#4b63e3"/>
<circle cx="447.4" cy="266.7" r="2.9" fill="#0075f1"/>
<circle cx="153.6" cy="105.9" r="2.9" fill="#0086f9"/>
<circle cx="107.9" cy="83.1" r="2.9" fill="#0089fa"/>
<circle cx="124.5" cy="104.5" r="2.9" fill="#007df6"/>
<circle cx="243.2" cy="133.3" r="2.9" fill="#fe005d"/>
<circle cx="446.8" cy="185.1" r="2.9" fill="#4c63e3"/>
<circle cx="114.8" cy="96.3" r="2.9" fill="#0086f9"/>
<circle cx="407.1" cy="156.9" r="2.9" fill="#ff0056"/>
<circle cx="309.9" cy="148.0" r="2.9" fill="#ff0056"/>
<circle cx="246.1" cy="139.4" r="2.9" fill="#9927b0"/>
<circle cx="250.7" cy="101.4" r="2.9" fill="#0087fa"/>
<circle cx="443.8" cy="161.2" r="2.9" fill="#fe005e"/>
<circle cx="305.9" cy="152.2" r="2.9" fill="#fe005d"/>
<circle cx="229.3" cy="114.5" r="2.9" fill="#0082f8"/>
<circle cx="111.1" cy="85.1" r="2.9" fill="#0087fa"/>
<circle cx="217.7" cy="131.0" r="2.9" fill="#ff0055"/>
<circle cx="243.7" cy="104.3" r="2.9" fill="#0086f9"/>
<circle cx="297.5" cy="132.8" r="2.9" fill="#0083f8"/>
<circle cx="105.4" cy="103.8" r="2.9" fill="#0088fa"/>
<circle cx="251.0" cy="117.3" r="2.9" fill="#4366e5"/>
<circle cx="191.1" cy="118.1" r="2.9" fill="#008afb"/>
<circle cx="259.4" cy="134.3" r="2.9" fill="#7d49cc"/>
<circle cx="303.3" cy="148.9" r="2.9" fill="#ff0052"/>
<circle cx="132.2" cy="166.1" r="2.9" fill="#ff005c"/>
<circle cx="447.4" cy="192.5" r="2.9" fill="#fd0060"/>
<circle cx="447.4" cy="217.5" r="2.9" fill="#0085f9"/>
<circle cx="105.7" cy="148.7" r="2.9" fill="#0088fa"/>
<circle cx="175.5" cy="163.5" r="2.9" fill="#9a25ae"/>
<circle cx="130.5" cy="154.0" r="2.9" fill="#5361e1"/>
<circle cx="190.9" cy="124.8" r="2.9" fill="#0087fa"/>
<circle cx="411.9" cy="162.9" r="2.9" fill="#fd005f"/>
<circle cx="294.0" cy="139.2" r="2.9" fill="#0078f2"/>
<circle cx="196.6" cy="177.1" r="2.9" fill="#ff005c"/>
<circle cx="427.5" cy="173.1" r="2.9" fill="#f80068"/>
<circle cx="120.9" cy="102.6" r="2.9" fill="#0087fa"/>
<circle cx="162.8" cy="104.6" r="2.9" fill="#0087fa"/>
<circle cx="447.1" cy="259.2" r="2.9" fill="#0072ee"/>
<circle cx="447.2" cy="287.4" r="2.9" fill="#008afb"/>
<circle cx="328.8" cy="150.7" r="2.9" fill="#893ec2"/>
<circle cx="221.4" cy="118.1" r="2.9" fill="#0083f8"/>
<circle cx="417.4" cy="177.6" r="2.9" fill="#0085f9"/>
<circle cx="136.4" cy="122.7" r="2.9" fill="#006fed"/>
<circle cx="392.3" cy="169.7" r="2.9" fill="#fd0060"/>
<circle cx="109.0" cy="97.1" r="2.9" fill="#0084f9"/>
<circle cx="274.2" cy="124.5" r="2.9" fill="#0088fa"/>
<circle cx="332.8" cy="141.4" r="2.9" fill="#5161e1"/>
<circle cx="243.6" cy="116.2" r="2.9" fill="#0083f8"/>
<circle cx="400.3" cy="171.3" r="2.9" fill="#fe005e"/>
<circle cx="271.0" cy="142.6" r="2.9" fill="#ff0054"/>
<circle cx="239.6" cy="135.3" r="2.9" fill="#fd0060"/>
<circle cx="392.6" cy="155.6" r="2.9" fill="#ff0055"/>
<circle cx="107.3" cy="158.9" r="2.9" fill="#4864e4"/>
<circle cx="447.4" cy="291.9" r="2.9" fill="#0089fa"/>
<circle cx="119.0" cy="94.0" r="2.9" fill="#0088fa"/>
<circle cx="118.2" cy="139.9" r="2.9" fill="#0080f7"/>
<circle cx="196.5" cy="164.1" r="2.9" fill="#fa0066"/>
<circle cx="160.2" cy="168.5" r="2.9" fill="#fd0060"/>
<circle cx="444.7" cy="229.4" r="2.9" fill="#007bf4"/>
<circle cx="259.7" cy="138.8" r="2.9" fill="#ff0058"/>
<circle cx="124.5" cy="94.3" r="2.9" fill="#0089fa"/>
<circle cx="207.1" cy="109.1" r="2.9" fill="#008afb"/>
<circle cx="447.4" cy="194.0" r="2.9" fill="#ff0057"/>
<circle cx="193.8" cy="163.3" r="2.9" fill="#4c63e3"/>
<circle cx="251.4" cy="108.4" r="2.9" fill="#0083f8"/>
<circle cx="324.5" cy="140.8" r="2.9" fill="#8b3dc1"/>
<circle cx="305.0" cy="121.0" r="2.9" fill="#007af4"/>
<circle cx="308.7" cy="138.8" r="2.9" fill="#0089fa"/>
<circle cx="373.7" cy="167.4" r="2.9" fill="#fc0061"/>
<circle cx="135.0" cy="96.5" r="2.9" fill="#0086f9"/>
<circle cx="122.6" cy="122.4" r="2.9" fill="#0085f9"/>
<circle cx="383.7" cy="154.2" r="2.9" fill="#be009e"/>
<circle cx="233.3" cy="112.8" r="2.9" fill="#9f21ac"/>
<circle cx="188.6" cy="171.3" r="2.9" fill="#fe005e"/>
<circle cx="106.6" cy="99.2" r="2.9" fill="#008afb"/>
<circle cx="188.4" cy="154.9" r="2.9" fill="#b30ca4"/>
<circle cx="300.7" cy="134.1" r="2.9" fill="#0087fa"/>
<circle cx="129.4" cy="171.8" r="2.9" fill="#fd0060"/>
<circle cx="447.1" cy="208.5" r="2.9" fill="#0075f1"/>
<circle cx="447.5" cy="277.4" r="2.9" fill="#0076f2"/>
<circle cx="380.0" cy="175.5" r="2.9" fill="#0084f9"/>
<circle cx="115.4" cy="175.7" r="2.9" fill="#fd0060"/>
<circle cx="221.6" cy="130.1" r="2.9" fill="#fe005e"/>
<circle cx="138.9" cy="178.4" r="2.9" fill="#f30071"/>
<circle cx="163.4" cy="138.7" r="2.9" fill="#0084f9"/>
<circle cx="148.4" cy="172.1" r="2.9" fill="#0077f2"/>
<circle cx="199.3" cy="157.5" r="2.9" fill="#f80069"/>
<circle cx="446.2" cy="152.3" r="2.9" fill="#ff0053"/>
<circle cx="120.7" cy="157.9" r="2.9" fill="#784dcf"/>
<circle cx="170.3" cy="155.4" r="2.9" fill="#b804a2"/>
<circle cx="400.2" cy="189.6" r="2.9" fill="#0080f7"/>
<circle cx="149.2" cy="122.0" r="2.9" fill="#0075f1"/>
<circle cx="298.3" cy="142.7" r="2.9" fill="#ac15a7"/>
<circle cx="447.3" cy="149.1" r="2.9" fill="#ff0057"/>
<circle cx="447.4" cy="290.8" r="2.9" fill="#008afb"/>
<circle cx="351.0" cy="148.7" r="2.9" fill="#7d49cc"/>
<circle cx="215.3" cy="145.1" r="2.9" fill="#ff0054"/>
<circle cx="271.5" cy="110.0" r="2.9" fill="#0084f9"/>
<circle cx="254.4" cy="134.8" r="2.9" fill="#ff0057"/>
<circle cx="173.1" cy="132.2" r="2.9" fill="#007ff6"/>
<circle cx="447.0" cy="279.8" r="2.9" fill="#0088fa"/>
<circle cx="326.4" cy="139.5" r="2.9" fill="#0083f8"/>
<circle cx="180.0" cy="114.0" r="2.9" fill="#0089fa"/>
<circle cx="144.7" cy="166.0" r="2.9" fill="#ff0056"/>
<circle cx="272.6" cy="137.9" r="2.9" fill="#ff0054"/>
<circle cx="224.0" cy="129.8" r="2.9" fill="#ea007b"/>
<circle cx="424.3" cy="173.3" r="2.9" fill="#ef0075"/>
<circle cx="110.3" cy="121.0" r="2.9" fill="#007bf4"/>
<circle cx="167.5" cy="118.1" r="2.9" fill="#0088fa"/>
<circle cx="446.9" cy="168.7" r="2.9" fill="#ff005a"/>
<circle cx="178.7" cy="143.7" r="2.9" fill="#0085f9"/>
<circle cx="234.5" cy="140.2" r="2.9" fill="#ea007b"/>
<circle cx="442.1" cy="151.5" r="2.9" fill="#fd005f"/>
<circle cx="433.7" cy="168.2" r="2.9" fill="#ff005c"/>
<circle cx="177.4" cy="151.2" r="2.9" fill="#6f53d5"/>
<circle cx="168.6" cy="134.9" r="2.9" fill="#0083f8"/>
<circle cx="134.4" cy="110.7" r="2.9" fill="#0089fa"/>
<circle cx="123.6" cy="128.7" r="2.9" fill="#0075f1"/>
<circle cx="446.3" cy="168.3" r="2.9" fill="#ff0055"/>
<circle cx="109.7" cy="177.0" r="2.9" fill="#ff0056"/>
<circle cx="118.7" cy="141.0" r="2.9" fill="#176eec"/>
<circle cx="437.3" cy="157.7" r="2.9" fill="#008afb"/>
<circle cx="253.4" cy="128.0" r="2.9" fill="#7e49cb"/>
<circle cx="161.5" cy="170.5" r="2.9" fill="#f5006c"/>
<circle cx="446.8" cy="264.7" r="2.9" fill="#0083f8"/>
<circle cx="188.7" cy="146.7" r="2.9" fill="#0082f8"/>
<circle cx="157.9" cy="154.6" r="2.9" fill="#9929b1"/>
<circle cx="106.1" cy="78.7" r="2.9" fill="#0087fa"/>
<circle cx="259.6" cy="147.5" r="2.9" fill="#ee0077"/>
<circle cx="421.5" cy="172.5" r="2.9" fill="#ff0057"/>
<circle cx="302.5" cy="127.6" r="2.9" fill="#0086f9"/>
<circle cx="446.9" cy="239.0" r="2.9" fill="#0082f8"/>
<circle cx="284.0" cy="136.1" r="2.9" fill="#ff0055"/>
<circle cx="447.2" cy="145.1" r="2.9" fill="#9430b6"/>
<circle cx="446.8" cy="140.1" r="2.9" fill="#fe005c"/>
<circle cx="444.9" cy="140.2" r="2.9" fill="#fe005c"/>
<circle cx="447.0" cy="160.1" r="2.9" fill="#ff0059"/>
<circle cx="444.8" cy="213.5" r="2.9" fill="#0082f8"/>
<circle cx="178.2" cy="166.6" r="2.9" fill="#8542c5"/>
<circle cx="182.3" cy="170.3" r="2.9" fill="#fd005f"/>
<circle cx="357.2" cy="145.8" r="2.9" fill="#0088fa"/>
<circle cx="432.6" cy="158.1" r="2.9" fill="#ff0054"/>
<circle cx="358.4" cy="162.5" r="2.9" fill="#fc0061"/>
<circle cx="252.5" cy="121.6" r="2.9" fill="#0087fa"/>
<circle cx="446.2" cy="137.0" r="2.9" fill="#ff0056"/>
<circle cx="155.3" cy="176.2" r="2.9" fill="#fd005f"/>
<circle cx="320.0" cy="126.0" r="2.9" fill="#0083f8"/>
<circle cx="447.3" cy="278.0" r="2.9" fill="#008afb"/>
<circle cx="156.5" cy="113.5" r="2.9" fill="#0087fa"/>
<circle cx="441.4" cy="204.6" r="2.9" fill="#007af4"/>
<circle cx="204.6" cy="134.9" r="2.9" fill="#8f37bc"/>
<circle cx="136.4" cy="124.3" r="2.9" fill="#0083f8"/>
<circle cx="124.1" cy="160.4" r="2.9" fill="#fc0060"/>
<circle cx="447.3" cy="292.7" r="2.9" fill="#0087fa"/>
<circle cx="110.8" cy="104.4" r="2.9" fill="#0088fa"/>
<circle cx="447.4" cy="166.1" r="2.9" fill="#fd005e"/>
<circle cx="214.0" cy="121.8" r="2.9" fill="#0082f8"/>
<circle cx="446.3" cy="149.5" r="2.9" fill="#fd005f"/>
<circle cx="291.2" cy="118.6" r="2.9" fill="#0085f9"/>
<circle cx="229.2" cy="109.2" r="2.9" fill="#0087fa"/>
<circle cx="194.7" cy="156.6" r="2.9" fill="#a11fab"/>
<circle cx="111.4" cy="84.7" r="2.9" fill="#008afb"/>
<circle cx="106.9" cy="155.7" r="2.9" fill="#0085f9"/>
<circle cx="186.4" cy="152.1" r="2.9" fill="#8641c5"/>
<circle cx="178.5" cy="148.6" r="2.9" fill="#007cf5"/>
<circle cx="442.7" cy="168.5" r="2.9" fill="#ef0076"/>
<circle cx="400.7" cy="164.1" r="2.9" fill="#f30070"/>
<circle cx="330.4" cy="145.7" r="2.9" fill="#ff0057"/>
<circle cx="447.4" cy="150.5" r="2.9" fill="#fe005c"/>
<circle cx="403.7" cy="159.6" r="2.9" fill="#9136ba"/>
<circle cx="447.4" cy="127.2" r="2.9" fill="#fe005d"/>
<circle cx="292.5" cy="126.4" r="2.9" fill="#0081f8"/>
<circle cx="291.8" cy="123.1" r="2.9" fill="#0089fa"/>
<circle cx="445.8" cy="141.3" r="2.9" fill="#ff0057"/>
<circle cx="434.3" cy="189.6" r="2.9" fill="#0070ed"/>
<circle cx="290.2" cy="142.0" r="2.9" fill="#6658d9"/>
<circle cx="343.5" cy="145.7" r="2.9" fill="#f80069"/>
<circle cx="298.6" cy="136.2" r="2.9" fill="#8344c7"/>
<circle cx="125.4" cy="154.7" r="2.9" fill="#be009e"/>
<circle cx="265.0" cy="130.5" r="2.9" fill="#0085f9"/>
<circle cx="252.3" cy="123.5" r="2.9" fill="#8a3dc1"/>
<circle cx="340.7" cy="146.8" r="2.9" fill="#9829b1"/>
<circle cx="168.1" cy="172.6" r="2.9" fill="#fd005f"/>
<circle cx="355.9" cy="141.2" r="2.9" fill="#008afb"/>
<circle cx="129.9" cy="124.7" r="2.9" fill="#0086f9"/>
<circle cx="373.6" cy="155.9" r="2.9" fill="#9036bb"/>
<circle cx="447.3" cy="141.5" r="2.9" fill="#fe005d"/>
<circle cx="258.3" cy="142.1" r="2.9" fill="#ff005c"/>
<circle cx="397.8" cy="160.1" r="2.9" fill="#0088fa"/>
<circle cx="407.7" cy="160.5" r="2.9" fill="#ec007a"/>
<circle cx="444.2" cy="218.7" r="2.9" fill="#0089fa"/>
<circle cx="164.1" cy="167.9" r="2.9" fill="#ff0057"/>
<circle cx="445.7" cy="201.6" r="2.9" fill="#0078f3"/>
<circle cx="263.9" cy="123.1" r="2.9" fill="#0084f9"/>
<circle cx="159.5" cy="152.1" r="2.9" fill="#9036bb"/>
<circle cx="446.1" cy="137.0" r="2.9" fill="#8e38bd"/>
<circle cx="447.4" cy="281.7" r="2.9" fill="#0085f9"/>
<circle cx="158.0" cy="143.7" r="2.9" fill="#b705a2"/>
<circle cx="204.7" cy="126.4" r="2.9" fill="#4c63e3"/>
<circle cx="187.9" cy="180.1" r="2.9" fill="#ff005b"/>
<circle cx="230.2" cy="113.7" r="2.9" fill="#6e54d5"/>
<circle cx="118.5" cy="140.8" r="2.9" fill="#007ef6"/>
<circle cx="447.2" cy="191.4" r="2.9" fill="#ff0058"/>
<circle cx="247.7" cy="107.1" r="2.9" fill="#0085f9"/>
<circle cx="113.2" cy="106.7" r="2.9" fill="#0083f8"/>
<circle cx="447.3" cy="169.8" r="2.9" fill="#fb0063"/>
<circle cx="178.8" cy="165.8" r="2.9" fill="#ed0078"/>
<circle cx="446.8" cy="146.5" r="2.9" fill="#ff005b"/>
<circle cx="154.3" cy="181.4" r="2.9" fill="#ff0053"/>
<circle cx="446.1" cy="206.0" r="2.9" fill="#0085f9"/>
<circle cx="444.0" cy="244.6" r="2.9" fill="#0076f2"/>
<circle cx="129.9" cy="115.8" r="2.9" fill="#008afb"/>
<circle cx="112.0" cy="100.5" r="2.9" fill="#0086f9"/>
<circle cx="278.7" cy="120.9" r="2.9" fill="#9c23ad"/>
<circle cx="313.1" cy="144.9" r="2.9" fill="#ff0056"/>
<circle cx="301.5" cy="141.5" r="2.9" fill="#fd0060"/>
<circle cx="428.5" cy="192.9" r="2.9" fill="#0089fa"/>
<circle cx="444.5" cy="150.0" r="2.9" fill="#ff0057"/>
<circle cx="144.9" cy="150.8" r="2.9" fill="#007af4"/>
<circle cx="431.5" cy="163.7" r="2.9" fill="#ff005b"/>
<circle cx="104.7" cy="179.9" r="2.9" fill="#ff0059"/>
<circle cx="377.5" cy="158.9" r="2.9" fill="#ff0053"/>
<circle cx="186.3" cy="135.6" r="2.9" fill="#0083f8"/>
<circle cx="443.0" cy="238.5" r="2.9" fill="#0089fa"/>
<circle cx="326.5" cy="163.6" r="2.9" fill="#0079f3"/>
<circle cx="166.7" cy="160.9" r="2.9" fill="#7b4bcd"/>
<circle cx="149.5" cy="165.7" r="2.9" fill="#ff0053"/>
<circle cx="240.0" cy="148.3" r="2.9" fill="#fd005e"/>
<circle cx="112.9" cy="105.6" r="2.9" fill="#0083f8"/>
<circle cx="105.2" cy="66.0" r="2.9" fill="#0087fa"/>
<circle cx="301.0" cy="146.8" r="2.9" fill="#ff0054"/>
<circle cx="422.0" cy="208.0" r="2.9" fill="#0089fa"/>
<circle cx="446.7" cy="235.7" r="2.9" fill="#0084f9"/>
<circle cx="445.8" cy="135.2" r="2.9" fill="#fe005d"/>
<circle cx="280.6" cy="119.3" r="2.9" fill="#0088fa"/>
<circle cx="114.0" cy="82.4" r="2.9" fill="#0083f8"/>
<circle cx="413.3" cy="205.5" r="2.9" fill="#008afb"/>
<circle cx="236.9" cy="119.9" r="2.9" fill="#008afb"/>
<circle cx="347.0" cy="148.2" r="2.9" fill="#bc009f"/>
<circle cx="203.0" cy="133.2" r="2.9" fill="#0089fa"/>
<circle cx="341.5" cy="133.6" r="2.9" fill="#008afb"/>
<circle cx="111.4" cy="86.8" r="2.9" fill="#0083f8"/>
<circle cx="184.4" cy="167.2" r="2.9" fill="#ff0056"/>
<circle cx="335.0" cy="140.4" r="2.9" fill="#9135ba"/>
<circle cx="235.4" cy="111.5" r="2.9" fill="#0089fa"/>
<circle cx="351.2" cy="148.8" r="2.9" fill="#0089fa"/>
<circle cx="447.2" cy="197.2" r="2.9" fill="#ff0056"/>
<circle cx="137.0" cy="151.0" r="2.9" fill="#8d3abe"/>
<circle cx="314.7" cy="124.7" r="2.9" fill="#0086f9"/>
<circle cx="105.2" cy="152.6" r="2.9" fill="#ff0054"/>
<circle cx="445.9" cy="205.5" r="2.9" fill="#0088fa"/>
<circle cx="141.3" cy="169.4" r="2.9" fill="#fe005d"/>
<circle cx="255.0" cy="119.7" r="2.9" fill="#007af4"/>
<circle cx="116.9" cy="77.8" r="2.9" fill="#0085f9"/>
<circle cx="359.5" cy="157.5" r="2.9" fill="#ff0056"/>
<circle cx="266.8" cy="143.8" r="2.9" fill="#fc0061"/>
<circle cx="145.8" cy="171.6" r="2.9" fill="#ff0059"/>
<circle cx="430.4" cy="162.7" r="2.9" fill="#6f53d4"/>
<circle cx="447.2" cy="293.7" r="2.9" fill="#0085f9"/>
<circle cx="214.6" cy="127.4" r="2.9" fill="#6f53d4"/>
<circle cx="266.6" cy="132.9" r="2.9" fill="#0085f9"/>
<circle cx="108.3" cy="177.5" r="2.9" fill="#ff005b"/>
<circle cx="445.2" cy="239.2" r="2.9" fill="#0084f9"/>
<circle cx="295.6" cy="135.4" r="2.9" fill="#7251d3"/>
<circle cx="232.4" cy="138.0" r="2.9" fill="#7b4bcd"/>
<circle cx="220.5" cy="143.2" r="2.9" fill="#fe005d"/>
<circle cx="367.4" cy="140.6" r="2.9" fill="#0084f9"/>
<circle cx="214.4" cy="131.0" r="2.9" fill="#ff0055"/>
<circle cx="157.9" cy="166.5" r="2.9" fill="#ff005a"/>
<circle cx="183.3" cy="164.6" r="2.9" fill="#ff0058"/>
<circle cx="334.1" cy="148.9" r="2.9" fill="#ff005a"/>
<circle cx="146.4" cy="148.7" r="2.9" fill="#0075f1"/>
<circle cx="105.2" cy="89.1" r="2.9" fill="#0084f9"/>
<circle cx="335.4" cy="143.2" r="2.9" fill="#008afb"/>
<circle cx="294.6" cy="139.3" r="2.9" fill="#ff0056"/>
<circle cx="341.7" cy="139.9" r="2.9" fill="#0077f2"/>
<circle cx="121.5" cy="104.8" r="2.9" fill="#007ff7"/>
<circle cx="447.0" cy="194.2" r="2.9" fill="#ff005a"/>
<circle cx="168.0" cy="188.0" r="2.9" fill="#ff005b"/>
<circle cx="446.9" cy="183.0" r="2.9" fill="#fe005c"/>
<circle cx="447.3" cy="266.5" r="2.9" fill="#0079f3"/>
<circle cx="303.4" cy="152.6" r="2.9" fill="#ff005b"/>
<circle cx="123.8" cy="115.5" r="2.9" fill="#2f6ae9"/>
<circle cx="291.6" cy="120.3" r="2.9" fill="#0084f9"/>
<circle cx="175.0" cy="113.0" r="2.9" fill="#0088fa"/>
<circle cx="447.4" cy="199.9" r="2.9" fill="#ff0056"/>
<circle cx="377.7" cy="154.1" r="2.9" fill="#ff005b"/>
<circle cx="219.5" cy="131.9" r="2.9" fill="#fe005c"/>
<circle cx="370.8" cy="162.9" r="2.9" fill="#ff0057"/>
<circle cx="282.7" cy="138.7" r="2.9" fill="#ff005b"/>
<circle cx="154.2" cy="168.3" r="2.9" fill="#ff005a"/>
<circle cx="185.7" cy="177.4" r="2.9" fill="#8443c6"/>
<circle cx="146.0" cy="167.6" r="2.9" fill="#9a26af"/>
<circle cx="379.6" cy="174.9" r="2.9" fill="#0084f9"/>
<circle cx="153.4" cy="133.6" r="2.9" fill="#0077f2"/>
<circle cx="386.2" cy="161.8" r="2.9" fill="#0076f2"/>
<circle cx="166.4" cy="152.1" r="2.9" fill="#a61ca9"/>
<circle cx="106.4" cy="175.7" r="2.9" fill="#ff0055"/>
<circle cx="218.5" cy="140.8" r="2.9" fill="#ff0054"/>
<circle cx="127.4" cy="155.7" r="2.9" fill="#4d62e2"/>
<circle cx="187.5" cy="165.8" r="2.9" fill="#bf009e"/>
<circle cx="216.5" cy="106.5" r="2.9" fill="#0083f8"/>
<circle cx="110.0" cy="93.9" r="2.9" fill="#0086f9"/>
<circle cx="118.8" cy="124.7" r="2.9" fill="#0070ed"/>
<circle cx="446.9" cy="157.3" r="2.9" fill="#ff0059"/>
<circle cx="405.0" cy="206.0" r="2.9" fill="#0083f8"/>
<circle cx="285.2" cy="121.0" r="2.9" fill="#5161e1"/>
<circle cx="168.2" cy="173.3" r="2.9" fill="#2d6be9"/>
<circle cx="117.1" cy="108.3" r="2.9" fill="#0085f9"/>
<circle cx="198.2" cy="117.1" r="2.9" fill="#0086fa"/>
<circle cx="229.7" cy="119.6" r="2.9" fill="#0087fa"/>
<circle cx="164.1" cy="147.0" r="2.9" fill="#008afb"/>
<circle cx="445.6" cy="140.5" r="2.9" fill="#ff0053"/>
<circle cx="111.3" cy="142.3" r="2.9" fill="#007ef6"/>
<circle cx="342.7" cy="146.8" r="2.9" fill="#fd005f"/>
<circle cx="429.9" cy="169.7" r="2.9" fill="#ff0056"/>
<circle cx="159.0" cy="123.4" r="2.9" fill="#0087fa"/>
<circle cx="441.5" cy="165.4" r="2.9" fill="#ff0054"/>
<circle cx="110.0" cy="165.9" r="2.9" fill="#2b6bea"/>
<circle cx="358.1" cy="152.7" r="2.9" fill="#7052d4"/>
<circle cx="438.6" cy="159.8" r="2.9" fill="#ff0057"/>
<circle cx="444.6" cy="162.1" r="2.9" fill="#fc0060"/>
<circle cx="338.9" cy="136.9" r="2.9" fill="#0089fa"/>
<circle cx="269.4" cy="130.3" r="2.9" fill="#4465e5"/>
<circle cx="106.1" cy="159.2" r="2.9" fill="#ff0059"/>
<circle cx="415.8" cy="160.2" r="2.9" fill="#7b4bcd"/>
<circle cx="300.3" cy="150.7" r="2.9" fill="#fd005f"/>
<circle cx="167.2" cy="139.1" r="2.9" fill="#0084f9"/>
<circle cx="192.4" cy="152.7" r="2.9" fill="#4c63e3"/>
<circle cx="108.6" cy="45.3" r="2.9" fill="#0088fa"/>
<circle cx="144.3" cy="109.7" r="2.9" fill="#0088fa"/>
<circle cx="120.3" cy="145.8" r="2.9" fill="#0089fa"/>
<circle cx="150.9" cy="173.2" r="2.9" fill="#f20072"/>
<circle cx="447.4" cy="269.2" r="2.9" fill="#0082f8"/>
<circle cx="112.1" cy="108.5" r="2.9" fill="#0087fa"/>
<circle cx="177.8" cy="174.5" r="2.9" fill="#ff0059"/>
<circle cx="188.3" cy="126.6" r="2.9" fill="#008afb"/>
<circle cx="355.4" cy="148.0" r="2.9" fill="#ff0059"/>
<circle cx="445.2" cy="137.4" r="2.9" fill="#ff0053"/>
<circle cx="107.3" cy="54.8" r="2.9" fill="#0088fa"/>
<circle cx="447.5" cy="248.7" r="2.9" fill="#0084f9"/>
<circle cx="191.9" cy="166.1" r="2.9" fill="#9332b8"/>
<circle cx="339.4" cy="150.8" r="2.9" fill="#ff0053"/>
<circle cx="346.6" cy="150.1" r="2.9" fill="#007ff7"/>
<circle cx="323.6" cy="143.2" r="2.9" fill="#ff0056"/>
<circle cx="446.9" cy="198.2" r="2.9" fill="#3b68e7"/>
<circle cx="220.9" cy="134.7" r="2.9" fill="#fe005c"/>
<circle cx="382.6" cy="157.1" r="2.9" fill="#0084f9"/>
<circle cx="110.1" cy="158.1" r="2.9" fill="#0083f8"/>
<circle cx="185.5" cy="145.7" r="2.9" fill="#0085f9"/>
<circle cx="447.1" cy="127.9" r="2.9" fill="#ff0053"/>
<circle cx="323.7" cy="128.6" r="2.9" fill="#0077f2"/>
<circle cx="272.8" cy="133.6" r="2.9" fill="#ff0054"/>
<circle cx="188.9" cy="169.8" r="2.9" fill="#ff0051"/>
<circle cx="442.5" cy="143.0" r="2.9" fill="#ff0057"/>
<circle cx="114.9" cy="112.6" r="2.9" fill="#0088fa"/>
<circle cx="116.9" cy="130.7" r="2.9" fill="#008afb"/>
<circle cx="411.8" cy="163.0" r="2.9" fill="#ff0054"/>
<circle cx="268.4" cy="114.3" r="2.9" fill="#0088fa"/>
<circle cx="364.5" cy="143.7" r="2.9" fill="#0089fa"/>
<circle cx="306.6" cy="126.5" r="2.9" fill="#008afa"/>
<circle cx="321.6" cy="140.2" r="2.9" fill="#ff0058"/>
<circle cx="173.5" cy="139.6" r="2.9" fill="#0088fa"/>
<circle cx="397.6" cy="155.2" r="2.9" fill="#0075f1"/>
<circle cx="446.1" cy="169.9" r="2.9" fill="#ff0056"/>
<circle cx="433.6" cy="163.8" r="2.9" fill="#fe005d"/>
<circle cx="393.2" cy="199.0" r="2.9" fill="#0088fa"/>
<circle cx="323.8" cy="138.6" r="2.9" fill="#0088fa"/>
<circle cx="187.7" cy="152.3" r="2.9" fill="#0086f9"/>
<circle cx="443.9" cy="134.5" r="2.9" fill="#fd005f"/>
<circle cx="443.4" cy="138.7" r="2.9" fill="#f20071"/>
<circle cx="302.5" cy="153.0" r="2.9" fill="#ff005a"/>
<circle cx="311.1" cy="145.0" r="2.9" fill="#ff0054"/>
<circle cx="288.1" cy="147.9" r="2.9" fill="#fd005f"/>
<circle cx="145.5" cy="109.1" r="2.9" fill="#008afa"/>
<circle cx="318.9" cy="130.9" r="2.9" fill="#0084f9"/>
<circle cx="236.8" cy="118.2" r="2.9" fill="#0084f9"/>
<circle cx="197.2" cy="156.4" r="2.9" fill="#b10fa5"/>
<circle cx="409.9" cy="171.9" r="2.9" fill="#fd005f"/>
<circle cx="274.6" cy="123.4" r="2.9" fill="#008afb"/>
<circle cx="440.8" cy="133.3" r="2.9" fill="#fe005e"/>
<circle cx="194.7" cy="125.8" r="2.9" fill="#0087fa"/>
<circle cx="104.9" cy="119.4" r="2.9" fill="#0071ee"/>
<circle cx="222.1" cy="134.6" r="2.9" fill="#ff0058"/>
<circle cx="209.9" cy="145.8" r="2.9" fill="#ff0058"/>
<circle cx="217.6" cy="111.8" r="2.9" fill="#008afb"/>
<circle cx="410.1" cy="166.6" r="2.9" fill="#0080f7"/>
<circle cx="209.4" cy="139.2" r="2.9" fill="#a61ba9"/>
<circle cx="249.7" cy="127.7" r="2.9" fill="#008afb"/>
<circle cx="446.9" cy="131.2" r="2.9" fill="#ff0054"/>
<circle cx="284.6" cy="115.0" r="2.9" fill="#0086fa"/>
<circle cx="393.4" cy="177.6" r="2.9" fill="#0089fa"/>
<circle cx="110.3" cy="131.7" r="2.9" fill="#0085f9"/>
<circle cx="228.8" cy="139.4" r="2.9" fill="#ff0058"/>
<circle cx="119.0" cy="96.3" r="2.9" fill="#0083f8"/>
<circle cx="133.4" cy="165.5" r="2.9" fill="#ff005b"/>
<circle cx="314.4" cy="139.0" r="2.9" fill="#ff0058"/>
<circle cx="282.2" cy="138.3" r="2.9" fill="#fe005e"/>
<circle cx="155.5" cy="123.6" r="2.9" fill="#0083f8"/>
<circle cx="105.1" cy="102.7" r="2.9" fill="#0086f9"/>
<circle cx="231.2" cy="109.0" r="2.9" fill="#0088fa"/>
<circle cx="379.7" cy="166.5" r="2.9" fill="#ff0056"/>
<circle cx="104.7" cy="103.1" r="2.9" fill="#0086fa"/>
<circle cx="113.4" cy="103.4" r="2.9" fill="#0084f9"/>
<circle cx="229.2" cy="122.9" r="2.9" fill="#af13a6"/>
<circle cx="446.9" cy="130.7" r="2.9" fill="#ff0055"/>
<circle cx="139.6" cy="122.6" r="2.9" fill="#3f67e6"/>
<circle cx="447.2" cy="251.8" r="2.9" fill="#0084f9"/>
<circle cx="173.2" cy="169.3" r="2.9" fill="#ff0059"/>
<circle cx="109.4" cy="94.2" r="2.9" fill="#0083f8"/>
<circle cx="396.4" cy="179.1" r="2.9" fill="#0083f8"/>
<circle cx="419.7" cy="162.5" r="2.9" fill="#3e67e6"/>
<circle cx="447.0" cy="287.5" r="2.9" fill="#246cea"/>
<circle cx="107.8" cy="92.6" r="2.9" fill="#0086fa"/>
<circle cx="307.9" cy="145.5" r="2.9" fill="#fe005c"/>
<circle cx="231.6" cy="137.4" r="2.9" fill="#fc0062"/>
<circle cx="431.9" cy="160.7" r="2.9" fill="#0084f9"/>
<circle cx="419.1" cy="166.0" r="2.9" fill="#ff0059"/>
<circle cx="446.8" cy="295.1" r="2.9" fill="#0087fa"/>
<circle cx="286.6" cy="128.2" r="2.9" fill="#007ef6"/>
<circle cx="263.8" cy="117.2" r="2.9" fill="#0088fa"/>
<circle cx="447.4" cy="164.0" r="2.9" fill="#fd005f"/>
<circle cx="294.9" cy="123.7" r="2.9" fill="#0089fa"/>
<circle cx="104.9" cy="147.7" r="2.9" fill="#008afb"/>
<circle cx="332.5" cy="145.7" r="2.9" fill="#0084f9"/>
<circle cx="313.0" cy="151.8" r="2.9" fill="#595edf"/>
<circle cx="208.0" cy="154.4" r="2.9" fill="#ff0057"/>
<circle cx="447.2" cy="208.4" r="2.9" fill="#008afb"/>
<circle cx="222.2" cy="127.1" r="2.9" fill="#8a3dc1"/>
<circle cx="112.3" cy="158.3" r="2.9" fill="#ff0059"/>
<circle cx="123.6" cy="114.7" r="2.9" fill="#0085f9"/>
<circle cx="275.1" cy="147.2" r="2.9" fill="#ff0055"/>
<circle cx="407.2" cy="163.2" r="2.9" fill="#ff005a"/>
<circle cx="322.3" cy="149.4" r="2.9" fill="#ff0059"/>
<circle cx="221.1" cy="130.8" r="2.9" fill="#ff0053"/>
<circle cx="270.7" cy="131.7" r="2.9" fill="#0089fa"/>
<circle cx="442.7" cy="208.6" r="2.9" fill="#0076f1"/>
<circle cx="142.0" cy="170.3" r="2.9" fill="#ff0058"/>
<circle cx="128.6" cy="179.6" r="2.9" fill="#ff005a"/>
<circle cx="270.0" cy="124.7" r="2.9" fill="#0078f2"/>
<circle cx="401.2" cy="197.3" r="2.9" fill="#0084f9"/>
<circle cx="442.6" cy="167.9" r="2.9" fill="#fb0062"/>
<circle cx="411.5" cy="168.1" r="2.9" fill="#0078f2"/>
<circle cx="180.5" cy="166.3" r="2.9" fill="#fd005f"/>
<circle cx="221.1" cy="121.1" r="2.9" fill="#ad15a7"/>
<circle cx="208.1" cy="150.9" r="2.9" fill="#ff0054"/>
<circle cx="202.9" cy="110.9" r="2.9" fill="#0088fa"/>
<circle cx="405.6" cy="193.7" r="2.9" fill="#0077f2"/>
<circle cx="286.4" cy="136.3" r="2.9" fill="#0087fa"/>
<circle cx="172.3" cy="173.8" r="2.9" fill="#fd0060"/>
<circle cx="106.2" cy="74.7" r="2.9" fill="#0083f8"/>
<circle cx="446.4" cy="206.8" r="2.9" fill="#0086f9"/>
<circle cx="230.3" cy="109.0" r="2.9" fill="#0088fa"/>
<circle cx="447.4" cy="212.8" r="2.9" fill="#5261e1"/>
<circle cx="162.6" cy="145.2" r="2.9" fill="#0085f9"/>
<circle cx="240.4" cy="127.8" r="2.9" fill="#0085f9"/>
<circle cx="151.6" cy="167.6" r="2.9" fill="#ff0059"/>
<circle cx="327.5" cy="140.5" r="2.9" fill="#0088fa"/>
<circle cx="222.7" cy="126.3" r="2.9" fill="#5b5dde"/>
<circle cx="132.5" cy="170.4" r="2.9" fill="#ff0054"/>
<circle cx="205.1" cy="113.8" r="2.9" fill="#0083f8"/>
<circle cx="361.8" cy="143.0" r="2.9" fill="#fd005f"/>
<circle cx="273.3" cy="140.3" r="2.9" fill="#ff0052"/>
<circle cx="164.4" cy="170.8" r="2.9" fill="#ff0055"/>
<circle cx="296.3" cy="138.0" r="2.9" fill="#774ed0"/>
<circle cx="187.7" cy="165.5" r="2.9" fill="#fd005f"/>
<circle cx="348.1" cy="142.7" r="2.9" fill="#0084f9"/>
<circle cx="429.7" cy="171.5" r="2.9" fill="#ff005a"/>
<circle cx="247.6" cy="126.1" r="2.9" fill="#008afb"/>
<circle cx="191.4" cy="157.3" r="2.9" fill="#8245c8"/>
<circle cx="104.9" cy="69.7" r="2.9" fill="#4465e5"/>
<circle cx="314.0" cy="130.1" r="2.9" fill="#0086fa"/>
<circle cx="236.7" cy="116.9" r="2.9" fill="#008afb"/>
<circle cx="282.8" cy="124.1" r="2.9" fill="#0079f3"/>
<circle cx="288.8" cy="117.4" r="2.9" fill="#008afb"/>
<circle cx="119.4" cy="154.6" r="2.9" fill="#6d54d6"/>
<circle cx="444.6" cy="227.8" r="2.9" fill="#0088fa"/>
<circle cx="130.8" cy="163.8" r="2.9" fill="#5261e1"/>
<circle cx="111.8" cy="117.6" r="2.9" fill="#0088fa"/>
<circle cx="105.5" cy="95.8" r="2.9" fill="#0084f9"/>
<circle cx="117.2" cy="140.9" r="2.9" fill="#0086fa"/>
<circle cx="152.9" cy="115.2" r="2.9" fill="#008afb"/>
<circle cx="446.8" cy="144.0" r="2.9" fill="#6b55d7"/>
<circle cx="394.3" cy="187.3" r="2.9" fill="#0084f9"/>
<circle cx="267.8" cy="115.0" r="2.9" fill="#008afb"/>
<circle cx="107.3" cy="63.5" r="2.9" fill="#0083f9"/>
<circle cx="436.6" cy="161.9" r="2.9" fill="#fa0065"/>
<circle cx="196.3" cy="167.8" r="2.9" fill="#6b55d7"/>
<circle cx="113.2" cy="82.9" r="2.9" fill="#0089fa"/>
<circle cx="420.3" cy="159.5" r="2.9" fill="#0084f9"/>
<circle cx="309.9" cy="140.3" r="2.9" fill="#008afb"/>
<circle cx="180.5" cy="158.3" r="2.9" fill="#be009e"/>
<circle cx="119.6" cy="102.8" r="2.9" fill="#0085f9"/>
<circle cx="202.7" cy="153.0" r="2.9" fill="#ef0075"/>
<circle cx="297.6" cy="123.6" r="2.9" fill="#0088fa"/>
<circle cx="446.8" cy="161.2" r="2.9" fill="#ff0057"/>
<circle cx="267.7" cy="134.0" r="2.9" fill="#ff0053"/>
<circle cx="408.6" cy="169.9" r="2.9" fill="#ff0058"/>
<circle cx="114.8" cy="127.3" r="2.9" fill="#0078f3"/>
<circle cx="213.1" cy="136.0" r="2.9" fill="#ff0055"/>
<circle cx="327.6" cy="140.1" r="2.9" fill="#0089fa"/>
<circle cx="127.2" cy="121.8" r="2.9" fill="#007ef6"/>
<circle cx="447.3" cy="184.7" r="2.9" fill="#4b63e3"/>
<circle cx="408.2" cy="158.9" r="2.9" fill="#ff0058"/>
<circle cx="358.3" cy="137.3" r="2.9" fill="#0088fa"/>
<circle cx="447.3" cy="195.4" r="2.9" fill="#ff005a"/>
<circle cx="166.0" cy="170.3" r="2.9" fill="#7a4cce"/>
<circle cx="238.0" cy="124.0" r="2.9" fill="#3968e7"/>
<circle cx="423.2" cy="160.5" r="2.9" fill="#ff005b"/>
<circle cx="288.5" cy="143.2" r="2.9" fill="#fe005d"/>
<circle cx="447.1" cy="185.0" r="2.9" fill="#fd0060"/>
<circle cx="211.3" cy="107.9" r="2.9" fill="#0077f2"/>
<circle cx="114.2" cy="128.0" r="2.9" fill="#0083f8"/>
<circle cx="443.3" cy="165.9" r="2.9" fill="#ff0052"/>
<circle cx="173.0" cy="144.0" r="2.9" fill="#0083f8"/>
<circle cx="148.7" cy="161.9" r="2.9" fill="#7f48cb"/>
<circle cx="447.3" cy="273.1" r="2.9" fill="#0080f7"/>
<circle cx="447.4" cy="261.0" r="2.9" fill="#0087fa"/>
<circle cx="440.4" cy="163.0" r="2.9" fill="#ff0053"/>
<circle cx="134.0" cy="151.0" r="2.9" fill="#008afb"/>
<circle cx="372.0" cy="194.0" r="2.9" fill="#0089fa"/>
<circle cx="443.9" cy="222.1" r="2.9" fill="#0084f9"/>
<circle cx="345.5" cy="158.0" r="2.9" fill="#ff0052"/>
<circle cx="424.2" cy="162.7" r="2.9" fill="#9829b1"/>
<circle cx="446.8" cy="149.0" r="2.9" fill="#ff0056"/>
<circle cx="106.7" cy="153.5" r="2.9" fill="#0089fa"/>
<circle cx="321.4" cy="138.2" r="2.9" fill="#9a27b0"/>
<circle cx="290.5" cy="130.3" r="2.9" fill="#0085f9"/>
<circle cx="105.4" cy="73.2" r="2.9" fill="#008afb"/>
<circle cx="334.3" cy="145.0" r="2.9" fill="#0089fa"/>
<circle cx="444.6" cy="201.9" r="2.9" fill="#0089fa"/>
<circle cx="226.0" cy="132.1" r="2.9" fill="#fa0064"/>
<circle cx="419.6" cy="162.2" r="2.9" fill="#0085f9"/>
<circle cx="269.1" cy="109.2" r="2.9" fill="#0089fa"/>
<circle cx="421.9" cy="158.9" r="2.9" fill="#ff0058"/>
<circle cx="110.2" cy="145.6" r="2.9" fill="#3869e8"/>
<circle cx="269.7" cy="142.2" r="2.9" fill="#f80068"/>
<circle cx="267.4" cy="122.5" r="2.9" fill="#0085f9"/>
<circle cx="203.5" cy="141.1" r="2.9" fill="#6857d8"/>
<circle cx="435.6" cy="161.3" r="2.9" fill="#0077f2"/>
<circle cx="405.3" cy="167.2" r="2.9" fill="#3f67e6"/>
<circle cx="447.4" cy="267.2" r="2.9" fill="#0086f9"/>
<circle cx="320.5" cy="133.5" r="2.9" fill="#4066e6"/>
<circle cx="104.9" cy="73.6" r="2.9" fill="#0083f8"/>
<circle cx="447.4" cy="188.2" r="2.9" fill="#8840c3"/>
<circle cx="355.8" cy="178.8" r="2.9" fill="#0082f8"/>
<circle cx="446.4" cy="132.7" r="2.9" fill="#ff0058"/>
<circle cx="120.3" cy="170.0" r="2.9" fill="#ec0079"/>
<circle cx="143.9" cy="172.8" r="2.9" fill="#4565e5"/>
<circle cx="113.4" cy="132.5" r="2.9" fill="#008afb"/>
<circle cx="206.2" cy="143.0" r="2.9" fill="#f70069"/>
<circle cx="341.9" cy="145.6" r="2.9" fill="#0078f3"/>
<circle cx="405.4" cy="176.8" r="2.9" fill="#0086f9"/>
<circle cx="145.2" cy="168.7" r="2.9" fill="#ff0055"/>
<circle cx="333.9" cy="143.4" r="2.9" fill="#fe005c"/>
<circle cx="284.0" cy="133.0" r="2.9" fill="#0086fa"/>
<circle cx="119.6" cy="118.6" r="2.9" fill="#008afb"/>
<circle cx="300.3" cy="136.2" r="2.9" fill="#0083f8"/>
<circle cx="335.4" cy="133.1" r="2.9" fill="#7e48cb"/>
<circle cx="213.5" cy="127.4" r="2.9" fill="#0088fa"/>
<circle cx="146.4" cy="170.4" r="2.9" fill="#4964e4"/>
<circle cx="307.2" cy="145.3" r="2.9" fill="#ff0058"/>
<circle cx="163.9" cy="110.8" r="2.9" fill="#008afb"/>
<circle cx="296.9" cy="149.2" r="2.9" fill="#ff0058"/>
<circle cx="447.1" cy="244.9" r="2.9" fill="#007df6"/>
<circle cx="182.2" cy="152.1" r="2.9" fill="#0085f9"/>
<circle cx="447.0" cy="133.0" r="2.9" fill="#ff005b"/>
<circle cx="302.0" cy="145.3" r="2.9" fill="#ab17a7"/>
<circle cx="356.1" cy="139.8" r="2.9" fill="#0080f7"/>
<circle cx="132.4" cy="120.5" r="2.9" fill="#008afb"/>
<circle cx="157.3" cy="169.6" r="2.9" fill="#fe005e"/>
<circle cx="342.9" cy="143.0" r="2.9" fill="#008afb"/>
<circle cx="149.7" cy="118.4" r="2.9" fill="#2f6ae9"/>
<circle cx="446.8" cy="267.9" r="2.9" fill="#008afb"/>
<circle cx="446.6" cy="162.2" r="2.9" fill="#972cb3"/>
<circle cx="204.3" cy="133.3" r="2.9" fill="#0085f9"/>
<circle cx="238.9" cy="128.1" r="2.9" fill="#ff0052"/>
<circle cx="151.5" cy="153.4" r="2.9" fill="#7152d4"/>
<circle cx="106.9" cy="94.2" r="2.9" fill="#146eec"/>
<circle cx="446.4" cy="155.2" r="2.9" fill="#fe005e"/>
<circle cx="238.4" cy="112.8" r="2.9" fill="#0085f9"/>
<circle cx="142.0" cy="121.4" r="2.9" fill="#0088fa"/>
<circle cx="284.6" cy="112.7" r="2.9" fill="#0082f8"/>
<circle cx="412.6" cy="163.2" r="2.9" fill="#972cb3"/>
<circle cx="210.1" cy="134.1" r="2.9" fill="#2f6ae9"/>
<circle cx="327.7" cy="150.2" r="2.9" fill="#0077f2"/>
<circle cx="198.2" cy="161.9" r="2.9" fill="#ff0057"/>
<circle cx="337.5" cy="146.9" r="2.9" fill="#fe005e"/>
<circle cx="169.5" cy="115.8" r="2.9" fill="#0081f7"/>
<circle cx="324.7" cy="149.3" r="2.9" fill="#ff005b"/>
<circle cx="442.2" cy="216.9" r="2.9" fill="#007bf4"/>
<circle cx="165.1" cy="158.5" r="2.9" fill="#8a3dc1"/>
<circle cx="214.5" cy="134.0" r="2.9" fill="#fe005d"/>
<circle cx="123.0" cy="166.3" r="2.9" fill="#3f67e6"/>
<circle cx="136.5" cy="175.7" r="2.9" fill="#f4006f"/>
<circle cx="148.7" cy="119.5" r="2.9" fill="#0087fa"/>
<circle cx="227.6" cy="113.2" r="2.9" fill="#0084f9"/>
<circle cx="447.4" cy="262.6" r="2.9" fill="#0083f8"/>
<circle cx="353.5" cy="148.1" r="2.9" fill="#fa0065"/>
<circle cx="154.9" cy="172.8" r="2.9" fill="#bb00a0"/>
<circle cx="267.0" cy="127.9" r="2.9" fill="#0086fa"/>
<circle cx="110.8" cy="121.9" r="2.9" fill="#0084f9"/>
<circle cx="361.8" cy="149.8" r="2.9" fill="#f4006f"/>
<circle cx="106.1" cy="146.5" r="2.9" fill="#0087fa"/>
<circle cx="174.9" cy="130.8" r="2.9" fill="#008afb"/>
<circle cx="162.6" cy="109.0" r="2.9" fill="#0087fa"/>
<circle cx="180.8" cy="165.0" r="2.9" fill="#b509a3"/>
<circle cx="113.1" cy="145.8" r="2.9" fill="#0082f8"/>
<circle cx="261.7" cy="145.1" r="2.9" fill="#ff0058"/>
<circle cx="142.9" cy="159.0" r="2.9" fill="#5c5dde"/>
<circle cx="446.3" cy="164.9" r="2.9" fill="#ff005a"/>
<circle cx="447.0" cy="214.1" r="2.9" fill="#0088fa"/>
<circle cx="435.3" cy="160.0" r="2.9" fill="#fe005c"/>
<circle cx="233.7" cy="129.8" r="2.9" fill="#0084f9"/>
<circle cx="325.5" cy="143.8" r="2.9" fill="#fd0060"/>
<circle cx="222.1" cy="124.1" r="2.9" fill="#9036bb"/>
<circle cx="210.3" cy="131.7" r="2.9" fill="#ff0054"/>
<circle cx="123.6" cy="195.0" r="2.9" fill="#fe005e"/>
<circle cx="172.4" cy="140.4" r="2.9" fill="#007ff7"/>
<circle cx="381.1" cy="160.2" r="2.9" fill="#ff0051"/>
<circle cx="384.0" cy="175.2" r="2.9" fill="#0086f9"/>
<circle cx="235.4" cy="114.1" r="2.9" fill="#7251d3"/>
<circle cx="363.0" cy="141.9" r="2.9" fill="#0084f9"/>
<circle cx="388.1" cy="175.2" r="2.9" fill="#007cf5"/>
<circle cx="445.8" cy="129.1" r="2.9" fill="#ff005b"/>
<circle cx="110.6" cy="154.5" r="2.9" fill="#0083f8"/>
<circle cx="276.0" cy="115.4" r="2.9" fill="#0087fa"/>
<circle cx="410.4" cy="163.6" r="2.9" fill="#fe005c"/>
<circle cx="133.3" cy="153.3" r="2.9" fill="#0082f8"/>
<circle cx="133.4" cy="110.9" r="2.9" fill="#0089fa"/>
<circle cx="138.2" cy="179.8" r="2.9" fill="#ff0054"/>
<circle cx="169.2" cy="166.1" r="2.9" fill="#fd005f"/>
<circle cx="377.9" cy="152.9" r="2.9" fill="#0084f9"/>
<circle cx="368.6" cy="174.5" r="2.9" fill="#0083f8"/>
<circle cx="443.9" cy="152.3" r="2.9" fill="#fe005d"/>
<circle cx="198.7" cy="149.2" r="2.9" fill="#8047ca"/>
<circle cx="382.3" cy="152.7" r="2.9" fill="#0089fa"/>
<circle cx="130.9" cy="177.8" r="2.9" fill="#ff0052"/>
<circle cx="313.8" cy="135.5" r="2.9" fill="#0085f9"/>
<circle cx="447.2" cy="270.6" r="2.9" fill="#007df5"/>
<circle cx="314.0" cy="140.4" r="2.9" fill="#4a63e3"/>
<circle cx="341.9" cy="158.6" r="2.9" fill="#ff005a"/>
<circle cx="106.2" cy="109.2" r="2.9" fill="#0075f1"/>
<circle cx="364.3" cy="157.0" r="2.9" fill="#ff0057"/>
<circle cx="147.7" cy="175.6" r="2.9" fill="#ff005b"/>
<circle cx="337.0" cy="182.0" r="2.9" fill="#0085f9"/>
<circle cx="444.9" cy="141.9" r="2.9" fill="#ff0051"/>
<circle cx="429.3" cy="169.5" r="2.9" fill="#ff005b"/>
<circle cx="188.2" cy="147.6" r="2.9" fill="#0084f9"/>
<circle cx="204.4" cy="149.1" r="2.9" fill="#ff0053"/>
<circle cx="425.3" cy="163.0" r="2.9" fill="#fd0060"/>
<circle cx="173.1" cy="150.7" r="2.9" fill="#0084f9"/>
<circle cx="447.3" cy="132.5" r="2.9" fill="#fc0060"/>
<circle cx="292.2" cy="128.7" r="2.9" fill="#0086f9"/>
<circle cx="220.3" cy="122.6" r="2.9" fill="#0086fa"/>
<circle cx="443.8" cy="158.5" r="2.9" fill="#ff0052"/>
<circle cx="207.7" cy="133.4" r="2.9" fill="#8641c5"/>
<circle cx="171.3" cy="160.1" r="2.9" fill="#9e21ac"/>
<circle cx="365.0" cy="136.0" r="2.9" fill="#0088fa"/>
<circle cx="216.3" cy="145.7" r="2.9" fill="#ff0058"/>
<circle cx="444.9" cy="218.0" r="2.9" fill="#0089fa"/>
<circle cx="324.9" cy="144.7" r="2.9" fill="#fd005f"/>
<circle cx="157.6" cy="165.0" r="2.9" fill="#fa0064"/>
<circle cx="447.0" cy="298.6" r="2.9" fill="#0087fa"/>
<circle cx="337.7" cy="138.3" r="2.9" fill="#9f21ac"/>
<circle cx="429.0" cy="176.7" r="2.9" fill="#0085f9"/>
<circle cx="313.1" cy="156.3" r="2.9" fill="#fd0060"/>
<circle cx="340.6" cy="152.0" r="2.9" fill="#fe005d"/>
<circle cx="114.1" cy="118.3" r="2.9" fill="#0077f2"/>
<circle cx="360.6" cy="150.1" r="2.9" fill="#fd005e"/>
<circle cx="434.1" cy="168.3" r="2.9" fill="#ff0053"/>
<circle cx="293.6" cy="124.1" r="2.9" fill="#0076f1"/>
<circle cx="440.0" cy="198.8" r="2.9" fill="#0083f8"/>
<circle cx="110.6" cy="127.9" r="2.9" fill="#0080f7"/>
<circle cx="346.0" cy="143.0" r="2.9" fill="#ff005b"/>
<circle cx="146.5" cy="175.4" r="2.9" fill="#ff005b"/>
<circle cx="261.9" cy="141.4" r="2.9" fill="#ff0052"/>
<circle cx="294.4" cy="148.1" r="2.9" fill="#f10073"/>
<circle cx="225.4" cy="125.6" r="2.9" fill="#6d54d6"/>
<circle cx="298.5" cy="127.9" r="2.9" fill="#0087fa"/>
<circle cx="111.3" cy="165.5" r="2.9" fill="#fe005c"/>
<circle cx="111.0" cy="124.0" r="2.9" fill="#007ef6"/>
<circle cx="121.7" cy="104.1" r="2.9" fill="#0089fa"/>
<circle cx="443.5" cy="220.4" r="2.9" fill="#0086f9"/>
<circle cx="446.5" cy="150.0" r="2.9" fill="#ff0052"/>
<circle cx="119.2" cy="110.1" r="2.9" fill="#0088fa"/>
<circle cx="295.0" cy="119.5" r="2.9" fill="#007bf5"/>
<circle cx="445.0" cy="208.1" r="2.9" fill="#0070ed"/>
<circle cx="213.7" cy="143.6" r="2.9" fill="#fa0064"/>
<circle cx="179.9" cy="157.6" r="2.9" fill="#b608a3"/>
<circle cx="203.9" cy="159.5" r="2.9" fill="#f80068"/>
<circle cx="141.6" cy="163.5" r="2.9" fill="#ed0078"/>
<circle cx="306.9" cy="146.9" r="2.9" fill="#6b55d7"/>
<circle cx="300.1" cy="126.5" r="2.9" fill="#007af4"/>
<circle cx="108.0" cy="150.4" r="2.9" fill="#007bf4"/>
<circle cx="437.4" cy="159.8" r="2.9" fill="#4764e4"/>
<circle cx="113.8" cy="155.5" r="2.9" fill="#0089fa"/>
<circle cx="249.9" cy="142.5" r="2.9" fill="#883fc3"/>
<circle cx="147.6" cy="171.7" r="2.9" fill="#5560e0"/>
<circle cx="264.9" cy="108.7" r="2.9" fill="#0075f1"/>
<circle cx="133.1" cy="148.8" r="2.9" fill="#0089fa"/>
<circle cx="143.2" cy="124.7" r="2.9" fill="#0085f9"/>
<circle cx="395.4" cy="190.9" r="2.9" fill="#007df5"/>
<circle cx="423.5" cy="165.0" r="2.9" fill="#3569e8"/>
<circle cx="112.1" cy="104.9" r="2.9" fill="#0085f9"/>
<circle cx="317.1" cy="154.9" r="2.9" fill="#fe005e"/>
<circle cx="182.3" cy="174.3" r="2.9" fill="#774ed0"/>
<circle cx="447.0" cy="255.4" r="2.9" fill="#0079f3"/>
<circle cx="248.4" cy="112.2" r="2.9" fill="#0083f8"/>
<circle cx="328.4" cy="149.3" r="2.9" fill="#006fed"/>
<circle cx="394.4" cy="160.8" r="2.9" fill="#fc0060"/>
<circle cx="107.2" cy="154.2" r="2.9" fill="#0086fa"/>
<circle cx="327.2" cy="155.2" r="2.9" fill="#ff0058"/>
<circle cx="446.8" cy="130.4" r="2.9" fill="#fe005e"/>
<circle cx="150.6" cy="120.3" r="2.9" fill="#007af4"/>
<circle cx="155.5" cy="174.0" r="2.9" fill="#ff0053"/>
<circle cx="447.3" cy="144.7" r="2.9" fill="#fe005c"/>
<circle cx="217.7" cy="120.7" r="2.9" fill="#0089fa"/>
<circle cx="193.2" cy="122.8" r="2.9" fill="#0085f9"/>
<circle cx="393.8" cy="168.7" r="2.9" fill="#fd005e"/>
<circle cx="216.3" cy="123.6" r="2.9" fill="#8740c3"/>
<circle cx="169.7" cy="165.3" r="2.9" fill="#ed0078"/>
<circle cx="444.4" cy="158.9" r="2.9" fill="#ff005b"/>
<circle cx="110.4" cy="88.8" r="2.9" fill="#007ff6"/>
<circle cx="188.9" cy="122.5" r="2.9" fill="#0088fa"/>
<circle cx="280.2" cy="122.4" r="2.9" fill="#0084f9"/>
<circle cx="114.2" cy="138.3" r="2.9" fill="#0087fa"/>
<circle cx="110.0" cy="173.7" r="2.9" fill="#ff0052"/>
<circle cx="342.3" cy="136.7" r="2.9" fill="#0077f2"/>
<circle cx="207.0" cy="150.1" r="2.9" fill="#ff0056"/>
<circle cx="336.4" cy="144.5" r="2.9" fill="#ff005a"/>
<circle cx="276.4" cy="121.5" r="2.9" fill="#0084f9"/>
<circle cx="198.7" cy="129.0" r="2.9" fill="#0075f0"/>
<circle cx="342.5" cy="156.6" r="2.9" fill="#ff005a"/>
<circle cx="107.8" cy="71.1" r="2.9" fill="#008afb"/>
<circle cx="105.0" cy="217.0" r="2.9" fill="#ff005a"/>
<circle cx="445.0" cy="129.4" r="2.9" fill="#ff0052"/>
<circle cx="306.8" cy="146.1" r="2.9" fill="#f7006a"/>
<circle cx="238.2" cy="132.4" r="2.9" fill="#5161e1"/>
<circle cx="219.3" cy="133.6" r="2.9" fill="#ff005b"/>
<circle cx="265.1" cy="115.1" r="2.9" fill="#0082f8"/>
<circle cx="397.4" cy="155.4" r="2.9" fill="#0084f9"/>
<circle cx="180.8" cy="144.5" r="2.9" fill="#0082f8"/>
<circle cx="161.5" cy="175.5" r="2.9" fill="#ff0055"/>
<circle cx="392.5" cy="160.7" r="2.9" fill="#9b25ae"/>
<circle cx="181.4" cy="128.9" r="2.9" fill="#0086f9"/>
<circle cx="401.9" cy="154.9" r="2.9" fill="#0089fa"/>
<circle cx="375.8" cy="169.5" r="2.9" fill="#ff005c"/>
<circle cx="259.5" cy="136.4" r="2.9" fill="#ff0055"/>
<circle cx="129.3" cy="118.0" r="2.9" fill="#007af4"/>
<circle cx="143.9" cy="179.9" r="2.9" fill="#ff0058"/>
<circle cx="393.3" cy="154.9" r="2.9" fill="#ff0054"/>
<circle cx="344.9" cy="154.6" r="2.9" fill="#fd005f"/>
<circle cx="363.8" cy="158.0" r="2.9" fill="#fd005f"/>
<circle cx="313.5" cy="142.0" r="2.9" fill="#008bfb"/>
<circle cx="432.7" cy="179.5" r="2.9" fill="#008afb"/>
<circle cx="447.1" cy="128.8" r="2.9" fill="#ff0052"/>
<circle cx="348.1" cy="136.3" r="2.9" fill="#565fe0"/>
<circle cx="440.0" cy="138.0" r="2.9" fill="#fe005c"/>
<circle cx="447.5" cy="134.7" r="2.9" fill="#fd0060"/>
<circle cx="107.0" cy="210.0" r="2.9" fill="#fe005d"/>
<circle cx="443.7" cy="156.5" r="2.9" fill="#c2009c"/>
<circle cx="446.9" cy="135.9" r="2.9" fill="#ff0056"/>
<circle cx="386.7" cy="153.9" r="2.9" fill="#007df6"/>
<circle cx="207.9" cy="139.4" r="2.9" fill="#5460e1"/>
<circle cx="234.5" cy="123.8" r="2.9" fill="#0084f9"/>
<circle cx="273.9" cy="114.6" r="2.9" fill="#0086f9"/>
<circle cx="447.2" cy="148.2" r="2.9" fill="#ff0051"/>
<circle cx="175.0" cy="174.1" r="2.9" fill="#ff0054"/>
<circle cx="168.0" cy="177.5" r="2.9" fill="#ff0053"/>
<circle cx="195.2" cy="131.1" r="2.9" fill="#0083f8"/>
<circle cx="310.6" cy="139.7" r="2.9" fill="#0084f9"/>
<circle cx="178.5" cy="146.7" r="2.9" fill="#008afb"/>
<circle cx="447.4" cy="180.7" r="2.9" fill="#fd005f"/>
<circle cx="369.0" cy="151.4" r="2.9" fill="#ff005a"/>
<circle cx="223.6" cy="112.8" r="2.9" fill="#0088fa"/>
<circle cx="209.0" cy="138.4" r="2.9" fill="#7052d4"/>
<circle cx="165.6" cy="177.0" r="2.9" fill="#ff0051"/>
<circle cx="394.9" cy="162.8" r="2.9" fill="#ff005c"/>
<circle cx="427.2" cy="162.4" r="2.9" fill="#6658d9"/>
<circle cx="373.5" cy="145.4" r="2.9" fill="#0074f0"/>
<circle cx="405.6" cy="157.2" r="2.9" fill="#fd005e"/>
<circle cx="387.2" cy="155.3" r="2.9" fill="#8444c7"/>
<circle cx="447.3" cy="128.2" r="2.9" fill="#ff0056"/>
<circle cx="187.6" cy="180.0" r="2.9" fill="#ff0058"/>
<circle cx="125.5" cy="155.4" r="2.9" fill="#0084f9"/>
<circle cx="161.1" cy="157.9" r="2.9" fill="#5b5dde"/>
<circle cx="136.5" cy="172.6" r="2.9" fill="#ff0053"/>
<circle cx="169.0" cy="116.2" r="2.9" fill="#008afb"/>
<circle cx="234.5" cy="137.8" r="2.9" fill="#ff0054"/>
<circle cx="314.9" cy="151.6" r="2.9" fill="#fd005f"/>
<circle cx="273.5" cy="133.6" r="2.9" fill="#5a5ede"/>
<circle cx="109.6" cy="155.6" r="2.9" fill="#fd0060"/>
<circle cx="149.0" cy="147.7" r="2.9" fill="#0083f8"/>
<circle cx="191.3" cy="131.4" r="2.9" fill="#0079f3"/>
<circle cx="281.2" cy="131.5" r="2.9" fill="#764fd1"/>
<circle cx="444.7" cy="211.5" r="2.9" fill="#0085f9"/>
<circle cx="170.0" cy="109.0" r="2.9" fill="#0087fa"/>
<circle cx="265.0" cy="135.4" r="2.9" fill="#f4006f"/>
<circle cx="173.2" cy="113.9" r="2.9" fill="#0079f4"/>
<circle cx="431.9" cy="159.0" r="2.9" fill="#ff0056"/>
<circle cx="279.2" cy="131.8" r="2.9" fill="#0085f9"/>
<circle cx="254.4" cy="107.5" r="2.9" fill="#0085f9"/>
<circle cx="250.7" cy="115.6" r="2.9" fill="#0082f8"/>
<circle cx="176.2" cy="166.6" r="2.9" fill="#ff0054"/>
<circle cx="114.9" cy="173.3" r="2.9" fill="#ff0053"/>
<circle cx="258.2" cy="137.5" r="2.9" fill="#a918a8"/>
<circle cx="310.5" cy="124.9" r="2.9" fill="#0083f8"/>
<circle cx="212.3" cy="126.7" r="2.9" fill="#0087fa"/>
<circle cx="369.7" cy="153.9" r="2.9" fill="#ff0055"/>
<circle cx="435.9" cy="156.2" r="2.9" fill="#0075f0"/>
<circle cx="445.7" cy="138.4" r="2.9" fill="#ff0058"/>
<circle cx="113.5" cy="174.3" r="2.9" fill="#ff0057"/>
<circle cx="126.5" cy="180.6" r="2.9" fill="#fd005f"/>
<circle cx="139.4" cy="126.1" r="2.9" fill="#008afb"/>
<circle cx="318.5" cy="148.1" r="2.9" fill="#ff0056"/>
<circle cx="442.9" cy="155.2" r="2.9" fill="#fd0060"/>
<circle cx="319.0" cy="148.3" r="2.9" fill="#0086f9"/>
<circle cx="271.1" cy="132.7" r="2.9" fill="#0085f9"/>
<circle cx="112.5" cy="129.5" r="2.9" fill="#007cf5"/>
<circle cx="263.3" cy="138.2" r="2.9" fill="#7f48ca"/>
<circle cx="108.0" cy="167.6" r="2.9" fill="#fe005c"/>
<circle cx="112.2" cy="120.9" r="2.9" fill="#0084f9"/>
<circle cx="447.3" cy="287.3" r="2.9" fill="#0083f8"/>
<circle cx="362.5" cy="146.2" r="2.9" fill="#0088fa"/>
<circle cx="447.2" cy="158.8" r="2.9" fill="#9a26af"/>
<circle cx="323.6" cy="146.2" r="2.9" fill="#ff005b"/>
<circle cx="313.8" cy="125.8" r="2.9" fill="#0084f9"/>
<circle cx="182.3" cy="171.4" r="2.9" fill="#fe005c"/>
<circle cx="131.2" cy="181.2" r="2.9" fill="#f5006e"/>
<circle cx="302.3" cy="128.8" r="2.9" fill="#0080f7"/>
<circle cx="335.6" cy="168.7" r="2.9" fill="#0082f8"/>
<circle cx="307.9" cy="124.9" r="2.9" fill="#0088fa"/>
<circle cx="284.8" cy="138.4" r="2.9" fill="#ae13a6"/>
<circle cx="377.1" cy="168.6" r="2.9" fill="#ff0053"/>
<circle cx="254.9" cy="129.3" r="2.9" fill="#0088fa"/>
<circle cx="445.1" cy="153.4" r="2.9" fill="#ff0059"/>
<circle cx="128.7" cy="182.7" r="2.9" fill="#ff0052"/>
<circle cx="330.4" cy="150.0" r="2.9" fill="#8543c6"/>
<circle cx="277.9" cy="132.6" r="2.9" fill="#0075f0"/>
<circle cx="250.3" cy="123.3" r="2.9" fill="#0085f9"/>
<circle cx="370.8" cy="148.0" r="2.9" fill="#8047c9"/>
<circle cx="245.3" cy="130.2" r="2.9" fill="#008afb"/>
<circle cx="441.1" cy="241.1" r="2.9" fill="#0082f8"/>
<circle cx="447.4" cy="282.0" r="2.9" fill="#0085f9"/>
<circle cx="121.8" cy="133.4" r="2.9" fill="#0083f8"/>
<circle cx="447.2" cy="181.4" r="2.9" fill="#4e62e2"/>
<circle cx="164.6" cy="125.0" r="2.9" fill="#0084f9"/>
<circle cx="117.1" cy="152.6" r="2.9" fill="#0083f8"/>
<circle cx="324.2" cy="142.4" r="2.9" fill="#8543c6"/>
<circle cx="125.8" cy="150.2" r="2.9" fill="#0084f9"/>
<circle cx="446.9" cy="166.4" r="2.9" fill="#fe005d"/>
<circle cx="445.3" cy="159.2" r="2.9" fill="#ff0055"/>
<circle cx="196.9" cy="153.2" r="2.9" fill="#6c55d6"/>
<circle cx="127.0" cy="136.6" r="2.9" fill="#0088fa"/>
<circle cx="253.1" cy="130.2" r="2.9" fill="#ff0055"/>
<circle cx="446.7" cy="145.5" r="2.9" fill="#ff0059"/>
<circle cx="386.9" cy="200.7" r="2.9" fill="#007cf5"/>
<circle cx="207.8" cy="152.5" r="2.9" fill="#fd005f"/>
<circle cx="362.9" cy="150.8" r="2.9" fill="#ff005c"/>
<circle cx="137.7" cy="161.4" r="2.9" fill="#ff0055"/>
<circle cx="122.6" cy="98.7" r="2.9" fill="#0088fa"/>
<circle cx="174.4" cy="168.3" r="2.9" fill="#ff005a"/>
<circle cx="393.1" cy="157.0" r="2.9" fill="#ff0059"/>
<circle cx="110.3" cy="82.0" r="2.9" fill="#007ff7"/>
<circle cx="447.3" cy="208.0" r="2.9" fill="#008afb"/>
<circle cx="355.5" cy="138.1" r="2.9" fill="#0089fa"/>
<circle cx="110.5" cy="133.4" r="2.9" fill="#0086f9"/>
<circle cx="265.0" cy="116.6" r="2.9" fill="#008afb"/>
<circle cx="203.7" cy="138.1" r="2.9" fill="#c0009d"/>
<circle cx="266.4" cy="118.7" r="2.9" fill="#007df6"/>
<circle cx="400.0" cy="154.0" r="2.9" fill="#0075f1"/>
<circle cx="163.0" cy="100.5" r="2.9" fill="#0088fa"/>
<circle cx="441.7" cy="131.5" r="2.9" fill="#ff0055"/>
<circle cx="446.6" cy="153.6" r="2.9" fill="#ff0056"/>
<circle cx="420.9" cy="166.0" r="2.9" fill="#ff0057"/>
<circle cx="192.1" cy="133.9" r="2.9" fill="#0086f9"/>
<circle cx="439.9" cy="135.1" r="2.9" fill="#8443c6"/>
<circle cx="294.1" cy="121.9" r="2.9" fill="#0082f8"/>
<circle cx="107.5" cy="73.8" r="2.9" fill="#0078f2"/>
<circle cx="419.4" cy="157.8" r="2.9" fill="#ff0057"/>
<circle cx="126.0" cy="97.1" r="2.9" fill="#0086fa"/>
<circle cx="116.3" cy="106.7" r="2.9" fill="#0086f9"/>
<circle cx="355.2" cy="161.6" r="2.9" fill="#fa0066"/>
<circle cx="410.7" cy="158.5" r="2.9" fill="#007af4"/>
<circle cx="149.6" cy="117.4" r="2.9" fill="#0089fa"/>
<circle cx="140.2" cy="180.6" r="2.9" fill="#fd005f"/>
<circle cx="434.9" cy="161.5" r="2.9" fill="#fd005f"/>
<circle cx="104.8" cy="139.9" r="2.9" fill="#5361e1"/>
<circle cx="138.9" cy="143.3" r="2.9" fill="#605bdc"/>
<circle cx="106.2" cy="135.0" r="2.9" fill="#0089fa"/>
<circle cx="132.6" cy="146.2" r="2.9" fill="#007bf4"/>
<circle cx="447.4" cy="205.5" r="2.9" fill="#007cf5"/>
<circle cx="105.3" cy="144.6" r="2.9" fill="#ff0052"/>
<circle cx="357.8" cy="155.6" r="2.9" fill="#9134b9"/>
<circle cx="135.4" cy="157.5" r="2.9" fill="#5d5cdd"/>
<circle cx="120.6" cy="109.8" r="2.9" fill="#0085f9"/>
<circle cx="163.7" cy="169.4" r="2.9" fill="#ff0057"/>
<circle cx="229.1" cy="102.2" r="2.9" fill="#0088fa"/>
<circle cx="205.3" cy="141.6" r="2.9" fill="#ff005a"/>
<circle cx="142.4" cy="160.1" r="2.9" fill="#8a3dc1"/>
<circle cx="106.4" cy="57.6" r="2.9" fill="#0088fa"/>
<circle cx="417.8" cy="166.0" r="2.9" fill="#ff0057"/>
<circle cx="336.8" cy="141.6" r="2.9" fill="#0086f9"/>
<circle cx="109.3" cy="162.2" r="2.9" fill="#ff0055"/>
<circle cx="121.4" cy="185.1" r="2.9" fill="#ff0053"/>
<circle cx="197.6" cy="143.6" r="2.9" fill="#3d67e6"/>
<circle cx="119.4" cy="124.8" r="2.9" fill="#0088fa"/>
<circle cx="166.0" cy="168.6" r="2.9" fill="#ff0056"/>
<circle cx="149.1" cy="174.3" r="2.9" fill="#fe005e"/>
<circle cx="313.7" cy="145.0" r="2.9" fill="#0081f8"/>
<circle cx="153.3" cy="123.9" r="2.9" fill="#0082f8"/>
<circle cx="438.0" cy="163.2" r="2.9" fill="#fe005c"/>
<circle cx="443.9" cy="133.5" r="2.9" fill="#8642c5"/>
<circle cx="315.8" cy="140.0" r="2.9" fill="#3569e8"/>
<circle cx="181.5" cy="174.2" r="2.9" fill="#ff0056"/>
<circle cx="133.3" cy="177.1" r="2.9" fill="#ff0052"/>
<circle cx="412.8" cy="167.3" r="2.9" fill="#fe005c"/>
<circle cx="235.5" cy="108.0" r="2.9" fill="#008bfb"/>
<circle cx="262.0" cy="106.5" r="2.9" fill="#008afb"/>
<circle cx="120.4" cy="139.1" r="2.9" fill="#0089fa"/>
<circle cx="446.8" cy="219.6" r="2.9" fill="#0089fa"/>
<circle cx="107.0" cy="102.7" r="2.9" fill="#0087fa"/>
<circle cx="246.0" cy="128.1" r="2.9" fill="#9431b7"/>
<circle cx="384.4" cy="154.8" r="2.9" fill="#008afb"/>
<circle cx="199.3" cy="175.9" r="2.9" fill="#f4006f"/>
<circle cx="368.3" cy="141.5" r="2.9" fill="#0083f8"/>
<circle cx="176.0" cy="174.0" r="2.9" fill="#ff0054"/>
<circle cx="170.0" cy="139.7" r="2.9" fill="#0087fa"/>
<circle cx="126.6" cy="167.7" r="2.9" fill="#ff0052"/>
<circle cx="443.4" cy="231.8" r="2.9" fill="#0083f8"/>
<circle cx="447.1" cy="305.4" r="2.9" fill="#0086f9"/>
<circle cx="447.0" cy="188.7" r="2.9" fill="#ff0058"/>
<circle cx="178.2" cy="173.4" r="2.9" fill="#fd005e"/>
<circle cx="348.2" cy="146.8" r="2.9" fill="#ff005b"/>
<circle cx="107.9" cy="105.3" r="2.9" fill="#0088fa"/>
<circle cx="433.3" cy="168.5" r="2.9" fill="#7350d2"/>
<circle cx="331.5" cy="132.7" r="2.9" fill="#0087fa"/>
<circle cx="446.2" cy="161.6" r="2.9" fill="#ff0051"/>
<circle cx="441.8" cy="152.1" r="2.9" fill="#fd005f"/>
<circle cx="121.7" cy="112.6" r="2.9" fill="#0089fa"/>
<circle cx="178.6" cy="135.9" r="2.9" fill="#0089fa"/>
<circle cx="210.3" cy="154.4" r="2.9" fill="#ff005c"/>
<circle cx="145.6" cy="174.6" r="2.9" fill="#ff005a"/>
<circle cx="135.3" cy="151.1" r="2.9" fill="#0088fa"/>
<circle cx="344.1" cy="139.7" r="2.9" fill="#0089fa"/>
<circle cx="107.5" cy="145.6" r="2.9" fill="#ff0058"/>
<circle cx="182.4" cy="180.0" r="2.9" fill="#ec0079"/>
<circle cx="259.2" cy="120.7" r="2.9" fill="#0083f8"/>
<circle cx="385.4" cy="155.5" r="2.9" fill="#fd005f"/>
<circle cx="157.4" cy="181.7" r="2.9" fill="#ff005b"/>
<circle cx="197.7" cy="126.3" r="2.9" fill="#0085f9"/>
<circle cx="104.7" cy="163.1" r="2.9" fill="#fe005c"/>
<circle cx="256.2" cy="116.7" r="2.9" fill="#0085f9"/>
<circle cx="314.7" cy="153.6" r="2.9" fill="#4465e5"/>
<circle cx="201.9" cy="134.7" r="2.9" fill="#0082f8"/>
<circle cx="151.6" cy="149.4" r="2.9" fill="#0083f8"/>
<circle cx="143.3" cy="160.6" r="2.9" fill="#9331b7"/>
<circle cx="106.2" cy="174.4" r="2.9" fill="#ff0051"/>
<circle cx="111.9" cy="117.3" r="2.9" fill="#0085f9"/>
<circle cx="445.5" cy="246.8" r="2.9" fill="#0085f9"/>
<circle cx="166.3" cy="174.1" r="2.9" fill="#ff0053"/>
<circle cx="311.6" cy="155.7" r="2.9" fill="#ff0059"/>
<circle cx="383.0" cy="179.5" r="2.9" fill="#0089fa"/>
<circle cx="445.8" cy="169.3" r="2.9" fill="#ff0057"/>
<circle cx="436.4" cy="169.9" r="2.9" fill="#ff005a"/>
<circle cx="145.4" cy="176.9" r="2.9" fill="#fd005e"/>
<circle cx="106.8" cy="149.6" r="2.9" fill="#007af4"/>
<circle cx="238.3" cy="112.6" r="2.9" fill="#0082f8"/>
<circle cx="278.4" cy="123.5" r="2.9" fill="#0082f8"/>
<circle cx="111.4" cy="155.7" r="2.9" fill="#a21fab"/>
<circle cx="327.0" cy="128.2" r="2.9" fill="#0085f9"/>
<circle cx="106.2" cy="93.8" r="2.9" fill="#0083f8"/>
<circle cx="447.4" cy="168.7" r="2.9" fill="#fd005e"/>
<circle cx="109.2" cy="182.5" r="2.9" fill="#ff0054"/>
<circle cx="279.7" cy="133.5" r="2.9" fill="#f00075"/>
<circle cx="385.5" cy="200.0" r="2.9" fill="#0088fa"/>
<circle cx="222.5" cy="138.6" r="2.9" fill="#ff0057"/>
<circle cx="443.8" cy="242.9" r="2.9" fill="#0088fa"/>
<circle cx="447.3" cy="164.9" r="2.9" fill="#fe005c"/>
<circle cx="338.6" cy="152.2" r="2.9" fill="#ff0059"/>
<circle cx="132.1" cy="172.2" r="2.9" fill="#ea007b"/>
<circle cx="282.6" cy="123.5" r="2.9" fill="#008afb"/>
<circle cx="106.6" cy="122.3" r="2.9" fill="#0084f9"/>
<circle cx="149.2" cy="119.5" r="2.9" fill="#0082f8"/>
<circle cx="211.6" cy="128.2" r="2.9" fill="#8245c8"/>
<circle cx="105.6" cy="133.2" r="2.9" fill="#ff0052"/>
<circle cx="107.2" cy="138.5" r="2.9" fill="#f5006d"/>
<circle cx="368.1" cy="158.0" r="2.9" fill="#ff0057"/>
<circle cx="148.1" cy="181.1" r="2.9" fill="#ff0059"/>
<circle cx="183.8" cy="125.4" r="2.9" fill="#007bf4"/>
<circle cx="447.4" cy="212.1" r="2.9" fill="#0088fa"/>
<circle cx="442.6" cy="158.3" r="2.9" fill="#7f47ca"/>
<circle cx="444.0" cy="160.0" r="2.9" fill="#f90066"/>
<circle cx="107.2" cy="150.5" r="2.9" fill="#f4006f"/>
<circle cx="446.2" cy="203.5" r="2.9" fill="#0086f9"/>
<circle cx="133.5" cy="139.9" r="2.9" fill="#0083f8"/>
<circle cx="247.7" cy="125.7" r="2.9" fill="#962db4"/>
<circle cx="297.2" cy="123.2" r="2.9" fill="#0088fa"/>
<circle cx="245.0" cy="121.0" r="2.9" fill="#ff0053"/>
<circle cx="106.0" cy="147.6" r="2.9" fill="#fe005d"/>
<circle cx="247.6" cy="140.2" r="2.9" fill="#fe005c"/>
<circle cx="111.7" cy="187.2" r="2.9" fill="#eb007b"/>
<circle cx="350.2" cy="140.0" r="2.9" fill="#0086f9"/>
<circle cx="427.9" cy="162.6" r="2.9" fill="#5261e1"/>
<circle cx="179.9" cy="171.8" r="2.9" fill="#ff0053"/>
<circle cx="349.6" cy="138.9" r="2.9" fill="#0085f9"/>
<circle cx="107.2" cy="159.1" r="2.9" fill="#ff0057"/>
<circle cx="178.7" cy="149.3" r="2.9" fill="#0085f9"/>
<circle cx="105.6" cy="69.4" r="2.9" fill="#0089fa"/>
<circle cx="114.0" cy="189.9" r="2.9" fill="#ec0079"/>
<circle cx="411.7" cy="157.4" r="2.9" fill="#f6006c"/>
<circle cx="429.5" cy="162.4" r="2.9" fill="#0070ed"/>
<circle cx="202.4" cy="163.3" r="2.9" fill="#fd005f"/>
<circle cx="245.1" cy="124.6" r="2.9" fill="#008afb"/>
<circle cx="113.9" cy="166.8" r="2.9" fill="#fd005e"/>
<circle cx="198.7" cy="162.0" r="2.9" fill="#fe005e"/>
<circle cx="106.7" cy="167.2" r="2.9" fill="#ff0052"/>
<circle cx="196.4" cy="168.4" r="2.9" fill="#ff0052"/>
<circle cx="434.5" cy="189.0" r="2.9" fill="#0089fa"/>
<circle cx="434.7" cy="189.7" r="2.9" fill="#008afb"/>
<circle cx="156.5" cy="128.5" r="2.9" fill="#008afb"/>
<circle cx="106.7" cy="158.1" r="2.9" fill="#ff005c"/>
<circle cx="447.4" cy="141.5" r="2.9" fill="#fd0060"/>
<circle cx="192.4" cy="123.8" r="2.9" fill="#008afb"/>
<circle cx="447.5" cy="147.6" r="2.9" fill="#595edf"/>
<circle cx="203.1" cy="149.7" r="2.9" fill="#7e48cb"/>
<circle cx="381.9" cy="154.4" r="2.9" fill="#0089fa"/>
<circle cx="315.7" cy="143.4" r="2.9" fill="#7d49cc"/>
<circle cx="334.8" cy="143.4" r="2.9" fill="#ff005b"/>
<circle cx="389.8" cy="175.9" r="2.9" fill="#0086f9"/>
<circle cx="275.7" cy="138.3" r="2.9" fill="#ff0058"/>
<circle cx="291.1" cy="130.7" r="2.9" fill="#0083f8"/>
<circle cx="431.0" cy="214.0" r="2.9" fill="#0089fa"/>
<circle cx="113.4" cy="159.2" r="2.9" fill="#0078f3"/>
<circle cx="194.3" cy="135.9" r="2.9" fill="#0083f8"/>
<circle cx="106.0" cy="97.5" r="2.9" fill="#0077f2"/>
<circle cx="446.9" cy="220.0" r="2.9" fill="#6c55d6"/>
<circle cx="240.8" cy="125.2" r="2.9" fill="#585edf"/>
<circle cx="174.9" cy="163.7" r="2.9" fill="#8641c4"/>
<circle cx="342.3" cy="158.4" r="2.9" fill="#fc0061"/>
<circle cx="199.0" cy="170.8" r="2.9" fill="#fe005d"/>
<circle cx="337.1" cy="149.0" r="2.9" fill="#ff0058"/>
<circle cx="329.9" cy="135.2" r="2.9" fill="#008afb"/>
<circle cx="447.2" cy="169.9" r="2.9" fill="#ff0057"/>
<circle cx="235.5" cy="138.7" r="2.9" fill="#5b5dde"/>
<circle cx="368.4" cy="169.3" r="2.9" fill="#0087fa"/>
<circle cx="389.9" cy="162.1" r="2.9" fill="#7052d4"/>
<circle cx="140.2" cy="132.9" r="2.9" fill="#0077f2"/>
<circle cx="436.8" cy="160.1" r="2.9" fill="#fe005d"/>
<circle cx="251.6" cy="137.4" r="2.9" fill="#ff0058"/>
<circle cx="131.9" cy="164.0" r="2.9" fill="#9135ba"/>
<circle cx="133.0" cy="169.4" r="2.9" fill="#ff005b"/>
<circle cx="109.7" cy="159.2" r="2.9" fill="#fc0060"/>
<circle cx="198.1" cy="173.1" r="2.9" fill="#fd005e"/>
<circle cx="155.9" cy="159.1" r="2.9" fill="#b40ba3"/>
<circle cx="357.3" cy="152.1" r="2.9" fill="#9431b7"/>
<circle cx="105.3" cy="153.7" r="2.9" fill="#ff0052"/>
<circle cx="378.9" cy="158.4" r="2.9" fill="#ff0054"/>
<circle cx="322.4" cy="135.0" r="2.9" fill="#0085f9"/>
<circle cx="446.3" cy="249.8" r="2.9" fill="#0082f8"/>
<circle cx="165.8" cy="147.7" r="2.9" fill="#0081f7"/>
<circle cx="127.6" cy="149.4" r="2.9" fill="#0087fa"/>
<circle cx="116.5" cy="161.1" r="2.9" fill="#ff0057"/>
<circle cx="445.0" cy="150.3" r="2.9" fill="#ff0059"/>
<circle cx="107.3" cy="175.2" r="2.9" fill="#ff0054"/>
<circle cx="387.7" cy="152.8" r="2.9" fill="#0085f9"/>
<circle cx="446.6" cy="157.0" r="2.9" fill="#ff005b"/>
<circle cx="140.4" cy="157.0" r="2.9" fill="#4b63e3"/>
<circle cx="105.9" cy="139.6" r="2.9" fill="#fe005d"/>
<circle cx="446.5" cy="145.7" r="2.9" fill="#ff0055"/>
<circle cx="193.5" cy="179.6" r="2.9" fill="#ff0053"/>
<circle cx="150.2" cy="155.4" r="2.9" fill="#893fc2"/>
<circle cx="113.2" cy="170.8" r="2.9" fill="#ff0054"/>
<circle cx="201.9" cy="156.6" r="2.9" fill="#9d22ad"/>
<circle cx="296.6" cy="128.5" r="2.9" fill="#008afb"/>
<circle cx="109.1" cy="100.3" r="2.9" fill="#007ef6"/>
<circle cx="447.0" cy="190.6" r="2.9" fill="#6857d8"/>
<circle cx="314.1" cy="135.5" r="2.9" fill="#8f37bc"/>
<circle cx="119.0" cy="201.0" r="2.9" fill="#ff005a"/>
<circle cx="175.9" cy="146.4" r="2.9" fill="#595edf"/>
<circle cx="379.2" cy="164.5" r="2.9" fill="#ff005a"/>
<circle cx="331.4" cy="157.9" r="2.9" fill="#ff0058"/>
<circle cx="444.8" cy="143.1" r="2.9" fill="#f6006b"/>
<circle cx="335.1" cy="158.0" r="2.9" fill="#fc0060"/>
<circle cx="106.2" cy="92.2" r="2.9" fill="#0087fa"/>
<circle cx="265.4" cy="136.7" r="2.9" fill="#ff0058"/>
<circle cx="277.7" cy="132.8" r="2.9" fill="#ff005b"/>
<circle cx="421.7" cy="161.3" r="2.9" fill="#962eb4"/>
<circle cx="309.4" cy="125.5" r="2.9" fill="#9332b8"/>
<circle cx="364.3" cy="140.5" r="2.9" fill="#0079f3"/>
<circle cx="176.5" cy="168.9" r="2.9" fill="#fe005d"/>
<circle cx="447.5" cy="267.4" r="2.9" fill="#0088fa"/>
<circle cx="160.0" cy="153.3" r="2.9" fill="#0084f9"/>
<circle cx="116.3" cy="96.5" r="2.9" fill="#0088fa"/>
<circle cx="279.4" cy="138.4" r="2.9" fill="#565fe0"/>
<circle cx="313.4" cy="128.0" r="2.9" fill="#007df5"/>
<circle cx="446.7" cy="150.1" r="2.9" fill="#ff005a"/>
<circle cx="291.6" cy="141.2" r="2.9" fill="#ff0056"/>
<circle cx="112.5" cy="159.2" r="2.9" fill="#6957d8"/>
<circle cx="109.3" cy="162.9" r="2.9" fill="#fe005e"/>
<circle cx="109.5" cy="142.5" r="2.9" fill="#fe005d"/>
<circle cx="402.7" cy="194.7" r="2.9" fill="#008afb"/>
<circle cx="442.8" cy="157.9" r="2.9" fill="#ff0052"/>
<circle cx="151.6" cy="105.4" r="2.9" fill="#007ef6"/>
<circle cx="172.9" cy="164.6" r="2.9" fill="#4a64e3"/>
<circle cx="112.7" cy="157.1" r="2.9" fill="#0085f9"/>
<circle cx="239.2" cy="128.4" r="2.9" fill="#8e38bd"/>
<circle cx="250.8" cy="130.1" r="2.9" fill="#fe005d"/>
<circle cx="178.7" cy="163.6" r="2.9" fill="#5f5bdc"/>
<circle cx="182.9" cy="158.0" r="2.9" fill="#9430b6"/>
<circle cx="406.5" cy="186.3" r="2.9" fill="#0086f9"/>
<circle cx="146.0" cy="145.3" r="2.9" fill="#0085f9"/>
<circle cx="108.4" cy="62.0" r="2.9" fill="#0086f9"/>
<circle cx="192.9" cy="115.2" r="2.9" fill="#0085f9"/>
<circle cx="399.8" cy="168.2" r="2.9" fill="#ff0053"/>
<circle cx="111.3" cy="189.1" r="2.9" fill="#ff0051"/>
<circle cx="105.8" cy="146.8" r="2.9" fill="#0088fa"/>
<circle cx="169.9" cy="165.0" r="2.9" fill="#8443c6"/>
<circle cx="112.6" cy="169.8" r="2.9" fill="#9333b8"/>
<circle cx="173.9" cy="118.1" r="2.9" fill="#008afb"/>
<circle cx="129.9" cy="162.6" r="2.9" fill="#6e54d5"/>
<circle cx="354.1" cy="160.8" r="2.9" fill="#ff0053"/>
<circle cx="340.6" cy="134.4" r="2.9" fill="#4e62e2"/>
<circle cx="415.3" cy="181.8" r="2.9" fill="#0084f9"/>
<circle cx="136.6" cy="165.5" r="2.9" fill="#fe005e"/>
<circle cx="227.0" cy="136.8" r="2.9" fill="#ff005a"/>
<circle cx="387.8" cy="160.3" r="2.9" fill="#fe005e"/>
<circle cx="446.5" cy="157.3" r="2.9" fill="#fd005f"/>
<circle cx="429.4" cy="166.1" r="2.9" fill="#ff0059"/>
<circle cx="169.2" cy="176.1" r="2.9" fill="#fd005e"/>
<circle cx="404.4" cy="163.2" r="2.9" fill="#4166e6"/>
<circle cx="277.7" cy="140.4" r="2.9" fill="#9036bb"/>
<circle cx="162.7" cy="130.9" r="2.9" fill="#008afb"/>
<circle cx="106.8" cy="85.6" r="2.9" fill="#0080f7"/>
<circle cx="446.5" cy="261.1" r="2.9" fill="#3769e8"/>
<circle cx="113.1" cy="150.5" r="2.9" fill="#0086fa"/>
<circle cx="446.3" cy="203.2" r="2.9" fill="#0082f8"/>
<circle cx="441.2" cy="165.7" r="2.9" fill="#ff005b"/>
<circle cx="417.5" cy="165.5" r="2.9" fill="#fd005e"/>
<circle cx="443.6" cy="160.6" r="2.9" fill="#ff0059"/>
<circle cx="405.6" cy="166.3" r="2.9" fill="#8047ca"/>
<circle cx="110.6" cy="99.7" r="2.9" fill="#0087fa"/>
<circle cx="446.9" cy="190.7" r="2.9" fill="#764ed0"/>
<circle cx="246.3" cy="123.8" r="2.9" fill="#0087fa"/>
<circle cx="187.9" cy="159.3" r="2.9" fill="#a819a8"/>
<circle cx="181.3" cy="134.1" r="2.9" fill="#007ef6"/>
<circle cx="447.3" cy="248.1" r="2.9" fill="#008afb"/>
<circle cx="200.5" cy="146.8" r="2.9" fill="#fb0063"/>
<circle cx="130.1" cy="166.0" r="2.9" fill="#ff005b"/>
<circle cx="278.4" cy="126.9" r="2.9" fill="#0087fa"/>
<circle cx="204.3" cy="139.4" r="2.9" fill="#0084f9"/>
<circle cx="323.1" cy="153.6" r="2.9" fill="#ff0059"/>
<circle cx="125.7" cy="180.9" r="2.9" fill="#fd005e"/>
<circle cx="183.3" cy="163.9" r="2.9" fill="#008afb"/>
<circle cx="359.1" cy="140.9" r="2.9" fill="#0084f9"/>
<circle cx="158.7" cy="166.0" r="2.9" fill="#ff0054"/>
<circle cx="321.3" cy="148.0" r="2.9" fill="#8146c9"/>
<circle cx="118.9" cy="146.3" r="2.9" fill="#0080f7"/>
<circle cx="447.1" cy="194.7" r="2.9" fill="#8543c6"/>
<circle cx="445.1" cy="150.9" r="2.9" fill="#ff0051"/>
<circle cx="141.1" cy="119.9" r="2.9" fill="#0083f8"/>
<circle cx="248.9" cy="103.4" r="2.9" fill="#0070ed"/>
<circle cx="200.2" cy="115.8" r="2.9" fill="#0082f8"/>
<circle cx="446.6" cy="231.9" r="2.9" fill="#0080f7"/>
<circle cx="105.4" cy="141.3" r="2.9" fill="#fd005f"/>
<circle cx="140.9" cy="179.5" r="2.9" fill="#fd005f"/>
<circle cx="192.8" cy="128.7" r="2.9" fill="#0088fa"/>
<circle cx="168.0" cy="165.5" r="2.9" fill="#fe005c"/>
<circle cx="441.6" cy="201.5" r="2.9" fill="#0087fa"/>
<circle cx="121.8" cy="175.5" r="2.9" fill="#ff0058"/>
<circle cx="139.9" cy="151.2" r="2.9" fill="#0088fa"/>
<circle cx="372.5" cy="141.3" r="2.9" fill="#0087fa"/>
<circle cx="215.2" cy="111.5" r="2.9" fill="#0087fa"/>
<circle cx="111.0" cy="124.9" r="2.9" fill="#0087fa"/>
<circle cx="142.0" cy="104.0" r="2.9" fill="#0084f9"/>
<circle cx="336.0" cy="147.9" r="2.9" fill="#4166e6"/>
<circle cx="408.4" cy="158.0" r="2.9" fill="#246cea"/>
<circle cx="141.0" cy="191.5" r="2.9" fill="#f7006a"/>
<circle cx="155.2" cy="145.7" r="2.9" fill="#0074f0"/>
<circle cx="343.7" cy="138.8" r="2.9" fill="#0086fa"/>
<circle cx="341.8" cy="133.8" r="2.9" fill="#007bf5"/>
<circle cx="108.8" cy="122.5" r="2.9" fill="#007cf5"/>
<circle cx="329.9" cy="150.7" r="2.9" fill="#ff0053"/>
<circle cx="446.3" cy="224.4" r="2.9" fill="#4665e5"/>
<circle cx="107.1" cy="187.3" r="2.9" fill="#ff0058"/>
<circle cx="399.8" cy="157.0" r="2.9" fill="#9135ba"/>
<circle cx="228.1" cy="109.5" r="2.9" fill="#962eb4"/>
<circle cx="337.4" cy="142.3" r="2.9" fill="#9233b8"/>
<circle cx="111.1" cy="127.1" r="2.9" fill="#007af4"/>
<circle cx="401.6" cy="158.7" r="2.9" fill="#ff0056"/>
<circle cx="322.6" cy="146.7" r="2.9" fill="#8e39be"/>
<circle cx="282.7" cy="134.1" r="2.9" fill="#a120ab"/>
<circle cx="282.6" cy="139.8" r="2.9" fill="#ff0057"/>
<circle cx="118.9" cy="106.7" r="2.9" fill="#0083f8"/>
<circle cx="354.7" cy="149.1" r="2.9" fill="#ff0057"/>
<circle cx="352.2" cy="148.5" r="2.9" fill="#fe005d"/>
<circle cx="255.0" cy="137.7" r="2.9" fill="#326ae9"/>
<circle cx="345.8" cy="182.4" r="2.9" fill="#0089fa"/>
<circle cx="447.4" cy="291.3" r="2.9" fill="#0077f2"/>
<circle cx="109.9" cy="143.6" r="2.9" fill="#ff0055"/>
<circle cx="122.1" cy="95.5" r="2.9" fill="#0082f8"/>
<circle cx="105.3" cy="167.5" r="2.9" fill="#ff005a"/>
<circle cx="340.6" cy="140.2" r="2.9" fill="#6757d9"/>
<circle cx="289.4" cy="133.3" r="2.9" fill="#6c55d6"/>
<circle cx="433.9" cy="167.8" r="2.9" fill="#fe005c"/>
<circle cx="110.3" cy="143.1" r="2.9" fill="#0089fa"/>
<circle cx="280.2" cy="129.9" r="2.9" fill="#0084f9"/>
<circle cx="421.2" cy="159.3" r="2.9" fill="#f5006d"/>
<circle cx="170.4" cy="166.4" r="2.9" fill="#ff0057"/>
<circle cx="126.4" cy="166.3" r="2.9" fill="#9a27af"/>
<circle cx="141.8" cy="161.0" r="2.9" fill="#9135ba"/>
<circle cx="106.0" cy="134.0" r="2.9" fill="#ff005b"/>
<circle cx="324.3" cy="153.0" r="2.9" fill="#fe005e"/>
<circle cx="447.3" cy="161.1" r="2.9" fill="#fa0065"/>
<circle cx="280.3" cy="138.5" r="2.9" fill="#ff0056"/>
<circle cx="447.3" cy="230.4" r="2.9" fill="#0087fa"/>
<circle cx="107.1" cy="96.9" r="2.9" fill="#0089fa"/>
<circle cx="208.3" cy="156.0" r="2.9" fill="#ff005c"/>
<circle cx="109.2" cy="132.9" r="2.9" fill="#972bb3"/>
<circle cx="412.7" cy="159.5" r="2.9" fill="#4366e5"/>
<circle cx="195.5" cy="165.6" r="2.9" fill="#ff0054"/>
<circle cx="149.3" cy="174.5" r="2.9" fill="#f80069"/>
<circle cx="213.8" cy="120.7" r="2.9" fill="#007cf5"/>
<circle cx="104.8" cy="118.5" r="2.9" fill="#0086f9"/>
<circle cx="162.3" cy="171.4" r="2.9" fill="#ff0059"/>
<circle cx="228.6" cy="134.3" r="2.9" fill="#ff0055"/>
<circle cx="358.3" cy="139.7" r="2.9" fill="#007af4"/>
<circle cx="389.7" cy="158.6" r="2.9" fill="#ff0052"/>
<circle cx="162.0" cy="99.6" r="2.9" fill="#0082f8"/>
<circle cx="112.6" cy="145.8" r="2.9" fill="#4765e4"/>
<circle cx="294.1" cy="135.1" r="2.9" fill="#8e39bd"/>
<circle cx="275.1" cy="132.0" r="2.9" fill="#7350d2"/>
<circle cx="215.7" cy="139.7" r="2.9" fill="#ff0052"/>
<circle cx="107.7" cy="103.1" r="2.9" fill="#0084f9"/>
<circle cx="420.8" cy="160.0" r="2.9" fill="#0075f1"/>
<circle cx="123.1" cy="100.5" r="2.9" fill="#0083f8"/>
<circle cx="255.0" cy="107.0" r="2.9" fill="#0083f8"/>
<circle cx="104.8" cy="183.4" r="2.9" fill="#ff0055"/>
<circle cx="446.7" cy="220.2" r="2.9" fill="#0086f9"/>
<circle cx="115.3" cy="78.5" r="2.9" fill="#0085f9"/>
<circle cx="343.8" cy="142.6" r="2.9" fill="#fd005f"/>
<circle cx="430.5" cy="163.0" r="2.9" fill="#8047c9"/>
<circle cx="419.6" cy="160.9" r="2.9" fill="#a31eaa"/>
<circle cx="349.3" cy="156.3" r="2.9" fill="#fc0060"/>
<circle cx="384.8" cy="155.7" r="2.9" fill="#0089fa"/>
<circle cx="447.1" cy="187.6" r="2.9" fill="#a81aa9"/>
<circle cx="110.0" cy="85.4" r="2.9" fill="#008afb"/>
<circle cx="430.0" cy="160.3" r="2.9" fill="#0077f2"/>
<circle cx="447.1" cy="163.7" r="2.9" fill="#fe005d"/>
<circle cx="118.3" cy="165.6" r="2.9" fill="#8c3bbf"/>
<circle cx="132.6" cy="132.8" r="2.9" fill="#0087fa"/>
<circle cx="419.6" cy="170.5" r="2.9" fill="#ec0079"/>
<circle cx="347.9" cy="158.8" r="2.9" fill="#eb007b"/>
<circle cx="315.9" cy="133.0" r="2.9" fill="#0084f9"/>
<circle cx="447.5" cy="306.9" r="2.9" fill="#0083f8"/>
<circle cx="447.1" cy="168.3" r="2.9" fill="#ff0053"/>
<circle cx="381.3" cy="152.8" r="2.9" fill="#4565e5"/>
<circle cx="117.6" cy="118.9" r="2.9" fill="#0087fa"/>
<circle cx="447.1" cy="294.4" r="2.9" fill="#0086fa"/>
<circle cx="139.7" cy="176.7" r="2.9" fill="#ff0051"/>
<circle cx="123.3" cy="163.7" r="2.9" fill="#fe005d"/>
<circle cx="199.3" cy="139.8" r="2.9" fill="#7052d4"/>
<circle cx="333.5" cy="133.4" r="2.9" fill="#575fdf"/>
<circle cx="241.9" cy="131.1" r="2.9" fill="#ff0053"/>
<circle cx="202.1" cy="154.3" r="2.9" fill="#b011a5"/>
<circle cx="142.4" cy="147.6" r="2.9" fill="#0085f9"/>
<circle cx="446.9" cy="269.1" r="2.9" fill="#007af4"/>
<circle cx="135.8" cy="177.7" r="2.9" fill="#ff0054"/>
<circle cx="230.5" cy="136.7" r="2.9" fill="#ff0057"/>
<circle cx="105.1" cy="143.0" r="2.9" fill="#fc0061"/>
<circle cx="309.2" cy="131.6" r="2.9" fill="#007ef6"/>
<circle cx="271.6" cy="114.0" r="2.9" fill="#0084f9"/>
<circle cx="356.3" cy="150.1" r="2.9" fill="#0088fa"/>
<circle cx="106.1" cy="173.8" r="2.9" fill="#7f48ca"/>
<circle cx="105.6" cy="136.5" r="2.9" fill="#b705a2"/>
<circle cx="178.6" cy="137.2" r="2.9" fill="#0082f8"/>
<circle cx="381.9" cy="150.7" r="2.9" fill="#0088fa"/>
<circle cx="195.4" cy="156.0" r="2.9" fill="#972bb2"/>
<circle cx="445.0" cy="146.6" r="2.9" fill="#fc0060"/>
<circle cx="443.5" cy="150.6" r="2.9" fill="#fc0061"/>
<circle cx="240.0" cy="114.1" r="2.9" fill="#0081f7"/>
<circle cx="137.6" cy="183.0" r="2.9" fill="#ff0054"/>
<circle cx="443.5" cy="240.5" r="2.9" fill="#0088fa"/>
<circle cx="183.4" cy="148.6" r="2.9" fill="#0084f9"/>
<circle cx="447.2" cy="157.2" r="2.9" fill="#ff0053"/>
<circle cx="173.3" cy="168.2" r="2.9" fill="#7d49cc"/>
<circle cx="187.9" cy="136.8" r="2.9" fill="#0084f9"/>
<circle cx="163.9" cy="119.2" r="2.9" fill="#0087fa"/>
<circle cx="444.0" cy="157.3" r="2.9" fill="#ff0057"/>
<circle cx="106.3" cy="150.0" r="2.9" fill="#9234b9"/>
<circle cx="106.5" cy="188.4" r="2.9" fill="#6658d9"/>
<circle cx="429.2" cy="166.6" r="2.9" fill="#2f6ae9"/>
<circle cx="270.5" cy="119.2" r="2.9" fill="#0084f9"/>
<circle cx="228.0" cy="97.5" r="2.9" fill="#0077f2"/>
<circle cx="327.6" cy="149.0" r="2.9" fill="#fc0060"/>
<circle cx="249.1" cy="116.9" r="2.9" fill="#0084f9"/>
<circle cx="425.4" cy="167.7" r="2.9" fill="#ff0057"/>
<circle cx="330.7" cy="143.4" r="2.9" fill="#3868e8"/>
<circle cx="116.4" cy="176.4" r="2.9" fill="#fd0060"/>
<circle cx="388.8" cy="155.5" r="2.9" fill="#6459da"/>
<circle cx="390.8" cy="182.0" r="2.9" fill="#0088fa"/>
<circle cx="234.0" cy="127.6" r="2.9" fill="#4366e5"/>
<circle cx="357.9" cy="142.1" r="2.9" fill="#635adb"/>
<circle cx="218.2" cy="127.6" r="2.9" fill="#0080f7"/>
<circle cx="447.4" cy="174.8" r="2.9" fill="#ef0076"/>
<circle cx="335.3" cy="139.6" r="2.9" fill="#ff005b"/>
<circle cx="175.1" cy="177.6" r="2.9" fill="#ff005b"/>
<circle cx="221.8" cy="122.0" r="2.9" fill="#a71ba9"/>
<circle cx="376.9" cy="151.0" r="2.9" fill="#764fd1"/>
<circle cx="441.3" cy="180.9" r="2.9" fill="#0079f3"/>
<circle cx="122.4" cy="155.5" r="2.9" fill="#8c3bbf"/>
<circle cx="151.6" cy="140.9" r="2.9" fill="#0086fa"/>
<circle cx="110.3" cy="114.0" r="2.9" fill="#0084f9"/>
<circle cx="443.7" cy="164.8" r="2.9" fill="#fd005f"/>
<circle cx="106.4" cy="184.3" r="2.9" fill="#9d22ad"/>
<circle cx="412.9" cy="154.8" r="2.9" fill="#fd005e"/>
<circle cx="318.5" cy="150.8" r="2.9" fill="#fe005d"/>
<circle cx="447.0" cy="189.1" r="2.9" fill="#8245c8"/>
<circle cx="164.5" cy="169.0" r="2.9" fill="#ff005a"/>
<circle cx="447.2" cy="278.6" r="2.9" fill="#0089fa"/>
<circle cx="447.4" cy="267.6" r="2.9" fill="#0086f9"/>
<circle cx="432.6" cy="190.7" r="2.9" fill="#0084f9"/>
<circle cx="155.1" cy="172.9" r="2.9" fill="#4665e4"/>
<circle cx="145.5" cy="170.9" r="2.9" fill="#ff005b"/>
<circle cx="193.2" cy="170.1" r="2.9" fill="#ff0058"/>
<circle cx="445.0" cy="236.3" r="2.9" fill="#0080f7"/>
<circle cx="119.8" cy="163.9" r="2.9" fill="#ff0053"/>
<circle cx="175.9" cy="151.3" r="2.9" fill="#5560e0"/>
<circle cx="282.6" cy="133.2" r="2.9" fill="#6558da"/>
<circle cx="446.3" cy="142.6" r="2.9" fill="#ff0056"/>
<circle cx="106.9" cy="149.7" r="2.9" fill="#5d5cdd"/>
<circle cx="107.1" cy="138.6" r="2.9" fill="#ff0056"/>
<circle cx="107.7" cy="150.9" r="2.9" fill="#ef0075"/>
<circle cx="105.3" cy="144.9" r="2.9" fill="#ea007b"/>
<circle cx="374.9" cy="145.7" r="2.9" fill="#008afb"/>
<circle cx="447.5" cy="226.7" r="2.9" fill="#0088fa"/>
<circle cx="380.4" cy="155.8" r="2.9" fill="#ff0054"/>
<circle cx="113.2" cy="142.8" r="2.9" fill="#0083f8"/>
<circle cx="376.1" cy="153.5" r="2.9" fill="#ff005a"/>
<circle cx="446.4" cy="129.5" r="2.9" fill="#ff0059"/>
<circle cx="262.0" cy="129.2" r="2.9" fill="#595edf"/>
<circle cx="199.3" cy="174.4" r="2.9" fill="#ff005c"/>
<circle cx="446.6" cy="155.9" r="2.9" fill="#fc0061"/>
<circle cx="447.4" cy="290.6" r="2.9" fill="#0084f9"/>
<circle cx="397.8" cy="155.1" r="2.9" fill="#0086f9"/>
<circle cx="260.8" cy="119.0" r="2.9" fill="#5361e1"/>
<circle cx="113.7" cy="169.9" r="2.9" fill="#6559da"/>
<circle cx="392.9" cy="197.8" r="2.9" fill="#0084f9"/>
<circle cx="144.3" cy="172.1" r="2.9" fill="#f6006b"/>
<circle cx="443.5" cy="136.5" r="2.9" fill="#fc0060"/>
<circle cx="441.6" cy="142.4" r="2.9" fill="#ff0052"/>
<circle cx="366.7" cy="152.9" r="2.9" fill="#565fe0"/>
<circle cx="262.3" cy="145.1" r="2.9" fill="#ff0059"/>
<circle cx="220.9" cy="133.1" r="2.9" fill="#ff0059"/>
<circle cx="382.6" cy="157.3" r="2.9" fill="#ff0058"/>
<circle cx="308.3" cy="147.5" r="2.9" fill="#ff0057"/>
<circle cx="260.5" cy="139.3" r="2.9" fill="#8b3cc0"/>
<circle cx="375.4" cy="158.5" r="2.9" fill="#ff005a"/>
<circle cx="367.5" cy="143.4" r="2.9" fill="#0077f2"/>
<circle cx="388.7" cy="155.5" r="2.9" fill="#5360e1"/>
<circle cx="273.2" cy="125.2" r="2.9" fill="#9431b7"/>
<circle cx="138.8" cy="123.9" r="2.9" fill="#0089fa"/>
<circle cx="446.3" cy="164.3" r="2.9" fill="#ff0058"/>
<circle cx="446.7" cy="163.5" r="2.9" fill="#9c23ad"/>
<circle cx="268.5" cy="131.3" r="2.9" fill="#0085f9"/>
<circle cx="111.4" cy="158.2" r="2.9" fill="#ff005b"/>
<circle cx="147.5" cy="172.0" r="2.9" fill="#fe005d"/>
<circle cx="207.4" cy="112.0" r="2.9" fill="#0089fa"/>
<circle cx="247.4" cy="126.3" r="2.9" fill="#fe005c"/>
<circle cx="183.6" cy="133.7" r="2.9" fill="#0085f9"/>
<circle cx="447.1" cy="191.5" r="2.9" fill="#f30070"/>
<circle cx="310.2" cy="147.8" r="2.9" fill="#a21fab"/>
<circle cx="265.0" cy="121.7" r="2.9" fill="#0084f9"/>
<circle cx="397.0" cy="157.2" r="2.9" fill="#ff0056"/>
<circle cx="111.5" cy="178.6" r="2.9" fill="#fa0065"/>
<circle cx="320.2" cy="141.8" r="2.9" fill="#f30070"/>
<circle cx="446.5" cy="232.9" r="2.9" fill="#0089fa"/>
<circle cx="377.2" cy="164.7" r="2.9" fill="#fd005e"/>
<circle cx="447.4" cy="303.7" r="2.9" fill="#0084f9"/>
<circle cx="444.7" cy="150.5" r="2.9" fill="#fe005d"/>
<circle cx="137.3" cy="147.6" r="2.9" fill="#bb00a0"/>
<circle cx="446.5" cy="160.6" r="2.9" fill="#fd005e"/>
<circle cx="112.4" cy="120.1" r="2.9" fill="#0088fa"/>
<circle cx="431.7" cy="169.4" r="2.9" fill="#fd005e"/>
<circle cx="407.4" cy="166.3" r="2.9" fill="#ff0053"/>
<circle cx="230.8" cy="110.4" r="2.9" fill="#0078f3"/>
<circle cx="393.3" cy="168.9" r="2.9" fill="#ff0053"/>
<circle cx="122.3" cy="175.0" r="2.9" fill="#fd005e"/>
<circle cx="195.3" cy="154.3" r="2.9" fill="#ab17a7"/>
<circle cx="359.3" cy="153.4" r="2.9" fill="#0085f9"/>
<circle cx="151.9" cy="158.0" r="2.9" fill="#4b63e3"/>
<circle cx="115.4" cy="184.0" r="2.9" fill="#ff0056"/>
<circle cx="191.5" cy="164.2" r="2.9" fill="#8245c8"/>
<circle cx="447.1" cy="140.4" r="2.9" fill="#ff0051"/>
<circle cx="166.5" cy="118.0" r="2.9" fill="#0084f9"/>
<circle cx="344.2" cy="158.1" r="2.9" fill="#fe005c"/>
<circle cx="106.0" cy="66.2" r="2.9" fill="#0084f9"/>
<circle cx="371.2" cy="155.3" r="2.9" fill="#aa18a8"/>
<circle cx="106.0" cy="196.0" r="2.9" fill="#ff0055"/>
<circle cx="447.5" cy="197.7" r="2.9" fill="#ff0055"/>
<circle cx="145.3" cy="168.0" r="2.9" fill="#fd005e"/>
<circle cx="446.4" cy="247.4" r="2.9" fill="#0077f2"/>
<circle cx="443.3" cy="135.4" r="2.9" fill="#ff0053"/>
<circle cx="205.0" cy="144.6" r="2.9" fill="#ff005b"/>
<circle cx="372.1" cy="160.9" r="2.9" fill="#fc0060"/>
<circle cx="406.6" cy="162.9" r="2.9" fill="#fe005d"/>
<circle cx="189.7" cy="137.6" r="2.9" fill="#008afb"/>
<circle cx="441.8" cy="162.1" r="2.9" fill="#ff005b"/>
<circle cx="286.2" cy="146.0" r="2.9" fill="#7052d4"/>
<circle cx="212.8" cy="108.6" r="2.9" fill="#0084f9"/>
<circle cx="200.7" cy="157.1" r="2.9" fill="#fd005e"/>
<circle cx="446.7" cy="180.9" r="2.9" fill="#ff0055"/>
<circle cx="130.0" cy="100.0" r="2.9" fill="#0086fa"/>
<circle cx="278.0" cy="130.7" r="2.9" fill="#0079f4"/>
<circle cx="105.1" cy="85.5" r="2.9" fill="#0087fa"/>
<circle cx="238.4" cy="117.3" r="2.9" fill="#6a56d7"/>
<circle cx="264.7" cy="128.7" r="2.9" fill="#ff005b"/>
<circle cx="121.9" cy="163.6" r="2.9" fill="#8047ca"/>
<circle cx="313.4" cy="129.2" r="2.9" fill="#0084f9"/>
<circle cx="443.3" cy="162.3" r="2.9" fill="#ff0059"/>
<circle cx="155.3" cy="117.5" r="2.9" fill="#0085f9"/>
<circle cx="447.3" cy="168.6" r="2.9" fill="#ff005a"/>
<circle cx="107.0" cy="160.7" r="2.9" fill="#fa0065"/>
<circle cx="403.6" cy="192.1" r="2.9" fill="#0089fa"/>
<circle cx="234.6" cy="128.7" r="2.9" fill="#0083f8"/>
<circle cx="360.9" cy="137.3" r="2.9" fill="#0086f9"/>
<circle cx="239.0" cy="110.7" r="2.9" fill="#0087fa"/>
<circle cx="128.9" cy="115.6" r="2.9" fill="#008afb"/>
<circle cx="444.4" cy="155.2" r="2.9" fill="#fc0060"/>
<circle cx="311.8" cy="142.1" r="2.9" fill="#ff005a"/>
<circle cx="336.2" cy="138.2" r="2.9" fill="#3868e7"/>
<circle cx="223.6" cy="100.9" r="2.9" fill="#0089fa"/>
<circle cx="290.3" cy="140.1" r="2.9" fill="#ff0053"/>
<circle cx="444.4" cy="154.1" r="2.9" fill="#fc0060"/>
<circle cx="345.3" cy="135.6" r="2.9" fill="#595ede"/>
<circle cx="210.8" cy="136.4" r="2.9" fill="#ff005a"/>
<circle cx="237.3" cy="125.9" r="2.9" fill="#0077f2"/>
<circle cx="329.9" cy="132.6" r="2.9" fill="#0088fa"/>
<circle cx="123.2" cy="117.7" r="2.9" fill="#0083f8"/>
<circle cx="313.6" cy="139.7" r="2.9" fill="#fd005f"/>
<circle cx="182.3" cy="169.1" r="2.9" fill="#fd0060"/>
<circle cx="394.1" cy="184.9" r="2.9" fill="#0083f8"/>
<circle cx="109.0" cy="214.5" r="2.9" fill="#fd005f"/>
<circle cx="446.0" cy="127.8" r="2.9" fill="#ff0051"/>
<circle cx="284.6" cy="117.9" r="2.9" fill="#0075f1"/>
<circle cx="202.3" cy="125.6" r="2.9" fill="#0075f1"/>
<circle cx="415.4" cy="163.5" r="2.9" fill="#008afb"/>
<circle cx="295.2" cy="134.9" r="2.9" fill="#794cce"/>
<circle cx="186.6" cy="158.9" r="2.9" fill="#ac16a7"/>
<circle cx="117.5" cy="185.6" r="2.9" fill="#ff005c"/>
<circle cx="196.1" cy="167.9" r="2.9" fill="#fd0060"/>
<circle cx="195.0" cy="134.7" r="2.9" fill="#008afb"/>
<circle cx="205.9" cy="131.3" r="2.9" fill="#008afb"/>
<circle cx="106.2" cy="188.7" r="2.9" fill="#ff005c"/>
<circle cx="118.4" cy="179.9" r="2.9" fill="#ff005c"/>
<circle cx="112.9" cy="125.9" r="2.9" fill="#007df5"/>
<circle cx="187.1" cy="127.1" r="2.9" fill="#0085f9"/>
<circle cx="446.5" cy="128.3" r="2.9" fill="#fe005e"/>
<circle cx="229.1" cy="115.5" r="2.9" fill="#0089fa"/>
<circle cx="447.1" cy="194.0" r="2.9" fill="#fd005f"/>
<circle cx="446.9" cy="307.4" r="2.9" fill="#0083f8"/>
<circle cx="326.9" cy="135.3" r="2.9" fill="#794dcf"/>
<circle cx="162.1" cy="156.0" r="2.9" fill="#962eb5"/>
<circle cx="400.6" cy="157.1" r="2.9" fill="#7152d3"/>
<circle cx="372.6" cy="168.0" r="2.9" fill="#fd0060"/>
<circle cx="121.8" cy="105.0" r="2.9" fill="#0089fa"/>
<circle cx="351.4" cy="148.1" r="2.9" fill="#ff0056"/>
<circle cx="105.6" cy="163.1" r="2.9" fill="#ff0059"/>
<circle cx="447.4" cy="207.8" r="2.9" fill="#007ef6"/>
<circle cx="447.3" cy="216.2" r="2.9" fill="#0085f9"/>
<circle cx="442.1" cy="168.0" r="2.9" fill="#ff0056"/>
<circle cx="288.9" cy="120.7" r="2.9" fill="#774ed0"/>
<circle cx="117.0" cy="166.1" r="2.9" fill="#fe005d"/>
<circle cx="443.7" cy="131.7" r="2.9" fill="#fb0063"/>
<circle cx="167.1" cy="168.0" r="2.9" fill="#ff0052"/>
<circle cx="105.3" cy="127.9" r="2.9" fill="#0086f9"/>
<circle cx="107.4" cy="168.3" r="2.9" fill="#fd0060"/>
<circle cx="297.8" cy="132.2" r="2.9" fill="#6459da"/>
<circle cx="373.4" cy="147.1" r="2.9" fill="#ff0055"/>
<circle cx="299.3" cy="135.0" r="2.9" fill="#0082f8"/>
<circle cx="340.1" cy="155.0" r="2.9" fill="#ff0057"/>
<circle cx="308.4" cy="139.3" r="2.9" fill="#0084f9"/>
<circle cx="108.1" cy="152.3" r="2.9" fill="#ff0058"/>
<circle cx="386.7" cy="154.6" r="2.9" fill="#0087fa"/>
<circle cx="191.7" cy="121.3" r="2.9" fill="#0084f9"/>
<circle cx="135.6" cy="143.3" r="2.9" fill="#0085f9"/>
<circle cx="446.9" cy="290.5" r="2.9" fill="#0086f9"/>
<circle cx="340.5" cy="146.1" r="2.9" fill="#276cea"/>
<circle cx="172.3" cy="168.4" r="2.9" fill="#a41daa"/>
<circle cx="319.4" cy="131.8" r="2.9" fill="#0089fa"/>
<circle cx="134.7" cy="170.0" r="2.9" fill="#ff0055"/>
<circle cx="116.6" cy="113.5" r="2.9" fill="#0084f9"/>
<circle cx="124.2" cy="98.9" r="2.9" fill="#0082f8"/>
<circle cx="194.7" cy="158.0" r="2.9" fill="#ff0052"/>
<circle cx="107.8" cy="163.0" r="2.9" fill="#ff0059"/>
<circle cx="252.8" cy="117.6" r="2.9" fill="#0076f1"/>
<circle cx="446.8" cy="220.5" r="2.9" fill="#0085f9"/>
<circle cx="269.7" cy="111.1" r="2.9" fill="#0089fa"/>
<circle cx="446.7" cy="138.9" r="2.9" fill="#ff0059"/>
<circle cx="279.5" cy="138.4" r="2.9" fill="#5360e1"/>
<circle cx="319.0" cy="143.2" r="2.9" fill="#ff0054"/>
<circle cx="431.5" cy="163.0" r="2.9" fill="#0079f3"/>
<circle cx="203.3" cy="136.5" r="2.9" fill="#0087fa"/>
<circle cx="366.4" cy="144.3" r="2.9" fill="#ff0055"/>
<circle cx="109.7" cy="149.6" r="2.9" fill="#754fd1"/>
<circle cx="302.5" cy="154.8" r="2.9" fill="#ff005a"/>
<circle cx="105.4" cy="166.5" r="2.9" fill="#ff0058"/>
<circle cx="183.1" cy="143.5" r="2.9" fill="#9929b1"/>
<circle cx="106.1" cy="139.2" r="2.9" fill="#f00074"/>
<circle cx="447.4" cy="287.1" r="2.9" fill="#0086f9"/>
<circle cx="184.4" cy="166.5" r="2.9" fill="#ff005b"/>
<circle cx="181.8" cy="170.5" r="2.9" fill="#ff0055"/>
<circle cx="278.1" cy="140.7" r="2.9" fill="#ff0054"/>
<circle cx="447.1" cy="140.8" r="2.9" fill="#fe005c"/>
<circle cx="384.9" cy="152.6" r="2.9" fill="#0086f9"/>
<circle cx="225.4" cy="124.5" r="2.9" fill="#0081f7"/>
<circle cx="221.5" cy="113.3" r="2.9" fill="#0084f9"/>
<circle cx="115.1" cy="157.5" r="2.9" fill="#7152d3"/>
<circle cx="373.1" cy="151.3" r="2.9" fill="#0084f9"/>
<circle cx="235.0" cy="102.0" r="2.9" fill="#0085f9"/>
<circle cx="413.0" cy="162.2" r="2.9" fill="#0089fa"/>
<circle cx="153.4" cy="124.0" r="2.9" fill="#0088fa"/>
<circle cx="315.3" cy="140.7" r="2.9" fill="#c2009c"/>
<circle cx="443.8" cy="143.1" r="2.9" fill="#ff0057"/>
<circle cx="199.3" cy="139.9" r="2.9" fill="#6359db"/>
<circle cx="156.9" cy="164.9" r="2.9" fill="#ff0055"/>
<circle cx="104.7" cy="176.6" r="2.9" fill="#fe005e"/>
<circle cx="447.4" cy="242.4" r="2.9" fill="#0088fa"/>
<circle cx="117.8" cy="153.5" r="2.9" fill="#007ef6"/>
<circle cx="434.5" cy="162.9" r="2.9" fill="#ff0055"/>
<circle cx="233.8" cy="105.4" r="2.9" fill="#0086f9"/>
<circle cx="310.8" cy="143.3" r="2.9" fill="#0083f8"/>
<circle cx="442.8" cy="130.8" r="2.9" fill="#9332b8"/>
<circle cx="300.0" cy="126.6" r="2.9" fill="#008afb"/>
<circle cx="202.3" cy="133.3" r="2.9" fill="#962eb4"/>
<circle cx="288.2" cy="136.9" r="2.9" fill="#8543c6"/>
<circle cx="399.0" cy="163.5" r="2.9" fill="#ff0059"/>
<circle cx="109.0" cy="136.0" r="2.9" fill="#008bfb"/>
<circle cx="185.8" cy="161.6" r="2.9" fill="#6a56d7"/>
<circle cx="380.0" cy="149.0" r="2.9" fill="#0080f7"/>
<circle cx="447.4" cy="152.4" r="2.9" fill="#ff0057"/>
<circle cx="393.1" cy="182.1" r="2.9" fill="#008afb"/>
<circle cx="143.9" cy="133.2" r="2.9" fill="#0089fa"/>
<circle cx="287.3" cy="147.3" r="2.9" fill="#fe005d"/>
<circle cx="272.2" cy="117.1" r="2.9" fill="#0086f9"/>
<circle cx="218.1" cy="142.1" r="2.9" fill="#fd005e"/>
<circle cx="140.6" cy="106.2" r="2.9" fill="#0085f9"/>
<circle cx="303.5" cy="133.8" r="2.9" fill="#4d63e3"/>
<circle cx="359.0" cy="140.5" r="2.9" fill="#008afb"/>
<circle cx="447.3" cy="282.7" r="2.9" fill="#0083f8"/>
<circle cx="189.7" cy="158.8" r="2.9" fill="#5e5cdd"/>
<circle cx="111.8" cy="144.6" r="2.9" fill="#008afb"/>
<circle cx="446.8" cy="169.9" r="2.9" fill="#ff0057"/>
<circle cx="445.4" cy="132.2" r="2.9" fill="#ff0055"/>
<circle cx="447.3" cy="140.8" r="2.9" fill="#ff0056"/>
<circle cx="332.1" cy="138.3" r="2.9" fill="#794ccf"/>
<circle cx="126.4" cy="149.9" r="2.9" fill="#0089fa"/>
<circle cx="134.8" cy="113.4" r="2.9" fill="#0089fa"/>
<circle cx="383.7" cy="158.4" r="2.9" fill="#0076f1"/>
<circle cx="274.6" cy="141.7" r="2.9" fill="#a919a8"/>
<circle cx="197.4" cy="154.3" r="2.9" fill="#ff0052"/>
<circle cx="112.6" cy="117.9" r="2.9" fill="#0085f9"/>
<circle cx="106.1" cy="189.3" r="2.9" fill="#ff0054"/>
<circle cx="165.5" cy="168.6" r="2.9" fill="#fd0060"/>
<circle cx="417.8" cy="169.2" r="2.9" fill="#ff0057"/>
<circle cx="272.3" cy="130.4" r="2.9" fill="#ff0054"/>
<circle cx="260.4" cy="122.3" r="2.9" fill="#0089fa"/>
<circle cx="138.4" cy="131.1" r="2.9" fill="#0086f9"/>
<circle cx="182.4" cy="168.4" r="2.9" fill="#ff0056"/>
<circle cx="130.4" cy="168.4" r="2.9" fill="#fe005d"/>
<circle cx="107.4" cy="95.8" r="2.9" fill="#0087fa"/>
<circle cx="139.4" cy="145.6" r="2.9" fill="#0089fa"/>
<circle cx="287.7" cy="125.7" r="2.9" fill="#0085f9"/>
<circle cx="301.2" cy="148.8" r="2.9" fill="#8741c4"/>
<circle cx="182.5" cy="156.4" r="2.9" fill="#0084f9"/>
<circle cx="144.3" cy="132.4" r="2.9" fill="#0086f9"/>
<circle cx="298.9" cy="124.9" r="2.9" fill="#008afb"/>
<circle cx="447.4" cy="151.2" r="2.9" fill="#fd0060"/>
<circle cx="313.5" cy="139.3" r="2.9" fill="#0084f9"/>
<circle cx="271.5" cy="136.0" r="2.9" fill="#fe005d"/>
<circle cx="180.1" cy="151.0" r="2.9" fill="#4764e4"/>
<circle cx="447.5" cy="289.9" r="2.9" fill="#0082f8"/>
<circle cx="267.8" cy="133.7" r="2.9" fill="#0085f9"/>
<circle cx="311.0" cy="139.6" r="2.9" fill="#f90067"/>
<circle cx="193.4" cy="113.8" r="2.9" fill="#0084f9"/>
<circle cx="125.7" cy="140.5" r="2.9" fill="#0088fa"/>
<circle cx="118.2" cy="103.9" r="2.9" fill="#0087fa"/>
<circle cx="444.7" cy="224.6" r="2.9" fill="#007ff6"/>
<circle cx="346.0" cy="147.1" r="2.9" fill="#ff0054"/>
<circle cx="136.8" cy="164.1" r="2.9" fill="#fe005e"/>
<circle cx="279.5" cy="148.3" r="2.9" fill="#ff0057"/>
<circle cx="391.6" cy="155.9" r="2.9" fill="#9b24ad"/>
<circle cx="447.4" cy="299.4" r="2.9" fill="#0086f9"/>
<circle cx="373.5" cy="154.1" r="2.9" fill="#ff0054"/>
<circle cx="228.0" cy="122.0" r="2.9" fill="#ff0058"/>
<circle cx="155.7" cy="152.5" r="2.9" fill="#0085f9"/>
<circle cx="341.6" cy="146.2" r="2.9" fill="#fc0061"/>
<circle cx="302.5" cy="145.3" r="2.9" fill="#0072ee"/>
<circle cx="226.4" cy="118.9" r="2.9" fill="#0087fa"/>
<circle cx="186.1" cy="165.1" r="2.9" fill="#ff0056"/>
<circle cx="182.2" cy="170.9" r="2.9" fill="#8047ca"/>
<circle cx="445.9" cy="132.8" r="2.9" fill="#6b56d7"/>
<circle cx="315.7" cy="129.7" r="2.9" fill="#0088fa"/>
<circle cx="252.9" cy="137.2" r="2.9" fill="#ff0052"/>
<circle cx="121.0" cy="124.5" r="2.9" fill="#0086f9"/>
<circle cx="427.2" cy="162.4" r="2.9" fill="#952fb5"/>
<circle cx="198.5" cy="169.7" r="2.9" fill="#ff0052"/>
<circle cx="198.9" cy="168.9" r="2.9" fill="#ff0055"/>
<circle cx="222.6" cy="102.4" r="2.9" fill="#007bf4"/>
<circle cx="234.5" cy="108.2" r="2.9" fill="#0083f8"/>
<circle cx="119.1" cy="170.9" r="2.9" fill="#fa0066"/>
<circle cx="372.3" cy="156.0" r="2.9" fill="#fe005d"/>
<circle cx="113.7" cy="167.4" r="2.9" fill="#ec0079"/>
<circle cx="283.7" cy="123.8" r="2.9" fill="#6c54d6"/>
<circle cx="153.3" cy="172.2" r="2.9" fill="#0076f1"/>
<circle cx="405.2" cy="169.9" r="2.9" fill="#fd005f"/>
<circle cx="376.1" cy="192.4" r="2.9" fill="#6757d9"/>
<circle cx="447.2" cy="297.8" r="2.9" fill="#008afb"/>
<circle cx="218.0" cy="143.2" r="2.9" fill="#fd005f"/>
<circle cx="447.3" cy="132.5" r="2.9" fill="#ff0054"/>
<circle cx="106.0" cy="62.5" r="2.9" fill="#0089fa"/>
<circle cx="211.8" cy="121.5" r="2.9" fill="#0087fa"/>
<circle cx="344.6" cy="160.0" r="2.9" fill="#f5006e"/>
<circle cx="199.6" cy="115.0" r="2.9" fill="#008afb"/>
<circle cx="270.7" cy="111.8" r="2.9" fill="#0078f3"/>
<circle cx="382.5" cy="175.5" r="2.9" fill="#0088fa"/>
<circle cx="289.0" cy="130.5" r="2.9" fill="#7b4bcd"/>
<circle cx="443.9" cy="225.3" r="2.9" fill="#0083f8"/>
<circle cx="112.1" cy="132.7" r="2.9" fill="#0084f9"/>
<circle cx="108.3" cy="163.8" r="2.9" fill="#fc0061"/>
<circle cx="447.2" cy="285.9" r="2.9" fill="#007cf5"/>
<circle cx="310.8" cy="154.1" r="2.9" fill="#f90067"/>
<circle cx="447.5" cy="247.5" r="2.9" fill="#0075f1"/>
<circle cx="256.5" cy="129.8" r="2.9" fill="#007df6"/>
<circle cx="105.4" cy="141.0" r="2.9" fill="#ff0057"/>
<circle cx="269.2" cy="134.6" r="2.9" fill="#ff0057"/>
<circle cx="104.7" cy="137.1" r="2.9" fill="#336ae8"/>
<circle cx="447.4" cy="250.8" r="2.9" fill="#0077f2"/>
<circle cx="117.6" cy="110.7" r="2.9" fill="#0083f8"/>
<circle cx="446.6" cy="171.4" r="2.9" fill="#635adb"/>
<circle cx="446.2" cy="143.1" r="2.9" fill="#ff0059"/>
<circle cx="447.5" cy="161.3" r="2.9" fill="#ff0059"/>
<circle cx="275.8" cy="108.0" r="2.9" fill="#007df6"/>
<circle cx="447.3" cy="203.0" r="2.9" fill="#ff0058"/>
<circle cx="130.4" cy="177.9" r="2.9" fill="#ff005b"/>
<circle cx="431.0" cy="163.7" r="2.9" fill="#ff005b"/>
<circle cx="418.5" cy="208.0" r="2.9" fill="#0084f9"/>
<circle cx="178.3" cy="116.6" r="2.9" fill="#0075f1"/>
<circle cx="447.2" cy="145.6" r="2.9" fill="#fe005c"/>
<circle cx="447.3" cy="260.0" r="2.9" fill="#0089fa"/>
<circle cx="408.0" cy="174.1" r="2.9" fill="#ff005b"/>
<circle cx="367.9" cy="144.0" r="2.9" fill="#a21fab"/>
<circle cx="152.9" cy="170.6" r="2.9" fill="#ff005c"/>
<circle cx="439.9" cy="129.6" r="2.9" fill="#ff005a"/>
<circle cx="107.9" cy="119.4" r="2.9" fill="#0083f8"/>
<circle cx="233.0" cy="131.4" r="2.9" fill="#fe005d"/>
<circle cx="432.6" cy="169.4" r="2.9" fill="#ff0054"/>
<circle cx="106.6" cy="170.9" r="2.9" fill="#fd005e"/>
<circle cx="432.4" cy="161.0" r="2.9" fill="#5c5dde"/>
<circle cx="167.0" cy="105.0" r="2.9" fill="#0086f9"/>
<circle cx="184.3" cy="154.0" r="2.9" fill="#bf009d"/>
<circle cx="268.2" cy="139.2" r="2.9" fill="#4565e5"/>
<circle cx="107.0" cy="77.8" r="2.9" fill="#008afb"/>
<circle cx="327.5" cy="131.2" r="2.9" fill="#0078f3"/>
<circle cx="211.0" cy="115.6" r="2.9" fill="#0089fa"/>
<circle cx="234.2" cy="141.7" r="2.9" fill="#ee0077"/>
<circle cx="246.0" cy="130.6" r="2.9" fill="#fd005e"/>
<circle cx="247.1" cy="134.2" r="2.9" fill="#fe005e"/>
<circle cx="433.8" cy="164.1" r="2.9" fill="#ff0059"/>
<circle cx="133.7" cy="166.1" r="2.9" fill="#4b63e3"/>
<circle cx="434.3" cy="164.3" r="2.9" fill="#ff0057"/>
<circle cx="299.2" cy="143.5" r="2.9" fill="#0089fa"/>
<circle cx="414.3" cy="170.9" r="2.9" fill="#ff0053"/>
<circle cx="447.0" cy="164.0" r="2.9" fill="#ff0053"/>
<circle cx="142.0" cy="171.5" r="2.9" fill="#f4006e"/>
<circle cx="120.5" cy="164.8" r="2.9" fill="#b20da4"/>
<circle cx="106.4" cy="187.1" r="2.9" fill="#ff0057"/>
<circle cx="203.4" cy="123.8" r="2.9" fill="#0083f8"/>
<circle cx="176.4" cy="177.1" r="2.9" fill="#fe005e"/>
<circle cx="293.6" cy="141.7" r="2.9" fill="#3c68e7"/>
<circle cx="192.2" cy="167.0" r="2.9" fill="#fe005c"/>
<circle cx="225.5" cy="131.3" r="2.9" fill="#f30070"/>
<circle cx="346.7" cy="139.8" r="2.9" fill="#0086f9"/>
<circle cx="447.4" cy="161.0" r="2.9" fill="#2c6be9"/>
<circle cx="199.5" cy="156.2" r="2.9" fill="#ff005b"/>
<circle cx="360.9" cy="150.2" r="2.9" fill="#6a56d7"/>
<circle cx="414.8" cy="167.3" r="2.9" fill="#fe005d"/>
<circle cx="260.6" cy="117.0" r="2.9" fill="#0086f9"/>
<circle cx="104.6" cy="100.1" r="2.9" fill="#0083f8"/>
<circle cx="107.6" cy="66.3" r="2.9" fill="#008afb"/>
<circle cx="225.4" cy="125.7" r="2.9" fill="#2f6be9"/>
<circle cx="110.7" cy="139.1" r="2.9" fill="#ff0054"/>
<circle cx="196.0" cy="173.0" r="2.9" fill="#fd0060"/>
<circle cx="106.6" cy="162.1" r="2.9" fill="#ef0076"/>
<circle cx="144.2" cy="126.3" r="2.9" fill="#0088fa"/>
<circle cx="380.8" cy="152.5" r="2.9" fill="#5261e1"/>
<circle cx="263.5" cy="148.1" r="2.9" fill="#fd0060"/>
</g>
<g id="nanrug">
<rect x="83.3" y="135.7" width="7.8" height="22.7" fill="#ff0051"/>
<rect x="83.3" y="158.7" width="7.8" height="1.0" fill="#0084f9"/>
<rect x="83.3" y="159.7" width="7.8" height="2.3" fill="#ff0051"/>
<rect x="83.3" y="162" width="7.8" height="3.7" fill="#9135ba"/>
<rect x="83.3" y="165.7" width="7.8" height="3.6" fill="#ff0051"/>
<rect x="83.3" y="169.3" width="7.8" height="6.6" fill="#0086fa"/>
<rect x="83.3" y="175.9" width="7.8" height="4.1" fill="#635adb"/>
<rect x="83.3" y="180" width="7.8" height="2.5" fill="#ff0051"/>
<rect x="83.3" y="182.5" width="7.8" height="4.5" fill="#9135ba"/>
<rect x="83.3" y="195" width="7.8" height="1.0" fill="#ff0056"/>
<rect x="83.3" y="196" width="7.8" height="2.0" fill="#0086fa"/>
<rect x="83.3" y="198" width="7.8" height="1.0" fill="#bb00a0"/>
<rect x="83.3" y="199" width="7.8" height="1.5" fill="#0086fa"/>
<rect x="83.3" y="200.5" width="7.8" height="1.0" fill="#9135ba"/>
<rect x="83.3" y="201.5" width="7.8" height="7.3" fill="#0086fa"/>
<rect x="83.3" y="208.8" width="7.8" height="2.2" fill="#8a3ec1"/>
<rect x="83.3" y="211.9" width="7.8" height="17.3" fill="#0086fa"/>
<rect x="83.3" y="231.5" width="7.8" height="12.7" fill="#0086fa"/>
<rect x="83.3" y="247.7" width="7.8" height="2.7" fill="#0086fa"/>
</g>
<g stroke="#808080" stroke-width="3" stroke-linecap="butt">
<line x1="100.2" y1="64.0" x2="124.7" y2="64.0"/>
<line x1="122.6" y1="81.4" x2="151.9" y2="81.4"/>
<line x1="149.6" y1="129.35" x2="279.6" y2="129.35"/>
<line x1="278.2" y1="144.6" x2="449.2" y2="144.6"/>
</g>
<g stroke="#333" stroke-width="1.1" fill="none">
<line x1="83.0" y1="31.3" x2="83.0" y2="342.9"/>
<line x1="82.45" y1="342.35" x2="465.7" y2="342.35"/>
<line x1="77.7" y1="57.3" x2="83.0" y2="57.3"/>
<line x1="77.7" y1="100.9" x2="83.0" y2="100.9"/>
<line x1="77.7" y1="144.5" x2="83.0" y2="144.5"/>
<line x1="77.7" y1="188.1" x2="83.0" y2="188.1"/>
<line x1="77.7" y1="231.7" x2="83.0" y2="231.7"/>
<line x1="77.7" y1="275.3" x2="83.0" y2="275.3"/>
<line x1="77.7" y1="318.9" x2="83.0" y2="318.9"/>
<line x1="110.3" y1="342.35" x2="110.3" y2="347.3"/>
<line x1="177.8" y1="342.35" x2="177.8" y2="347.3"/>
<line x1="245.4" y1="342.35" x2="245.4" y2="347.3"/>
<line x1="312.9" y1="342.35" x2="312.9" y2="347.3"/>
<line x1="380.4" y1="342.35" x2="380.4" y2="347.3"/>
<line x1="447.9" y1="342.35" x2="447.9" y2="347.3"/>
</g>
<g font-family="'DejaVu Sans', 'Liberation Sans', sans-serif" font-size="15.9" fill="#333">
<text x="72.6" y="63.3" text-anchor="end">2</text>
<text x="72.6" y="106.9" text-anchor="end">1</text>
<text x="72.6" y="150.5" text-anchor="end">0</text>
<text x="72.6" y="194.1" text-anchor="end">−1</text>
<text x="72.6" y="237.7" text-anchor="end">−2</text>
<text x="72.6" y="281.3" text-anchor="end">−3</text>
<text x="72.6" y="324.9" text-anchor="end">−4</text>
<text x="110.3" y="364.2" text-anchor="middle">−1.0</text>
<text x="177.8" y="364.2" text-anchor="middle">−0.8</text>
<text x="245.4" y="364.2" text-anchor="middle">−0.6</text>
<text x="312.9" y="364.2" text-anchor="middle">−0.4</text>
<text x="380.4" y="364.2" text-anchor="middle">−0.2</text>
<text x="447.9" y="364.2" text-anchor="middle">0.0</text>
</g>
<g font-family="'DejaVu Sans', 'Liberation Sans', sans-serif" font-size="18.7" fill="#333">
<text x="274.1" y="387.7" text-anchor="middle">Average Used Credit (L3M)</text>
<text transform="translate(18.6,187.5) rotate(-90)" text-anchor="middle">SHAP value for</text>
<text transform="translate(39.8,187.5) rotate(-90)" text-anchor="middle">Average Used Credit (L3M)</text>
</g>
<rect x="269.5" y="38.6" width="188.7" height="24.7" rx="2.5" fill="#fff" fill-opacity="0.8" stroke="#ccc" stroke-width="1"/>
<circle cx="289.7" cy="51.1" r="2.75" fill="#808080"/>
<text x="315.6" y="55.5" font-family="'DejaVu Sans', 'Liberation Sans', sans-serif" font-size="14.3" fill="#000">Logistic Regression</text>
<rect x="489.1" y="31.5" width="6.35" height="310.8" fill="url(#cb)"/>
<g stroke="#000" stroke-width="1.1">
<line x1="495.45" y1="342.3" x2="500.4" y2="342.3"/>
<line x1="495.45" y1="307.3" x2="500.4" y2="307.3"/>
<line x1="495.45" y1="272.4" x2="500.4" y2="272.4"/>
<line x1="495.45" y1="237.4" x2="500.4" y2="237.4"/>
<line x1="495.45" y1="202.5" x2="500.4" y2="202.5"/>
<line x1="495.45" y1="167.5" x2="500.4" y2="167.5"/>
<line x1="495.45" y1="132.6" x2="500.4" y2="132.6"/>
<line x1="495.45" y1="97.6" x2="500.4" y2="97.6"/>
<line x1="495.45" y1="62.7" x2="500.4" y2="62.7"/>
</g>
<g font-family="'DejaVu Sans', 'Liberation Sans', sans-serif" font-size="15.9" fill="#000">
<text x="505.5" y="348.3">0</text>
<text x="505.5" y="313.3">10</text>
<text x="505.5" y="278.4">20</text>
<text x="505.5" y="243.4">30</text>
<text x="505.5" y="208.5">40</text>
<text x="505.5" y="173.5">50</text>
<text x="505.5" y="138.6">60</text>
<text x="505.5" y="103.6">70</text>
<text x="505.5" y="68.7">80</text>
</g>
<text transform="translate(546.6,187.3) rotate(-90)" text-anchor="middle" font-family="'DejaVu Sans', 'Liberation Sans', sans-serif" font-size="18.6" fill="#000">Balance Longest Positive Interval (L3M)</text>
</svg>
</body></html>
